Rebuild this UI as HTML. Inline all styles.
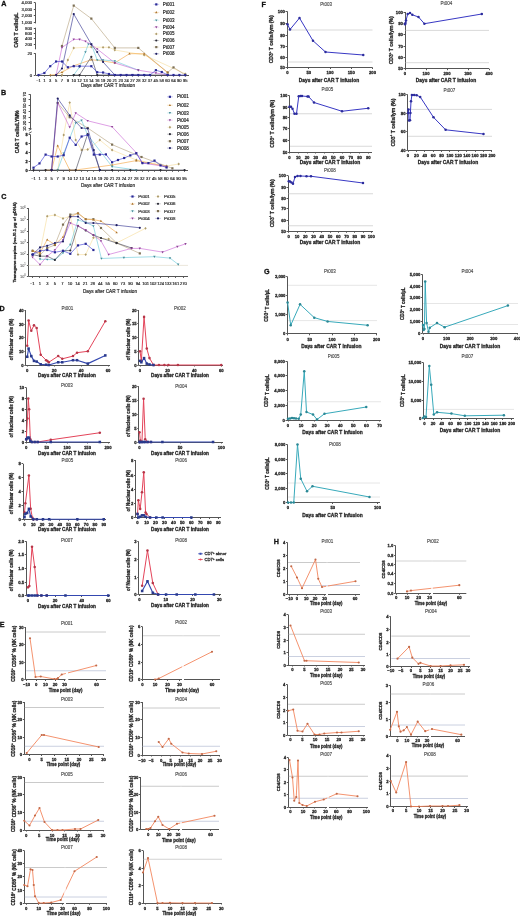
<!DOCTYPE html><html><head><meta charset="utf-8"><title>CAR T figure</title><style>html,body{margin:0;padding:0;background:#fff;width:520px;height:916px;overflow:hidden}svg{display:block;filter:blur(0.4px)}</style></head><body>
<svg width="520" height="916" viewBox="0 0 520 916" font-family="'Liberation Sans', Arial, sans-serif">
<rect width="520" height="916" fill="#fff"/>
<text x="3.80" y="3.40" font-size="7.2" text-anchor="middle" font-weight="bold" fill="#111" stroke="#111" stroke-width="0.28" dominant-baseline="central">A</text>
<line x1="35.50" y1="2.60" x2="35.50" y2="23.40" stroke="#555" stroke-width="1.0"/>
<line x1="35.50" y1="27.70" x2="35.50" y2="49.30" stroke="#555" stroke-width="1.0"/>
<line x1="35.50" y1="53.20" x2="35.50" y2="75.00" stroke="#555" stroke-width="1.0"/>
<line x1="33.80" y1="2.50" x2="35.40" y2="2.50" stroke="#555" stroke-width="1.0"/>
<text x="32.20" y="2.60" font-size="4.3" text-anchor="end" font-weight="normal" fill="#262626" stroke="#262626" stroke-width="0.17" dominant-baseline="central">4,000</text>
<line x1="33.80" y1="9.50" x2="35.40" y2="9.50" stroke="#555" stroke-width="1.0"/>
<text x="32.20" y="9.10" font-size="4.3" text-anchor="end" font-weight="normal" fill="#262626" stroke="#262626" stroke-width="0.17" dominant-baseline="central">3,000</text>
<line x1="33.80" y1="15.50" x2="35.40" y2="15.50" stroke="#555" stroke-width="1.0"/>
<text x="32.20" y="15.80" font-size="4.3" text-anchor="end" font-weight="normal" fill="#262626" stroke="#262626" stroke-width="0.17" dominant-baseline="central">2,000</text>
<line x1="33.80" y1="22.50" x2="35.40" y2="22.50" stroke="#555" stroke-width="1.0"/>
<text x="32.20" y="22.70" font-size="4.3" text-anchor="end" font-weight="normal" fill="#262626" stroke="#262626" stroke-width="0.17" dominant-baseline="central">1,000</text>
<line x1="33.80" y1="28.50" x2="35.40" y2="28.50" stroke="#555" stroke-width="1.0"/>
<text x="32.20" y="28.10" font-size="4.3" text-anchor="end" font-weight="normal" fill="#262626" stroke="#262626" stroke-width="0.17" dominant-baseline="central">800</text>
<line x1="33.80" y1="33.50" x2="35.40" y2="33.50" stroke="#555" stroke-width="1.0"/>
<text x="32.20" y="33.30" font-size="4.3" text-anchor="end" font-weight="normal" fill="#262626" stroke="#262626" stroke-width="0.17" dominant-baseline="central">600</text>
<line x1="33.80" y1="38.50" x2="35.40" y2="38.50" stroke="#555" stroke-width="1.0"/>
<text x="32.20" y="38.90" font-size="4.3" text-anchor="end" font-weight="normal" fill="#262626" stroke="#262626" stroke-width="0.17" dominant-baseline="central">400</text>
<line x1="33.80" y1="44.50" x2="35.40" y2="44.50" stroke="#555" stroke-width="1.0"/>
<text x="32.20" y="44.50" font-size="4.3" text-anchor="end" font-weight="normal" fill="#262626" stroke="#262626" stroke-width="0.17" dominant-baseline="central">200</text>
<line x1="33.80" y1="53.50" x2="35.40" y2="53.50" stroke="#555" stroke-width="1.0"/>
<text x="32.20" y="53.60" font-size="4.3" text-anchor="end" font-weight="normal" fill="#262626" stroke="#262626" stroke-width="0.17" dominant-baseline="central">20</text>
<line x1="33.80" y1="75.50" x2="35.40" y2="75.50" stroke="#555" stroke-width="1.0"/>
<text x="32.20" y="75.00" font-size="4.3" text-anchor="end" font-weight="normal" fill="#262626" stroke="#262626" stroke-width="0.17" dominant-baseline="central">0</text>
<text x="15.80" y="30.20" font-size="5.0" text-anchor="middle" font-weight="bold" fill="#262626" stroke="#262626" stroke-width="0.28" dominant-baseline="central" transform="rotate(-90 15.80 30.20)">CAR T cells/µL</text>
<line x1="35.60" y1="75.50" x2="189.00" y2="75.50" stroke="#555" stroke-width="1.0"/>
<line x1="38.50" y1="75.00" x2="38.50" y2="76.60" stroke="#555" stroke-width="1.0"/>
<text x="38.50" y="80.40" font-size="4.1" text-anchor="middle" font-weight="normal" fill="#262626" stroke="#262626" stroke-width="0.17" dominant-baseline="central">−1</text>
<line x1="44.50" y1="75.00" x2="44.50" y2="76.60" stroke="#555" stroke-width="1.0"/>
<text x="44.37" y="80.40" font-size="4.1" text-anchor="middle" font-weight="normal" fill="#262626" stroke="#262626" stroke-width="0.17" dominant-baseline="central">1</text>
<line x1="50.50" y1="75.00" x2="50.50" y2="76.60" stroke="#555" stroke-width="1.0"/>
<text x="50.24" y="80.40" font-size="4.1" text-anchor="middle" font-weight="normal" fill="#262626" stroke="#262626" stroke-width="0.17" dominant-baseline="central">3</text>
<line x1="56.50" y1="75.00" x2="56.50" y2="76.60" stroke="#555" stroke-width="1.0"/>
<text x="56.11" y="80.40" font-size="4.1" text-anchor="middle" font-weight="normal" fill="#262626" stroke="#262626" stroke-width="0.17" dominant-baseline="central">5</text>
<line x1="61.50" y1="75.00" x2="61.50" y2="76.60" stroke="#555" stroke-width="1.0"/>
<text x="61.98" y="80.40" font-size="4.1" text-anchor="middle" font-weight="normal" fill="#262626" stroke="#262626" stroke-width="0.17" dominant-baseline="central">7</text>
<line x1="67.50" y1="75.00" x2="67.50" y2="76.60" stroke="#555" stroke-width="1.0"/>
<text x="67.85" y="80.40" font-size="4.1" text-anchor="middle" font-weight="normal" fill="#262626" stroke="#262626" stroke-width="0.17" dominant-baseline="central">9</text>
<line x1="73.50" y1="75.00" x2="73.50" y2="76.60" stroke="#555" stroke-width="1.0"/>
<text x="73.72" y="80.40" font-size="4.1" text-anchor="middle" font-weight="normal" fill="#262626" stroke="#262626" stroke-width="0.17" dominant-baseline="central">10</text>
<line x1="79.50" y1="75.00" x2="79.50" y2="76.60" stroke="#555" stroke-width="1.0"/>
<text x="79.59" y="80.40" font-size="4.1" text-anchor="middle" font-weight="normal" fill="#262626" stroke="#262626" stroke-width="0.17" dominant-baseline="central">12</text>
<line x1="85.50" y1="75.00" x2="85.50" y2="76.60" stroke="#555" stroke-width="1.0"/>
<text x="85.46" y="80.40" font-size="4.1" text-anchor="middle" font-weight="normal" fill="#262626" stroke="#262626" stroke-width="0.17" dominant-baseline="central">13</text>
<line x1="91.50" y1="75.00" x2="91.50" y2="76.60" stroke="#555" stroke-width="1.0"/>
<text x="91.33" y="80.40" font-size="4.1" text-anchor="middle" font-weight="normal" fill="#262626" stroke="#262626" stroke-width="0.17" dominant-baseline="central">14</text>
<line x1="97.50" y1="75.00" x2="97.50" y2="76.60" stroke="#555" stroke-width="1.0"/>
<text x="97.20" y="80.40" font-size="4.1" text-anchor="middle" font-weight="normal" fill="#262626" stroke="#262626" stroke-width="0.17" dominant-baseline="central">16</text>
<line x1="103.50" y1="75.00" x2="103.50" y2="76.60" stroke="#555" stroke-width="1.0"/>
<text x="103.07" y="80.40" font-size="4.1" text-anchor="middle" font-weight="normal" fill="#262626" stroke="#262626" stroke-width="0.17" dominant-baseline="central">19</text>
<line x1="108.50" y1="75.00" x2="108.50" y2="76.60" stroke="#555" stroke-width="1.0"/>
<text x="108.94" y="80.40" font-size="4.1" text-anchor="middle" font-weight="normal" fill="#262626" stroke="#262626" stroke-width="0.17" dominant-baseline="central">20</text>
<line x1="114.50" y1="75.00" x2="114.50" y2="76.60" stroke="#555" stroke-width="1.0"/>
<text x="114.81" y="80.40" font-size="4.1" text-anchor="middle" font-weight="normal" fill="#262626" stroke="#262626" stroke-width="0.17" dominant-baseline="central">21</text>
<line x1="120.50" y1="75.00" x2="120.50" y2="76.60" stroke="#555" stroke-width="1.0"/>
<text x="120.68" y="80.40" font-size="4.1" text-anchor="middle" font-weight="normal" fill="#262626" stroke="#262626" stroke-width="0.17" dominant-baseline="central">23</text>
<line x1="126.50" y1="75.00" x2="126.50" y2="76.60" stroke="#555" stroke-width="1.0"/>
<text x="126.55" y="80.40" font-size="4.1" text-anchor="middle" font-weight="normal" fill="#262626" stroke="#262626" stroke-width="0.17" dominant-baseline="central">24</text>
<line x1="132.50" y1="75.00" x2="132.50" y2="76.60" stroke="#555" stroke-width="1.0"/>
<text x="132.42" y="80.40" font-size="4.1" text-anchor="middle" font-weight="normal" fill="#262626" stroke="#262626" stroke-width="0.17" dominant-baseline="central">27</text>
<line x1="138.50" y1="75.00" x2="138.50" y2="76.60" stroke="#555" stroke-width="1.0"/>
<text x="138.29" y="80.40" font-size="4.1" text-anchor="middle" font-weight="normal" fill="#262626" stroke="#262626" stroke-width="0.17" dominant-baseline="central">28</text>
<line x1="144.50" y1="75.00" x2="144.50" y2="76.60" stroke="#555" stroke-width="1.0"/>
<text x="144.16" y="80.40" font-size="4.1" text-anchor="middle" font-weight="normal" fill="#262626" stroke="#262626" stroke-width="0.17" dominant-baseline="central">32</text>
<line x1="150.50" y1="75.00" x2="150.50" y2="76.60" stroke="#555" stroke-width="1.0"/>
<text x="150.03" y="80.40" font-size="4.1" text-anchor="middle" font-weight="normal" fill="#262626" stroke="#262626" stroke-width="0.17" dominant-baseline="central">37</text>
<line x1="155.50" y1="75.00" x2="155.50" y2="76.60" stroke="#555" stroke-width="1.0"/>
<text x="155.90" y="80.40" font-size="4.1" text-anchor="middle" font-weight="normal" fill="#262626" stroke="#262626" stroke-width="0.17" dominant-baseline="central">45</text>
<line x1="161.50" y1="75.00" x2="161.50" y2="76.60" stroke="#555" stroke-width="1.0"/>
<text x="161.77" y="80.40" font-size="4.1" text-anchor="middle" font-weight="normal" fill="#262626" stroke="#262626" stroke-width="0.17" dominant-baseline="central">58</text>
<line x1="167.50" y1="75.00" x2="167.50" y2="76.60" stroke="#555" stroke-width="1.0"/>
<text x="167.64" y="80.40" font-size="4.1" text-anchor="middle" font-weight="normal" fill="#262626" stroke="#262626" stroke-width="0.17" dominant-baseline="central">60</text>
<line x1="173.50" y1="75.00" x2="173.50" y2="76.60" stroke="#555" stroke-width="1.0"/>
<text x="173.51" y="80.40" font-size="4.1" text-anchor="middle" font-weight="normal" fill="#262626" stroke="#262626" stroke-width="0.17" dominant-baseline="central">64</text>
<line x1="179.50" y1="75.00" x2="179.50" y2="76.60" stroke="#555" stroke-width="1.0"/>
<text x="179.38" y="80.40" font-size="4.1" text-anchor="middle" font-weight="normal" fill="#262626" stroke="#262626" stroke-width="0.17" dominant-baseline="central">90</text>
<line x1="185.50" y1="75.00" x2="185.50" y2="76.60" stroke="#555" stroke-width="1.0"/>
<text x="185.25" y="80.40" font-size="4.1" text-anchor="middle" font-weight="normal" fill="#262626" stroke="#262626" stroke-width="0.17" dominant-baseline="central">95</text>
<text x="108.00" y="85.80" font-size="4.7" text-anchor="middle" font-weight="normal" fill="#262626" stroke="#262626" stroke-width="0.17" dominant-baseline="central">Days after CAR T infusion</text>
<polyline points="61.98,75.00 67.85,60.00 73.72,48.00 91.33,47.00 103.07,47.30 108.94,47.30 114.81,50.00 144.16,55.00 185.25,73.80" fill="none" stroke="#f7dc98" stroke-width="0.75" stroke-linejoin="round" stroke-opacity="0.8"/>
<polygon points="61.98,73.58 60.78,75.00 61.98,76.42 63.18,75.00" fill="#ac9a6a"/>
<polygon points="67.85,58.58 66.65,60.00 67.85,61.42 69.05,60.00" fill="#ac9a6a"/>
<polygon points="73.72,46.58 72.52,48.00 73.72,49.42 74.92,48.00" fill="#ac9a6a"/>
<polygon points="91.33,45.58 90.13,47.00 91.33,48.42 92.53,47.00" fill="#ac9a6a"/>
<polygon points="103.07,45.88 101.87,47.30 103.07,48.72 104.27,47.30" fill="#ac9a6a"/>
<polygon points="108.94,45.88 107.74,47.30 108.94,48.72 110.14,47.30" fill="#ac9a6a"/>
<polygon points="114.81,48.58 113.61,50.00 114.81,51.42 116.01,50.00" fill="#ac9a6a"/>
<polygon points="144.16,53.58 142.96,55.00 144.16,56.42 145.36,55.00" fill="#ac9a6a"/>
<polygon points="185.25,72.38 184.05,73.80 185.25,75.22 186.45,73.80" fill="#ac9a6a"/>
<polyline points="61.98,46.00 73.72,5.60 91.33,18.60 114.81,47.90 138.29,47.90 167.64,72.50 173.51,67.40 185.25,75.00" fill="none" stroke="#b4a07c" stroke-width="0.75" stroke-linejoin="round" stroke-opacity="0.8"/>
<rect x="60.89" y="44.91" width="2.18" height="2.18" fill="#7d7056"/>
<rect x="72.63" y="4.51" width="2.18" height="2.18" fill="#7d7056"/>
<rect x="90.24" y="17.51" width="2.18" height="2.18" fill="#7d7056"/>
<rect x="113.72" y="46.81" width="2.18" height="2.18" fill="#7d7056"/>
<rect x="137.20" y="46.81" width="2.18" height="2.18" fill="#7d7056"/>
<rect x="166.55" y="71.41" width="2.18" height="2.18" fill="#7d7056"/>
<rect x="172.42" y="66.31" width="2.18" height="2.18" fill="#7d7056"/>
<rect x="184.16" y="73.91" width="2.18" height="2.18" fill="#7d7056"/>
<polyline points="50.24,75.00 56.11,74.60 61.98,72.20 73.72,65.80 91.33,59.70 103.07,61.00 114.81,62.90 129.49,53.70 144.16,53.70 167.64,72.50" fill="none" stroke="#f4a43c" stroke-width="0.75" stroke-linejoin="round" stroke-opacity="0.8"/>
<polygon points="50.24,73.69 49.04,75.87 51.44,75.87" fill="#aa722a"/>
<polygon points="56.11,73.29 54.91,75.47 57.31,75.47" fill="#aa722a"/>
<polygon points="61.98,70.89 60.78,73.07 63.18,73.07" fill="#aa722a"/>
<polygon points="73.72,64.49 72.52,66.67 74.92,66.67" fill="#aa722a"/>
<polygon points="91.33,58.39 90.13,60.57 92.53,60.57" fill="#aa722a"/>
<polygon points="103.07,59.69 101.87,61.87 104.27,61.87" fill="#aa722a"/>
<polygon points="114.81,61.59 113.61,63.77 116.01,63.77" fill="#aa722a"/>
<polygon points="129.49,52.39 128.28,54.57 130.69,54.57" fill="#aa722a"/>
<polygon points="144.16,52.39 142.96,54.57 145.36,54.57" fill="#aa722a"/>
<polygon points="167.64,71.19 166.44,73.37 168.84,73.37" fill="#aa722a"/>
<polyline points="73.72,75.00 79.59,67.00 85.46,52.00 88.40,44.00 91.33,44.30 97.20,60.00 103.07,60.00 114.81,61.00 138.29,70.20" fill="none" stroke="#66c8d8" stroke-width="0.75" stroke-linejoin="round" stroke-opacity="0.8"/>
<polygon points="73.72,76.31 72.52,74.13 74.92,74.13" fill="#478c97"/>
<polygon points="79.59,68.31 78.39,66.13 80.79,66.13" fill="#478c97"/>
<polygon points="85.46,53.31 84.26,51.13 86.66,51.13" fill="#478c97"/>
<polygon points="88.40,45.31 87.19,43.13 89.60,43.13" fill="#478c97"/>
<polygon points="91.33,45.61 90.13,43.43 92.53,43.43" fill="#478c97"/>
<polygon points="97.20,61.31 96.00,59.13 98.40,59.13" fill="#478c97"/>
<polygon points="103.07,61.31 101.87,59.13 104.27,59.13" fill="#478c97"/>
<polygon points="114.81,62.31 113.61,60.13 116.01,60.13" fill="#478c97"/>
<polygon points="138.29,71.51 137.09,69.33 139.49,69.33" fill="#478c97"/>
<polyline points="56.11,75.00 61.98,47.50 73.72,39.40 79.59,39.40 85.46,41.30 91.33,44.60 97.20,49.00 114.81,62.90 138.29,70.20 155.90,73.00 167.64,75.00" fill="none" stroke="#c860d4" stroke-width="0.75" stroke-linejoin="round" stroke-opacity="0.8"/>
<polygon points="56.11,76.31 54.91,74.13 57.31,74.13" fill="#8c4394"/>
<polygon points="61.98,48.81 60.78,46.63 63.18,46.63" fill="#8c4394"/>
<polygon points="73.72,40.71 72.52,38.53 74.92,38.53" fill="#8c4394"/>
<polygon points="79.59,40.71 78.39,38.53 80.79,38.53" fill="#8c4394"/>
<polygon points="85.46,42.61 84.26,40.43 86.66,40.43" fill="#8c4394"/>
<polygon points="91.33,45.91 90.13,43.73 92.53,43.73" fill="#8c4394"/>
<polygon points="97.20,50.31 96.00,48.13 98.40,48.13" fill="#8c4394"/>
<polygon points="114.81,64.21 113.61,62.03 116.01,62.03" fill="#8c4394"/>
<polygon points="138.29,71.51 137.09,69.33 139.49,69.33" fill="#8c4394"/>
<polygon points="155.90,74.31 154.70,72.13 157.10,72.13" fill="#8c4394"/>
<polygon points="167.64,76.31 166.44,74.13 168.84,74.13" fill="#8c4394"/>
<polyline points="73.72,75.00 79.59,75.00 91.33,56.80 97.20,75.00 114.81,75.00 144.16,75.00 167.64,75.00" fill="none" stroke="#3c3c4c" stroke-width="0.75" stroke-linejoin="round" stroke-opacity="0.8"/>
<circle cx="73.72" cy="75.00" r="1.0924999999999998" fill="#2a2a35"/>
<circle cx="79.59" cy="75.00" r="1.0924999999999998" fill="#2a2a35"/>
<circle cx="91.33" cy="56.80" r="1.0924999999999998" fill="#2a2a35"/>
<circle cx="97.20" cy="75.00" r="1.0924999999999998" fill="#2a2a35"/>
<circle cx="114.81" cy="75.00" r="1.0924999999999998" fill="#2a2a35"/>
<circle cx="144.16" cy="75.00" r="1.0924999999999998" fill="#2a2a35"/>
<circle cx="167.64" cy="75.00" r="1.0924999999999998" fill="#2a2a35"/>
<polyline points="56.11,75.00 61.98,68.50 73.72,14.00 91.33,44.30 97.20,52.00 103.07,62.00 114.81,75.00 132.42,75.00 150.03,75.00" fill="none" stroke="#2c2c8c" stroke-width="0.75" stroke-linejoin="round" stroke-opacity="0.8"/>
<circle cx="56.11" cy="75.00" r="1.0924999999999998" fill="#1e1e62"/>
<circle cx="61.98" cy="68.50" r="1.0924999999999998" fill="#1e1e62"/>
<circle cx="73.72" cy="14.00" r="1.0924999999999998" fill="#1e1e62"/>
<circle cx="91.33" cy="44.30" r="1.0924999999999998" fill="#1e1e62"/>
<circle cx="97.20" cy="52.00" r="1.0924999999999998" fill="#1e1e62"/>
<circle cx="103.07" cy="62.00" r="1.0924999999999998" fill="#1e1e62"/>
<circle cx="114.81" cy="75.00" r="1.0924999999999998" fill="#1e1e62"/>
<circle cx="132.42" cy="75.00" r="1.0924999999999998" fill="#1e1e62"/>
<circle cx="150.03" cy="75.00" r="1.0924999999999998" fill="#1e1e62"/>
<polyline points="38.50,75.00 44.37,73.00 50.24,66.20 56.11,61.50 61.98,61.50 67.85,67.30 73.72,66.20 79.59,66.20 91.33,66.20 97.20,72.20 103.07,72.50 108.94,74.00 114.81,75.00 120.68,75.00 126.55,75.00 132.42,75.00 138.29,75.00 144.16,75.00 150.03,75.00 155.90,70.20 161.77,72.00 167.64,75.00 173.51,75.00 179.38,75.00 185.25,75.00" fill="none" stroke="#3b3bd4" stroke-width="0.75" stroke-linejoin="round" stroke-opacity="0.8"/>
<rect x="37.41" y="73.91" width="2.18" height="2.18" fill="#292994"/>
<rect x="43.28" y="71.91" width="2.18" height="2.18" fill="#292994"/>
<rect x="49.15" y="65.11" width="2.18" height="2.18" fill="#292994"/>
<rect x="55.02" y="60.41" width="2.18" height="2.18" fill="#292994"/>
<rect x="60.89" y="60.41" width="2.18" height="2.18" fill="#292994"/>
<rect x="66.76" y="66.21" width="2.18" height="2.18" fill="#292994"/>
<rect x="72.63" y="65.11" width="2.18" height="2.18" fill="#292994"/>
<rect x="78.50" y="65.11" width="2.18" height="2.18" fill="#292994"/>
<rect x="90.24" y="65.11" width="2.18" height="2.18" fill="#292994"/>
<rect x="96.11" y="71.11" width="2.18" height="2.18" fill="#292994"/>
<rect x="101.98" y="71.41" width="2.18" height="2.18" fill="#292994"/>
<rect x="107.85" y="72.91" width="2.18" height="2.18" fill="#292994"/>
<rect x="113.72" y="73.91" width="2.18" height="2.18" fill="#292994"/>
<rect x="119.59" y="73.91" width="2.18" height="2.18" fill="#292994"/>
<rect x="125.46" y="73.91" width="2.18" height="2.18" fill="#292994"/>
<rect x="131.33" y="73.91" width="2.18" height="2.18" fill="#292994"/>
<rect x="137.20" y="73.91" width="2.18" height="2.18" fill="#292994"/>
<rect x="143.07" y="73.91" width="2.18" height="2.18" fill="#292994"/>
<rect x="148.94" y="73.91" width="2.18" height="2.18" fill="#292994"/>
<rect x="154.81" y="69.11" width="2.18" height="2.18" fill="#292994"/>
<rect x="160.68" y="70.91" width="2.18" height="2.18" fill="#292994"/>
<rect x="166.55" y="73.91" width="2.18" height="2.18" fill="#292994"/>
<rect x="172.42" y="73.91" width="2.18" height="2.18" fill="#292994"/>
<rect x="178.29" y="73.91" width="2.18" height="2.18" fill="#292994"/>
<rect x="184.16" y="73.91" width="2.18" height="2.18" fill="#292994"/>
<line x1="153.50" y1="4.40" x2="159.20" y2="4.40" stroke="#3b3bd4" stroke-width="0.8" stroke-opacity="0.35"/>
<rect x="155.20" y="3.30" width="2.20" height="2.20" fill="#292994"/>
<text x="162.70" y="4.40" font-size="4.5" text-anchor="start" font-weight="normal" fill="#262626" stroke="#262626" stroke-width="0.17" dominant-baseline="central">Pt001</text>
<line x1="153.50" y1="12.40" x2="159.20" y2="12.40" stroke="#f4a43c" stroke-width="0.8" stroke-opacity="0.35"/>
<polygon points="156.30,11.08 155.09,13.28 157.51,13.28" fill="#aa722a"/>
<text x="162.70" y="12.40" font-size="4.5" text-anchor="start" font-weight="normal" fill="#262626" stroke="#262626" stroke-width="0.17" dominant-baseline="central">Pt002</text>
<line x1="153.50" y1="20.30" x2="159.20" y2="20.30" stroke="#66c8d8" stroke-width="0.8" stroke-opacity="0.35"/>
<polygon points="156.30,21.62 155.09,19.42 157.51,19.42" fill="#478c97"/>
<text x="162.70" y="20.30" font-size="4.5" text-anchor="start" font-weight="normal" fill="#262626" stroke="#262626" stroke-width="0.17" dominant-baseline="central">Pt003</text>
<line x1="153.50" y1="27.20" x2="159.20" y2="27.20" stroke="#c860d4" stroke-width="0.8" stroke-opacity="0.35"/>
<polygon points="156.30,28.52 155.09,26.32 157.51,26.32" fill="#8c4394"/>
<text x="162.70" y="27.20" font-size="4.5" text-anchor="start" font-weight="normal" fill="#262626" stroke="#262626" stroke-width="0.17" dominant-baseline="central">Pt004</text>
<line x1="153.50" y1="33.90" x2="159.20" y2="33.90" stroke="#f7dc98" stroke-width="0.8" stroke-opacity="0.35"/>
<polygon points="156.30,32.47 155.09,33.90 156.30,35.33 157.51,33.90" fill="#ac9a6a"/>
<text x="162.70" y="33.90" font-size="4.5" text-anchor="start" font-weight="normal" fill="#262626" stroke="#262626" stroke-width="0.17" dominant-baseline="central">Pt005</text>
<line x1="153.50" y1="40.50" x2="159.20" y2="40.50" stroke="#3c3c4c" stroke-width="0.8" stroke-opacity="0.35"/>
<circle cx="156.30" cy="40.50" r="1.1" fill="#2a2a35"/>
<text x="162.70" y="40.50" font-size="4.5" text-anchor="start" font-weight="normal" fill="#262626" stroke="#262626" stroke-width="0.17" dominant-baseline="central">Pt006</text>
<line x1="153.50" y1="47.10" x2="159.20" y2="47.10" stroke="#b4a07c" stroke-width="0.8" stroke-opacity="0.35"/>
<rect x="155.20" y="46.00" width="2.20" height="2.20" fill="#7d7056"/>
<text x="162.70" y="47.10" font-size="4.5" text-anchor="start" font-weight="normal" fill="#262626" stroke="#262626" stroke-width="0.17" dominant-baseline="central">Pt007</text>
<line x1="153.50" y1="53.80" x2="159.20" y2="53.80" stroke="#2c2c8c" stroke-width="0.8" stroke-opacity="0.35"/>
<circle cx="156.30" cy="53.80" r="1.1" fill="#1e1e62"/>
<text x="162.70" y="53.80" font-size="4.5" text-anchor="start" font-weight="normal" fill="#262626" stroke="#262626" stroke-width="0.17" dominant-baseline="central">Pt008</text>
<text x="3.60" y="92.80" font-size="7.2" text-anchor="middle" font-weight="bold" fill="#111" stroke="#111" stroke-width="0.28" dominant-baseline="central">B</text>
<line x1="30.50" y1="94.20" x2="30.50" y2="129.20" stroke="#555" stroke-width="1.0"/>
<line x1="30.50" y1="134.40" x2="30.50" y2="170.20" stroke="#555" stroke-width="1.0"/>
<line x1="28.60" y1="94.50" x2="30.20" y2="94.50" stroke="#555" stroke-width="1.0"/>
<text x="25.00" y="94.20" font-size="4.0" text-anchor="middle" font-weight="normal" fill="#262626" stroke="#262626" stroke-width="0.17" dominant-baseline="central" transform="rotate(-90 25.00 94.20)">70</text>
<line x1="28.60" y1="99.50" x2="30.20" y2="99.50" stroke="#555" stroke-width="1.0"/>
<text x="25.00" y="99.95" font-size="4.0" text-anchor="middle" font-weight="normal" fill="#262626" stroke="#262626" stroke-width="0.17" dominant-baseline="central" transform="rotate(-90 25.00 99.95)">60</text>
<line x1="28.60" y1="105.50" x2="30.20" y2="105.50" stroke="#555" stroke-width="1.0"/>
<text x="25.00" y="105.70" font-size="4.0" text-anchor="middle" font-weight="normal" fill="#262626" stroke="#262626" stroke-width="0.17" dominant-baseline="central" transform="rotate(-90 25.00 105.70)">50</text>
<line x1="28.60" y1="111.50" x2="30.20" y2="111.50" stroke="#555" stroke-width="1.0"/>
<text x="25.00" y="111.45" font-size="4.0" text-anchor="middle" font-weight="normal" fill="#262626" stroke="#262626" stroke-width="0.17" dominant-baseline="central" transform="rotate(-90 25.00 111.45)">40</text>
<line x1="28.60" y1="117.50" x2="30.20" y2="117.50" stroke="#555" stroke-width="1.0"/>
<text x="25.00" y="117.20" font-size="4.0" text-anchor="middle" font-weight="normal" fill="#262626" stroke="#262626" stroke-width="0.17" dominant-baseline="central" transform="rotate(-90 25.00 117.20)">30</text>
<line x1="28.60" y1="122.50" x2="30.20" y2="122.50" stroke="#555" stroke-width="1.0"/>
<text x="25.00" y="122.95" font-size="4.0" text-anchor="middle" font-weight="normal" fill="#262626" stroke="#262626" stroke-width="0.17" dominant-baseline="central" transform="rotate(-90 25.00 122.95)">20</text>
<line x1="28.60" y1="128.50" x2="30.20" y2="128.50" stroke="#555" stroke-width="1.0"/>
<text x="25.00" y="128.70" font-size="4.0" text-anchor="middle" font-weight="normal" fill="#262626" stroke="#262626" stroke-width="0.17" dominant-baseline="central" transform="rotate(-90 25.00 128.70)">10</text>
<line x1="28.60" y1="134.50" x2="30.20" y2="134.50" stroke="#555" stroke-width="1.0"/>
<text x="27.60" y="134.40" font-size="3.9" text-anchor="end" font-weight="bold" fill="#262626" stroke="#262626" stroke-width="0.28" dominant-baseline="central">8</text>
<line x1="28.60" y1="143.50" x2="30.20" y2="143.50" stroke="#555" stroke-width="1.0"/>
<text x="27.60" y="143.70" font-size="3.9" text-anchor="end" font-weight="bold" fill="#262626" stroke="#262626" stroke-width="0.28" dominant-baseline="central">6</text>
<line x1="28.60" y1="152.50" x2="30.20" y2="152.50" stroke="#555" stroke-width="1.0"/>
<text x="27.60" y="152.30" font-size="3.9" text-anchor="end" font-weight="bold" fill="#262626" stroke="#262626" stroke-width="0.28" dominant-baseline="central">4</text>
<line x1="28.60" y1="161.50" x2="30.20" y2="161.50" stroke="#555" stroke-width="1.0"/>
<text x="27.60" y="161.20" font-size="3.9" text-anchor="end" font-weight="bold" fill="#262626" stroke="#262626" stroke-width="0.28" dominant-baseline="central">2</text>
<line x1="28.60" y1="170.50" x2="30.20" y2="170.50" stroke="#555" stroke-width="1.0"/>
<text x="27.60" y="170.20" font-size="3.9" text-anchor="end" font-weight="bold" fill="#262626" stroke="#262626" stroke-width="0.28" dominant-baseline="central">0</text>
<line x1="28.80" y1="130.40" x2="31.60" y2="128.80" stroke="#555" stroke-width="1.0"/>
<line x1="28.80" y1="133.40" x2="31.60" y2="131.80" stroke="#555" stroke-width="1.0"/>
<text x="17.30" y="131.80" font-size="4.9" text-anchor="middle" font-weight="bold" fill="#262626" stroke="#262626" stroke-width="0.28" dominant-baseline="central" transform="rotate(-90 17.30 131.80)">CAR T cells/LYM%</text>
<line x1="30.20" y1="170.50" x2="188.00" y2="170.50" stroke="#555" stroke-width="1.0"/>
<line x1="33.50" y1="170.20" x2="33.50" y2="171.80" stroke="#555" stroke-width="1.0"/>
<text x="33.50" y="178.60" font-size="4.1" text-anchor="middle" font-weight="normal" fill="#262626" stroke="#262626" stroke-width="0.17" dominant-baseline="central">−1</text>
<line x1="39.50" y1="170.20" x2="39.50" y2="171.80" stroke="#555" stroke-width="1.0"/>
<text x="39.54" y="178.60" font-size="4.1" text-anchor="middle" font-weight="normal" fill="#262626" stroke="#262626" stroke-width="0.17" dominant-baseline="central">1</text>
<line x1="45.50" y1="170.20" x2="45.50" y2="171.80" stroke="#555" stroke-width="1.0"/>
<text x="45.58" y="178.60" font-size="4.1" text-anchor="middle" font-weight="normal" fill="#262626" stroke="#262626" stroke-width="0.17" dominant-baseline="central">3</text>
<line x1="51.50" y1="170.20" x2="51.50" y2="171.80" stroke="#555" stroke-width="1.0"/>
<text x="51.62" y="178.60" font-size="4.1" text-anchor="middle" font-weight="normal" fill="#262626" stroke="#262626" stroke-width="0.17" dominant-baseline="central">5</text>
<line x1="57.50" y1="170.20" x2="57.50" y2="171.80" stroke="#555" stroke-width="1.0"/>
<text x="57.66" y="178.60" font-size="4.1" text-anchor="middle" font-weight="normal" fill="#262626" stroke="#262626" stroke-width="0.17" dominant-baseline="central">7</text>
<line x1="63.50" y1="170.20" x2="63.50" y2="171.80" stroke="#555" stroke-width="1.0"/>
<text x="63.70" y="178.60" font-size="4.1" text-anchor="middle" font-weight="normal" fill="#262626" stroke="#262626" stroke-width="0.17" dominant-baseline="central">9</text>
<line x1="69.50" y1="170.20" x2="69.50" y2="171.80" stroke="#555" stroke-width="1.0"/>
<text x="69.74" y="178.60" font-size="4.1" text-anchor="middle" font-weight="normal" fill="#262626" stroke="#262626" stroke-width="0.17" dominant-baseline="central">10</text>
<line x1="75.50" y1="170.20" x2="75.50" y2="171.80" stroke="#555" stroke-width="1.0"/>
<text x="75.78" y="178.60" font-size="4.1" text-anchor="middle" font-weight="normal" fill="#262626" stroke="#262626" stroke-width="0.17" dominant-baseline="central">12</text>
<line x1="81.50" y1="170.20" x2="81.50" y2="171.80" stroke="#555" stroke-width="1.0"/>
<text x="81.82" y="178.60" font-size="4.1" text-anchor="middle" font-weight="normal" fill="#262626" stroke="#262626" stroke-width="0.17" dominant-baseline="central">13</text>
<line x1="87.50" y1="170.20" x2="87.50" y2="171.80" stroke="#555" stroke-width="1.0"/>
<text x="87.86" y="178.60" font-size="4.1" text-anchor="middle" font-weight="normal" fill="#262626" stroke="#262626" stroke-width="0.17" dominant-baseline="central">14</text>
<line x1="93.50" y1="170.20" x2="93.50" y2="171.80" stroke="#555" stroke-width="1.0"/>
<text x="93.90" y="178.60" font-size="4.1" text-anchor="middle" font-weight="normal" fill="#262626" stroke="#262626" stroke-width="0.17" dominant-baseline="central">16</text>
<line x1="99.50" y1="170.20" x2="99.50" y2="171.80" stroke="#555" stroke-width="1.0"/>
<text x="99.94" y="178.60" font-size="4.1" text-anchor="middle" font-weight="normal" fill="#262626" stroke="#262626" stroke-width="0.17" dominant-baseline="central">19</text>
<line x1="105.50" y1="170.20" x2="105.50" y2="171.80" stroke="#555" stroke-width="1.0"/>
<text x="105.98" y="178.60" font-size="4.1" text-anchor="middle" font-weight="normal" fill="#262626" stroke="#262626" stroke-width="0.17" dominant-baseline="central">20</text>
<line x1="112.50" y1="170.20" x2="112.50" y2="171.80" stroke="#555" stroke-width="1.0"/>
<text x="112.02" y="178.60" font-size="4.1" text-anchor="middle" font-weight="normal" fill="#262626" stroke="#262626" stroke-width="0.17" dominant-baseline="central">21</text>
<line x1="118.50" y1="170.20" x2="118.50" y2="171.80" stroke="#555" stroke-width="1.0"/>
<text x="118.06" y="178.60" font-size="4.1" text-anchor="middle" font-weight="normal" fill="#262626" stroke="#262626" stroke-width="0.17" dominant-baseline="central">23</text>
<line x1="124.50" y1="170.20" x2="124.50" y2="171.80" stroke="#555" stroke-width="1.0"/>
<text x="124.10" y="178.60" font-size="4.1" text-anchor="middle" font-weight="normal" fill="#262626" stroke="#262626" stroke-width="0.17" dominant-baseline="central">24</text>
<line x1="130.50" y1="170.20" x2="130.50" y2="171.80" stroke="#555" stroke-width="1.0"/>
<text x="130.14" y="178.60" font-size="4.1" text-anchor="middle" font-weight="normal" fill="#262626" stroke="#262626" stroke-width="0.17" dominant-baseline="central">27</text>
<line x1="136.50" y1="170.20" x2="136.50" y2="171.80" stroke="#555" stroke-width="1.0"/>
<text x="136.18" y="178.60" font-size="4.1" text-anchor="middle" font-weight="normal" fill="#262626" stroke="#262626" stroke-width="0.17" dominant-baseline="central">28</text>
<line x1="142.50" y1="170.20" x2="142.50" y2="171.80" stroke="#555" stroke-width="1.0"/>
<text x="142.22" y="178.60" font-size="4.1" text-anchor="middle" font-weight="normal" fill="#262626" stroke="#262626" stroke-width="0.17" dominant-baseline="central">32</text>
<line x1="148.50" y1="170.20" x2="148.50" y2="171.80" stroke="#555" stroke-width="1.0"/>
<text x="148.26" y="178.60" font-size="4.1" text-anchor="middle" font-weight="normal" fill="#262626" stroke="#262626" stroke-width="0.17" dominant-baseline="central">37</text>
<line x1="154.50" y1="170.20" x2="154.50" y2="171.80" stroke="#555" stroke-width="1.0"/>
<text x="154.30" y="178.60" font-size="4.1" text-anchor="middle" font-weight="normal" fill="#262626" stroke="#262626" stroke-width="0.17" dominant-baseline="central">45</text>
<line x1="160.50" y1="170.20" x2="160.50" y2="171.80" stroke="#555" stroke-width="1.0"/>
<text x="160.34" y="178.60" font-size="4.1" text-anchor="middle" font-weight="normal" fill="#262626" stroke="#262626" stroke-width="0.17" dominant-baseline="central">58</text>
<line x1="166.50" y1="170.20" x2="166.50" y2="171.80" stroke="#555" stroke-width="1.0"/>
<text x="166.38" y="178.60" font-size="4.1" text-anchor="middle" font-weight="normal" fill="#262626" stroke="#262626" stroke-width="0.17" dominant-baseline="central">60</text>
<line x1="172.50" y1="170.20" x2="172.50" y2="171.80" stroke="#555" stroke-width="1.0"/>
<text x="172.42" y="178.60" font-size="4.1" text-anchor="middle" font-weight="normal" fill="#262626" stroke="#262626" stroke-width="0.17" dominant-baseline="central">64</text>
<line x1="178.50" y1="170.20" x2="178.50" y2="171.80" stroke="#555" stroke-width="1.0"/>
<text x="178.46" y="178.60" font-size="4.1" text-anchor="middle" font-weight="normal" fill="#262626" stroke="#262626" stroke-width="0.17" dominant-baseline="central">90</text>
<line x1="184.50" y1="170.20" x2="184.50" y2="171.80" stroke="#555" stroke-width="1.0"/>
<text x="184.50" y="178.60" font-size="4.1" text-anchor="middle" font-weight="normal" fill="#262626" stroke="#262626" stroke-width="0.17" dominant-baseline="central">95</text>
<text x="108.00" y="185.20" font-size="4.7" text-anchor="middle" font-weight="normal" fill="#262626" stroke="#262626" stroke-width="0.17" dominant-baseline="central">Days after CAR T infusion</text>
<polyline points="57.70,170.00 63.70,135.00 69.70,102.60 75.70,140.00 81.60,150.00 87.70,149.50 99.80,140.00 112.10,150.00 136.30,160.00 166.60,166.00 178.70,164.00" fill="none" stroke="#f7dc98" stroke-width="0.75" stroke-linejoin="round" stroke-opacity="0.8"/>
<polygon points="57.70,168.58 56.50,170.00 57.70,171.42 58.90,170.00" fill="#ac9a6a"/>
<polygon points="63.70,133.58 62.50,135.00 63.70,136.42 64.90,135.00" fill="#ac9a6a"/>
<polygon points="69.70,101.18 68.50,102.60 69.70,104.02 70.90,102.60" fill="#ac9a6a"/>
<polygon points="75.70,138.58 74.50,140.00 75.70,141.42 76.90,140.00" fill="#ac9a6a"/>
<polygon points="81.60,148.58 80.40,150.00 81.60,151.42 82.80,150.00" fill="#ac9a6a"/>
<polygon points="87.70,148.08 86.50,149.50 87.70,150.92 88.90,149.50" fill="#ac9a6a"/>
<polygon points="99.80,138.58 98.60,140.00 99.80,141.42 101.00,140.00" fill="#ac9a6a"/>
<polygon points="112.10,148.58 110.90,150.00 112.10,151.42 113.30,150.00" fill="#ac9a6a"/>
<polygon points="136.30,158.58 135.10,160.00 136.30,161.42 137.50,160.00" fill="#ac9a6a"/>
<polygon points="166.60,164.58 165.40,166.00 166.60,167.42 167.80,166.00" fill="#ac9a6a"/>
<polygon points="178.70,162.58 177.50,164.00 178.70,165.42 179.90,164.00" fill="#ac9a6a"/>
<polyline points="51.60,170.00 57.70,103.00 69.70,117.20 87.70,128.00 112.10,144.60 141.50,157.00 172.40,168.30" fill="none" stroke="#b4a07c" stroke-width="0.75" stroke-linejoin="round" stroke-opacity="0.8"/>
<rect x="50.51" y="168.91" width="2.18" height="2.18" fill="#7d7056"/>
<rect x="56.61" y="101.91" width="2.18" height="2.18" fill="#7d7056"/>
<rect x="68.61" y="116.11" width="2.18" height="2.18" fill="#7d7056"/>
<rect x="86.61" y="126.91" width="2.18" height="2.18" fill="#7d7056"/>
<rect x="111.01" y="143.51" width="2.18" height="2.18" fill="#7d7056"/>
<rect x="140.41" y="155.91" width="2.18" height="2.18" fill="#7d7056"/>
<rect x="171.31" y="167.21" width="2.18" height="2.18" fill="#7d7056"/>
<polyline points="45.60,170.00 51.60,170.00 57.70,145.70 69.70,170.00 75.70,170.00 112.10,165.00 136.30,160.60 166.60,166.60" fill="none" stroke="#f4a43c" stroke-width="0.75" stroke-linejoin="round" stroke-opacity="0.8"/>
<polygon points="45.60,168.69 44.40,170.87 46.80,170.87" fill="#aa722a"/>
<polygon points="51.60,168.69 50.40,170.87 52.80,170.87" fill="#aa722a"/>
<polygon points="57.70,144.39 56.50,146.57 58.90,146.57" fill="#aa722a"/>
<polygon points="69.70,168.69 68.50,170.87 70.90,170.87" fill="#aa722a"/>
<polygon points="75.70,168.69 74.50,170.87 76.90,170.87" fill="#aa722a"/>
<polygon points="112.10,163.69 110.90,165.87 113.30,165.87" fill="#aa722a"/>
<polygon points="136.30,159.29 135.10,161.47 137.50,161.47" fill="#aa722a"/>
<polygon points="166.60,165.29 165.40,167.47 167.80,167.47" fill="#aa722a"/>
<polyline points="57.70,170.00 63.70,153.40 75.70,123.00 81.60,120.30 87.70,135.00 112.10,166.60 136.30,170.00" fill="none" stroke="#66c8d8" stroke-width="0.75" stroke-linejoin="round" stroke-opacity="0.8"/>
<polygon points="57.70,171.31 56.50,169.13 58.90,169.13" fill="#478c97"/>
<polygon points="63.70,154.71 62.50,152.53 64.90,152.53" fill="#478c97"/>
<polygon points="75.70,124.31 74.50,122.13 76.90,122.13" fill="#478c97"/>
<polygon points="81.60,121.61 80.40,119.43 82.80,119.43" fill="#478c97"/>
<polygon points="87.70,136.31 86.50,134.13 88.90,134.13" fill="#478c97"/>
<polygon points="112.10,167.91 110.90,165.73 113.30,165.73" fill="#478c97"/>
<polygon points="136.30,171.31 135.10,169.13 137.50,169.13" fill="#478c97"/>
<polyline points="33.50,170.00 45.60,170.00 51.60,170.00 75.80,170.00 87.70,134.00 99.80,170.00 112.10,170.00 130.30,170.00 160.50,170.00 184.60,170.00" fill="none" stroke="#3c3c4c" stroke-width="0.75" stroke-linejoin="round" stroke-opacity="0.8"/>
<circle cx="33.50" cy="170.00" r="1.0924999999999998" fill="#2a2a35"/>
<circle cx="45.60" cy="170.00" r="1.0924999999999998" fill="#2a2a35"/>
<circle cx="51.60" cy="170.00" r="1.0924999999999998" fill="#2a2a35"/>
<circle cx="75.80" cy="170.00" r="1.0924999999999998" fill="#2a2a35"/>
<circle cx="87.70" cy="134.00" r="1.0924999999999998" fill="#2a2a35"/>
<circle cx="99.80" cy="170.00" r="1.0924999999999998" fill="#2a2a35"/>
<circle cx="112.10" cy="170.00" r="1.0924999999999998" fill="#2a2a35"/>
<circle cx="130.30" cy="170.00" r="1.0924999999999998" fill="#2a2a35"/>
<circle cx="160.50" cy="170.00" r="1.0924999999999998" fill="#2a2a35"/>
<circle cx="184.60" cy="170.00" r="1.0924999999999998" fill="#2a2a35"/>
<polyline points="51.60,170.00 57.70,103.00 69.70,127.20 75.70,113.00 87.70,120.80 112.10,126.80 136.30,152.80 142.40,163.10 166.60,166.60" fill="none" stroke="#c860d4" stroke-width="0.75" stroke-linejoin="round" stroke-opacity="0.8"/>
<polygon points="51.60,171.31 50.40,169.13 52.80,169.13" fill="#8c4394"/>
<polygon points="57.70,104.31 56.50,102.13 58.90,102.13" fill="#8c4394"/>
<polygon points="69.70,128.51 68.50,126.33 70.90,126.33" fill="#8c4394"/>
<polygon points="75.70,114.31 74.50,112.13 76.90,112.13" fill="#8c4394"/>
<polygon points="87.70,122.11 86.50,119.93 88.90,119.93" fill="#8c4394"/>
<polygon points="112.10,128.11 110.90,125.93 113.30,125.93" fill="#8c4394"/>
<polygon points="136.30,154.11 135.10,151.93 137.50,151.93" fill="#8c4394"/>
<polygon points="142.40,164.41 141.20,162.23 143.60,162.23" fill="#8c4394"/>
<polygon points="166.60,167.91 165.40,165.73 167.80,165.73" fill="#8c4394"/>
<polyline points="51.60,170.00 57.70,98.50 69.70,115.40 81.60,128.00 87.70,128.50 93.80,150.00 99.80,170.00" fill="none" stroke="#2c2c8c" stroke-width="0.75" stroke-linejoin="round" stroke-opacity="0.8"/>
<circle cx="51.60" cy="170.00" r="1.0924999999999998" fill="#1e1e62"/>
<circle cx="57.70" cy="98.50" r="1.0924999999999998" fill="#1e1e62"/>
<circle cx="69.70" cy="115.40" r="1.0924999999999998" fill="#1e1e62"/>
<circle cx="81.60" cy="128.00" r="1.0924999999999998" fill="#1e1e62"/>
<circle cx="87.70" cy="128.50" r="1.0924999999999998" fill="#1e1e62"/>
<circle cx="93.80" cy="150.00" r="1.0924999999999998" fill="#1e1e62"/>
<circle cx="99.80" cy="170.00" r="1.0924999999999998" fill="#1e1e62"/>
<polyline points="33.50,167.70 39.50,163.40 45.60,154.60 51.60,156.50 57.70,156.50 63.70,155.20 69.70,137.70 75.70,144.90 81.60,136.50 87.70,134.90 93.80,154.60 99.80,154.60 105.90,154.40 112.10,162.30 118.00,160.00 124.20,158.00 130.30,155.40 136.30,153.30 142.40,163.10 148.40,163.10 154.50,160.60 160.50,165.40 166.60,167.50" fill="none" stroke="#3b3bd4" stroke-width="0.75" stroke-linejoin="round" stroke-opacity="0.8"/>
<rect x="32.41" y="166.61" width="2.18" height="2.18" fill="#292994"/>
<rect x="38.41" y="162.31" width="2.18" height="2.18" fill="#292994"/>
<rect x="44.51" y="153.51" width="2.18" height="2.18" fill="#292994"/>
<rect x="50.51" y="155.41" width="2.18" height="2.18" fill="#292994"/>
<rect x="56.61" y="155.41" width="2.18" height="2.18" fill="#292994"/>
<rect x="62.61" y="154.11" width="2.18" height="2.18" fill="#292994"/>
<rect x="68.61" y="136.61" width="2.18" height="2.18" fill="#292994"/>
<rect x="74.61" y="143.81" width="2.18" height="2.18" fill="#292994"/>
<rect x="80.51" y="135.41" width="2.18" height="2.18" fill="#292994"/>
<rect x="86.61" y="133.81" width="2.18" height="2.18" fill="#292994"/>
<rect x="92.71" y="153.51" width="2.18" height="2.18" fill="#292994"/>
<rect x="98.71" y="153.51" width="2.18" height="2.18" fill="#292994"/>
<rect x="104.81" y="153.31" width="2.18" height="2.18" fill="#292994"/>
<rect x="111.01" y="161.21" width="2.18" height="2.18" fill="#292994"/>
<rect x="116.91" y="158.91" width="2.18" height="2.18" fill="#292994"/>
<rect x="123.11" y="156.91" width="2.18" height="2.18" fill="#292994"/>
<rect x="129.21" y="154.31" width="2.18" height="2.18" fill="#292994"/>
<rect x="135.21" y="152.21" width="2.18" height="2.18" fill="#292994"/>
<rect x="141.31" y="162.01" width="2.18" height="2.18" fill="#292994"/>
<rect x="147.31" y="162.01" width="2.18" height="2.18" fill="#292994"/>
<rect x="153.41" y="159.51" width="2.18" height="2.18" fill="#292994"/>
<rect x="159.41" y="164.31" width="2.18" height="2.18" fill="#292994"/>
<rect x="165.51" y="166.41" width="2.18" height="2.18" fill="#292994"/>
<line x1="167.00" y1="96.80" x2="172.80" y2="96.80" stroke="#3b3bd4" stroke-width="0.8" stroke-opacity="0.35"/>
<rect x="168.80" y="95.70" width="2.20" height="2.20" fill="#292994"/>
<text x="177.00" y="96.80" font-size="4.5" text-anchor="start" font-weight="normal" fill="#262626" stroke="#262626" stroke-width="0.17" dominant-baseline="central">Pt001</text>
<line x1="167.00" y1="105.20" x2="172.80" y2="105.20" stroke="#f4a43c" stroke-width="0.8" stroke-opacity="0.35"/>
<polygon points="169.90,103.88 168.69,106.08 171.11,106.08" fill="#aa722a"/>
<text x="177.00" y="105.20" font-size="4.5" text-anchor="start" font-weight="normal" fill="#262626" stroke="#262626" stroke-width="0.17" dominant-baseline="central">Pt002</text>
<line x1="167.00" y1="113.00" x2="172.80" y2="113.00" stroke="#66c8d8" stroke-width="0.8" stroke-opacity="0.35"/>
<polygon points="169.90,114.32 168.69,112.12 171.11,112.12" fill="#478c97"/>
<text x="177.00" y="113.00" font-size="4.5" text-anchor="start" font-weight="normal" fill="#262626" stroke="#262626" stroke-width="0.17" dominant-baseline="central">Pt003</text>
<line x1="167.00" y1="120.20" x2="172.80" y2="120.20" stroke="#c860d4" stroke-width="0.8" stroke-opacity="0.35"/>
<polygon points="169.90,121.52 168.69,119.32 171.11,119.32" fill="#8c4394"/>
<text x="177.00" y="120.20" font-size="4.5" text-anchor="start" font-weight="normal" fill="#262626" stroke="#262626" stroke-width="0.17" dominant-baseline="central">Pt004</text>
<line x1="167.00" y1="127.30" x2="172.80" y2="127.30" stroke="#f7dc98" stroke-width="0.8" stroke-opacity="0.35"/>
<polygon points="169.90,125.87 168.69,127.30 169.90,128.73 171.11,127.30" fill="#ac9a6a"/>
<text x="177.00" y="127.30" font-size="4.5" text-anchor="start" font-weight="normal" fill="#262626" stroke="#262626" stroke-width="0.17" dominant-baseline="central">Pt005</text>
<line x1="167.00" y1="134.20" x2="172.80" y2="134.20" stroke="#3c3c4c" stroke-width="0.8" stroke-opacity="0.35"/>
<circle cx="169.90" cy="134.20" r="1.1" fill="#2a2a35"/>
<text x="177.00" y="134.20" font-size="4.5" text-anchor="start" font-weight="normal" fill="#262626" stroke="#262626" stroke-width="0.17" dominant-baseline="central">Pt006</text>
<line x1="167.00" y1="141.20" x2="172.80" y2="141.20" stroke="#b4a07c" stroke-width="0.8" stroke-opacity="0.35"/>
<rect x="168.80" y="140.10" width="2.20" height="2.20" fill="#7d7056"/>
<text x="177.00" y="141.20" font-size="4.5" text-anchor="start" font-weight="normal" fill="#262626" stroke="#262626" stroke-width="0.17" dominant-baseline="central">Pt007</text>
<line x1="167.00" y1="148.10" x2="172.80" y2="148.10" stroke="#2c2c8c" stroke-width="0.8" stroke-opacity="0.35"/>
<circle cx="169.90" cy="148.10" r="1.1" fill="#1e1e62"/>
<text x="177.00" y="148.10" font-size="4.5" text-anchor="start" font-weight="normal" fill="#262626" stroke="#262626" stroke-width="0.17" dominant-baseline="central">Pt008</text>
<text x="3.80" y="196.30" font-size="7.2" text-anchor="middle" font-weight="bold" fill="#111" stroke="#111" stroke-width="0.28" dominant-baseline="central">C</text>
<line x1="28.50" y1="208.10" x2="28.50" y2="276.30" stroke="#555" stroke-width="1.0"/>
<line x1="26.90" y1="276.50" x2="28.50" y2="276.50" stroke="#555" stroke-width="1.0"/>
<text x="25.8" y="277.60" font-size="3.8" text-anchor="end" fill="#262626">10<tspan font-size="2.6" dy="-1.5">0</tspan></text>
<line x1="26.90" y1="265.50" x2="28.50" y2="265.50" stroke="#555" stroke-width="1.0"/>
<text x="25.8" y="266.70" font-size="3.8" text-anchor="end" fill="#262626">10<tspan font-size="2.6" dy="-1.5">1</tspan></text>
<line x1="26.90" y1="254.50" x2="28.50" y2="254.50" stroke="#555" stroke-width="1.0"/>
<text x="25.8" y="255.30" font-size="3.8" text-anchor="end" fill="#262626">10<tspan font-size="2.6" dy="-1.5">2</tspan></text>
<line x1="26.90" y1="242.50" x2="28.50" y2="242.50" stroke="#555" stroke-width="1.0"/>
<text x="25.8" y="243.80" font-size="3.8" text-anchor="end" fill="#262626">10<tspan font-size="2.6" dy="-1.5">3</tspan></text>
<line x1="26.90" y1="231.50" x2="28.50" y2="231.50" stroke="#555" stroke-width="1.0"/>
<text x="25.8" y="232.60" font-size="3.8" text-anchor="end" fill="#262626">10<tspan font-size="2.6" dy="-1.5">4</tspan></text>
<line x1="26.90" y1="219.50" x2="28.50" y2="219.50" stroke="#555" stroke-width="1.0"/>
<text x="25.8" y="220.90" font-size="3.8" text-anchor="end" fill="#262626">10<tspan font-size="2.6" dy="-1.5">5</tspan></text>
<line x1="26.90" y1="208.50" x2="28.50" y2="208.50" stroke="#555" stroke-width="1.0"/>
<text x="25.8" y="209.40" font-size="3.8" text-anchor="end" fill="#262626">10<tspan font-size="2.6" dy="-1.5">6</tspan></text>
<line x1="28.50" y1="265.40" x2="188.00" y2="265.40" stroke="#e2dccc" stroke-width="0.7"/>
<text x="14.40" y="242.40" font-size="4.4" text-anchor="middle" font-weight="bold" fill="#262626" stroke="#262626" stroke-width="0.28" dominant-baseline="central" transform="rotate(-90 14.40 242.40)">Transgene copies (no./0.1 µg of gDNA)</text>
<line x1="28.50" y1="276.50" x2="188.00" y2="276.50" stroke="#555" stroke-width="1.0"/>
<line x1="32.50" y1="276.30" x2="32.50" y2="277.90" stroke="#555" stroke-width="1.0"/>
<text x="32.30" y="283.60" font-size="4.1" text-anchor="middle" font-weight="normal" fill="#262626" stroke="#262626" stroke-width="0.17" dominant-baseline="central">−1</text>
<line x1="39.50" y1="276.30" x2="39.50" y2="277.90" stroke="#555" stroke-width="1.0"/>
<text x="39.85" y="283.60" font-size="4.1" text-anchor="middle" font-weight="normal" fill="#262626" stroke="#262626" stroke-width="0.17" dominant-baseline="central">1</text>
<line x1="47.50" y1="276.30" x2="47.50" y2="277.90" stroke="#555" stroke-width="1.0"/>
<text x="47.40" y="283.60" font-size="4.1" text-anchor="middle" font-weight="normal" fill="#262626" stroke="#262626" stroke-width="0.17" dominant-baseline="central">3</text>
<line x1="54.50" y1="276.30" x2="54.50" y2="277.90" stroke="#555" stroke-width="1.0"/>
<text x="54.95" y="283.60" font-size="4.1" text-anchor="middle" font-weight="normal" fill="#262626" stroke="#262626" stroke-width="0.17" dominant-baseline="central">5</text>
<line x1="62.50" y1="276.30" x2="62.50" y2="277.90" stroke="#555" stroke-width="1.0"/>
<text x="62.50" y="283.60" font-size="4.1" text-anchor="middle" font-weight="normal" fill="#262626" stroke="#262626" stroke-width="0.17" dominant-baseline="central">7</text>
<line x1="70.50" y1="276.30" x2="70.50" y2="277.90" stroke="#555" stroke-width="1.0"/>
<text x="70.05" y="283.60" font-size="4.1" text-anchor="middle" font-weight="normal" fill="#262626" stroke="#262626" stroke-width="0.17" dominant-baseline="central">10</text>
<line x1="77.50" y1="276.30" x2="77.50" y2="277.90" stroke="#555" stroke-width="1.0"/>
<text x="77.60" y="283.60" font-size="4.1" text-anchor="middle" font-weight="normal" fill="#262626" stroke="#262626" stroke-width="0.17" dominant-baseline="central">14</text>
<line x1="85.50" y1="276.30" x2="85.50" y2="277.90" stroke="#555" stroke-width="1.0"/>
<text x="85.15" y="283.60" font-size="4.1" text-anchor="middle" font-weight="normal" fill="#262626" stroke="#262626" stroke-width="0.17" dominant-baseline="central">21</text>
<line x1="92.50" y1="276.30" x2="92.50" y2="277.90" stroke="#555" stroke-width="1.0"/>
<text x="92.70" y="283.60" font-size="4.1" text-anchor="middle" font-weight="normal" fill="#262626" stroke="#262626" stroke-width="0.17" dominant-baseline="central">28</text>
<line x1="100.50" y1="276.30" x2="100.50" y2="277.90" stroke="#555" stroke-width="1.0"/>
<text x="100.25" y="283.60" font-size="4.1" text-anchor="middle" font-weight="normal" fill="#262626" stroke="#262626" stroke-width="0.17" dominant-baseline="central">44</text>
<line x1="107.50" y1="276.30" x2="107.50" y2="277.90" stroke="#555" stroke-width="1.0"/>
<text x="107.80" y="283.60" font-size="4.1" text-anchor="middle" font-weight="normal" fill="#262626" stroke="#262626" stroke-width="0.17" dominant-baseline="central">55</text>
<line x1="115.50" y1="276.30" x2="115.50" y2="277.90" stroke="#555" stroke-width="1.0"/>
<text x="115.35" y="283.60" font-size="4.1" text-anchor="middle" font-weight="normal" fill="#262626" stroke="#262626" stroke-width="0.17" dominant-baseline="central">60</text>
<line x1="122.50" y1="276.30" x2="122.50" y2="277.90" stroke="#555" stroke-width="1.0"/>
<text x="122.90" y="283.60" font-size="4.1" text-anchor="middle" font-weight="normal" fill="#262626" stroke="#262626" stroke-width="0.17" dominant-baseline="central">73</text>
<line x1="130.50" y1="276.30" x2="130.50" y2="277.90" stroke="#555" stroke-width="1.0"/>
<text x="130.45" y="283.60" font-size="4.1" text-anchor="middle" font-weight="normal" fill="#262626" stroke="#262626" stroke-width="0.17" dominant-baseline="central">90</text>
<line x1="138.50" y1="276.30" x2="138.50" y2="277.90" stroke="#555" stroke-width="1.0"/>
<text x="138.00" y="283.60" font-size="4.1" text-anchor="middle" font-weight="normal" fill="#262626" stroke="#262626" stroke-width="0.17" dominant-baseline="central">94</text>
<line x1="145.50" y1="276.30" x2="145.50" y2="277.90" stroke="#555" stroke-width="1.0"/>
<text x="145.55" y="283.60" font-size="4.1" text-anchor="middle" font-weight="normal" fill="#262626" stroke="#262626" stroke-width="0.17" dominant-baseline="central">101</text>
<line x1="153.50" y1="276.30" x2="153.50" y2="277.90" stroke="#555" stroke-width="1.0"/>
<text x="153.10" y="283.60" font-size="4.1" text-anchor="middle" font-weight="normal" fill="#262626" stroke="#262626" stroke-width="0.17" dominant-baseline="central">102</text>
<line x1="160.50" y1="276.30" x2="160.50" y2="277.90" stroke="#555" stroke-width="1.0"/>
<text x="160.65" y="283.60" font-size="4.1" text-anchor="middle" font-weight="normal" fill="#262626" stroke="#262626" stroke-width="0.17" dominant-baseline="central">124</text>
<line x1="168.50" y1="276.30" x2="168.50" y2="277.90" stroke="#555" stroke-width="1.0"/>
<text x="168.20" y="283.60" font-size="4.1" text-anchor="middle" font-weight="normal" fill="#262626" stroke="#262626" stroke-width="0.17" dominant-baseline="central">133</text>
<line x1="175.50" y1="276.30" x2="175.50" y2="277.90" stroke="#555" stroke-width="1.0"/>
<text x="175.75" y="283.60" font-size="4.1" text-anchor="middle" font-weight="normal" fill="#262626" stroke="#262626" stroke-width="0.17" dominant-baseline="central">161</text>
<line x1="183.50" y1="276.30" x2="183.50" y2="277.90" stroke="#555" stroke-width="1.0"/>
<text x="183.30" y="283.60" font-size="4.1" text-anchor="middle" font-weight="normal" fill="#262626" stroke="#262626" stroke-width="0.17" dominant-baseline="central">270</text>
<text x="110.00" y="291.30" font-size="4.7" text-anchor="middle" font-weight="normal" fill="#262626" stroke="#262626" stroke-width="0.17" dominant-baseline="central">Days after CAR T infusion</text>
<polyline points="32.60,250.80 40.00,252.30 47.20,216.20 54.90,215.00 63.00,218.50 70.30,216.20 78.00,254.60 85.70,254.60 93.40,237.70 108.70,239.00 116.60,243.00 145.50,228.30" fill="none" stroke="#f7dc98" stroke-width="0.75" stroke-linejoin="round" stroke-opacity="0.8"/>
<polygon points="32.60,249.38 31.40,250.80 32.60,252.22 33.80,250.80" fill="#ac9a6a"/>
<polygon points="40.00,250.88 38.80,252.30 40.00,253.72 41.20,252.30" fill="#ac9a6a"/>
<polygon points="47.20,214.78 46.00,216.20 47.20,217.62 48.40,216.20" fill="#ac9a6a"/>
<polygon points="54.90,213.58 53.70,215.00 54.90,216.42 56.10,215.00" fill="#ac9a6a"/>
<polygon points="63.00,217.08 61.80,218.50 63.00,219.92 64.20,218.50" fill="#ac9a6a"/>
<polygon points="70.30,214.78 69.10,216.20 70.30,217.62 71.50,216.20" fill="#ac9a6a"/>
<polygon points="78.00,253.18 76.80,254.60 78.00,256.02 79.20,254.60" fill="#ac9a6a"/>
<polygon points="85.70,253.18 84.50,254.60 85.70,256.02 86.90,254.60" fill="#ac9a6a"/>
<polygon points="93.40,236.28 92.20,237.70 93.40,239.12 94.60,237.70" fill="#ac9a6a"/>
<polygon points="108.70,237.58 107.50,239.00 108.70,240.42 109.90,239.00" fill="#ac9a6a"/>
<polygon points="116.60,241.58 115.40,243.00 116.60,244.42 117.80,243.00" fill="#ac9a6a"/>
<polygon points="145.50,226.88 144.30,228.30 145.50,229.72 146.70,228.30" fill="#ac9a6a"/>
<polyline points="32.60,250.80 40.00,255.00 47.20,248.00 54.90,245.00 63.00,224.60 70.30,214.60 78.00,213.50 85.70,219.20 93.40,219.20 101.00,228.00 116.60,243.00 139.80,253.40" fill="none" stroke="#b4a07c" stroke-width="0.75" stroke-linejoin="round" stroke-opacity="0.8"/>
<rect x="31.51" y="249.71" width="2.18" height="2.18" fill="#7d7056"/>
<rect x="38.91" y="253.91" width="2.18" height="2.18" fill="#7d7056"/>
<rect x="46.11" y="246.91" width="2.18" height="2.18" fill="#7d7056"/>
<rect x="53.81" y="243.91" width="2.18" height="2.18" fill="#7d7056"/>
<rect x="61.91" y="223.51" width="2.18" height="2.18" fill="#7d7056"/>
<rect x="69.21" y="213.51" width="2.18" height="2.18" fill="#7d7056"/>
<rect x="76.91" y="212.41" width="2.18" height="2.18" fill="#7d7056"/>
<rect x="84.61" y="218.11" width="2.18" height="2.18" fill="#7d7056"/>
<rect x="92.31" y="218.11" width="2.18" height="2.18" fill="#7d7056"/>
<rect x="99.91" y="226.91" width="2.18" height="2.18" fill="#7d7056"/>
<rect x="115.51" y="241.91" width="2.18" height="2.18" fill="#7d7056"/>
<rect x="138.71" y="252.31" width="2.18" height="2.18" fill="#7d7056"/>
<polyline points="32.60,250.80 40.00,253.00 47.20,239.70 54.90,244.60 63.00,237.00 70.30,217.00 78.00,213.00 85.70,219.20 93.40,219.70 100.90,221.00 116.60,232.50" fill="none" stroke="#f4a43c" stroke-width="0.75" stroke-linejoin="round" stroke-opacity="0.8"/>
<polygon points="32.60,249.49 31.40,251.67 33.80,251.67" fill="#aa722a"/>
<polygon points="40.00,251.69 38.80,253.87 41.20,253.87" fill="#aa722a"/>
<polygon points="47.20,238.39 46.00,240.57 48.40,240.57" fill="#aa722a"/>
<polygon points="54.90,243.29 53.70,245.47 56.10,245.47" fill="#aa722a"/>
<polygon points="63.00,235.69 61.80,237.87 64.20,237.87" fill="#aa722a"/>
<polygon points="70.30,215.69 69.10,217.87 71.50,217.87" fill="#aa722a"/>
<polygon points="78.00,211.69 76.80,213.87 79.20,213.87" fill="#aa722a"/>
<polygon points="85.70,217.89 84.50,220.07 86.90,220.07" fill="#aa722a"/>
<polygon points="93.40,218.39 92.20,220.57 94.60,220.57" fill="#aa722a"/>
<polygon points="100.90,219.69 99.70,221.87 102.10,221.87" fill="#aa722a"/>
<polygon points="116.60,231.19 115.40,233.37 117.80,233.37" fill="#aa722a"/>
<polyline points="40.00,259.20 47.20,259.50 54.90,259.70 63.00,253.00 70.30,244.60 78.00,220.00 85.70,222.30 93.40,226.00 101.40,258.50 123.90,257.60 154.40,256.70 170.00,258.10 178.20,264.40" fill="none" stroke="#66c8d8" stroke-width="0.75" stroke-linejoin="round" stroke-opacity="0.8"/>
<polygon points="40.00,260.51 38.80,258.33 41.20,258.33" fill="#478c97"/>
<polygon points="47.20,260.81 46.00,258.63 48.40,258.63" fill="#478c97"/>
<polygon points="54.90,261.01 53.70,258.83 56.10,258.83" fill="#478c97"/>
<polygon points="63.00,254.31 61.80,252.13 64.20,252.13" fill="#478c97"/>
<polygon points="70.30,245.91 69.10,243.73 71.50,243.73" fill="#478c97"/>
<polygon points="78.00,221.31 76.80,219.13 79.20,219.13" fill="#478c97"/>
<polygon points="85.70,223.61 84.50,221.43 86.90,221.43" fill="#478c97"/>
<polygon points="93.40,227.31 92.20,225.13 94.60,225.13" fill="#478c97"/>
<polygon points="101.40,259.81 100.20,257.63 102.60,257.63" fill="#478c97"/>
<polygon points="123.90,258.91 122.70,256.73 125.10,256.73" fill="#478c97"/>
<polygon points="154.40,258.01 153.20,255.83 155.60,255.83" fill="#478c97"/>
<polygon points="170.00,259.41 168.80,257.23 171.20,257.23" fill="#478c97"/>
<polygon points="178.20,265.71 177.00,263.53 179.40,263.53" fill="#478c97"/>
<polyline points="32.60,254.60 40.00,256.20 47.20,256.20 54.90,260.00 63.00,250.80 70.30,250.50 78.00,225.80 85.70,230.50 93.40,235.10 101.00,238.00 116.60,243.00 131.60,248.00" fill="none" stroke="#3c3c4c" stroke-width="0.75" stroke-linejoin="round" stroke-opacity="0.8"/>
<circle cx="32.60" cy="254.60" r="1.0924999999999998" fill="#2a2a35"/>
<circle cx="40.00" cy="256.20" r="1.0924999999999998" fill="#2a2a35"/>
<circle cx="47.20" cy="256.20" r="1.0924999999999998" fill="#2a2a35"/>
<circle cx="54.90" cy="260.00" r="1.0924999999999998" fill="#2a2a35"/>
<circle cx="63.00" cy="250.80" r="1.0924999999999998" fill="#2a2a35"/>
<circle cx="70.30" cy="250.50" r="1.0924999999999998" fill="#2a2a35"/>
<circle cx="78.00" cy="225.80" r="1.0924999999999998" fill="#2a2a35"/>
<circle cx="85.70" cy="230.50" r="1.0924999999999998" fill="#2a2a35"/>
<circle cx="93.40" cy="235.10" r="1.0924999999999998" fill="#2a2a35"/>
<circle cx="101.00" cy="238.00" r="1.0924999999999998" fill="#2a2a35"/>
<circle cx="116.60" cy="243.00" r="1.0924999999999998" fill="#2a2a35"/>
<circle cx="131.60" cy="248.00" r="1.0924999999999998" fill="#2a2a35"/>
<polyline points="32.60,257.20 40.00,264.60 47.20,256.20 54.90,250.00 63.00,240.00 70.30,223.00 78.00,226.20 85.70,230.00 93.40,235.00 101.00,241.00 108.70,254.50 131.60,248.40 139.80,248.40 162.60,252.10 177.30,246.60 185.50,243.90" fill="none" stroke="#c860d4" stroke-width="0.75" stroke-linejoin="round" stroke-opacity="0.8"/>
<polygon points="32.60,258.51 31.40,256.33 33.80,256.33" fill="#8c4394"/>
<polygon points="40.00,265.91 38.80,263.73 41.20,263.73" fill="#8c4394"/>
<polygon points="47.20,257.51 46.00,255.33 48.40,255.33" fill="#8c4394"/>
<polygon points="54.90,251.31 53.70,249.13 56.10,249.13" fill="#8c4394"/>
<polygon points="63.00,241.31 61.80,239.13 64.20,239.13" fill="#8c4394"/>
<polygon points="70.30,224.31 69.10,222.13 71.50,222.13" fill="#8c4394"/>
<polygon points="78.00,227.51 76.80,225.33 79.20,225.33" fill="#8c4394"/>
<polygon points="85.70,231.31 84.50,229.13 86.90,229.13" fill="#8c4394"/>
<polygon points="93.40,236.31 92.20,234.13 94.60,234.13" fill="#8c4394"/>
<polygon points="101.00,242.31 99.80,240.13 102.20,240.13" fill="#8c4394"/>
<polygon points="108.70,255.81 107.50,253.63 109.90,253.63" fill="#8c4394"/>
<polygon points="131.60,249.71 130.40,247.53 132.80,247.53" fill="#8c4394"/>
<polygon points="139.80,249.71 138.60,247.53 141.00,247.53" fill="#8c4394"/>
<polygon points="162.60,253.41 161.40,251.23 163.80,251.23" fill="#8c4394"/>
<polygon points="177.30,247.91 176.10,245.73 178.50,245.73" fill="#8c4394"/>
<polygon points="185.50,245.21 184.30,243.03 186.70,243.03" fill="#8c4394"/>
<polyline points="32.60,254.60 40.00,247.40 47.20,245.80 54.90,243.00 63.00,241.50 70.30,216.60 78.00,216.60 85.70,223.00 93.40,223.00 116.60,225.20 139.80,227.80" fill="none" stroke="#2c2c8c" stroke-width="0.75" stroke-linejoin="round" stroke-opacity="0.8"/>
<circle cx="32.60" cy="254.60" r="1.0924999999999998" fill="#1e1e62"/>
<circle cx="40.00" cy="247.40" r="1.0924999999999998" fill="#1e1e62"/>
<circle cx="47.20" cy="245.80" r="1.0924999999999998" fill="#1e1e62"/>
<circle cx="54.90" cy="243.00" r="1.0924999999999998" fill="#1e1e62"/>
<circle cx="63.00" cy="241.50" r="1.0924999999999998" fill="#1e1e62"/>
<circle cx="70.30" cy="216.60" r="1.0924999999999998" fill="#1e1e62"/>
<circle cx="78.00" cy="216.60" r="1.0924999999999998" fill="#1e1e62"/>
<circle cx="85.70" cy="223.00" r="1.0924999999999998" fill="#1e1e62"/>
<circle cx="93.40" cy="223.00" r="1.0924999999999998" fill="#1e1e62"/>
<circle cx="116.60" cy="225.20" r="1.0924999999999998" fill="#1e1e62"/>
<circle cx="139.80" cy="227.80" r="1.0924999999999998" fill="#1e1e62"/>
<polyline points="32.60,254.60 40.00,250.80 47.20,250.00 54.90,252.30 63.00,250.80 70.30,253.80 78.00,245.40 85.70,243.80 93.40,250.00" fill="none" stroke="#3b3bd4" stroke-width="0.75" stroke-linejoin="round" stroke-opacity="0.8"/>
<rect x="31.51" y="253.51" width="2.18" height="2.18" fill="#292994"/>
<rect x="38.91" y="249.71" width="2.18" height="2.18" fill="#292994"/>
<rect x="46.11" y="248.91" width="2.18" height="2.18" fill="#292994"/>
<rect x="53.81" y="251.21" width="2.18" height="2.18" fill="#292994"/>
<rect x="61.91" y="249.71" width="2.18" height="2.18" fill="#292994"/>
<rect x="69.21" y="252.71" width="2.18" height="2.18" fill="#292994"/>
<rect x="76.91" y="244.31" width="2.18" height="2.18" fill="#292994"/>
<rect x="84.61" y="242.71" width="2.18" height="2.18" fill="#292994"/>
<rect x="92.31" y="248.91" width="2.18" height="2.18" fill="#292994"/>
<line x1="129.70" y1="196.50" x2="135.30" y2="196.50" stroke="#3b3bd4" stroke-width="0.8" stroke-opacity="0.35"/>
<rect x="131.40" y="195.40" width="2.20" height="2.20" fill="#292994"/>
<text x="138.30" y="196.50" font-size="4.4" text-anchor="start" font-weight="normal" fill="#262626" stroke="#262626" stroke-width="0.17" dominant-baseline="central">Pt001</text>
<line x1="129.70" y1="203.80" x2="135.30" y2="203.80" stroke="#f4a43c" stroke-width="0.8" stroke-opacity="0.35"/>
<polygon points="132.50,202.48 131.29,204.68 133.71,204.68" fill="#aa722a"/>
<text x="138.30" y="203.80" font-size="4.4" text-anchor="start" font-weight="normal" fill="#262626" stroke="#262626" stroke-width="0.17" dominant-baseline="central">Pt002</text>
<line x1="129.70" y1="211.10" x2="135.30" y2="211.10" stroke="#66c8d8" stroke-width="0.8" stroke-opacity="0.35"/>
<polygon points="132.50,212.42 131.29,210.22 133.71,210.22" fill="#478c97"/>
<text x="138.30" y="211.10" font-size="4.4" text-anchor="start" font-weight="normal" fill="#262626" stroke="#262626" stroke-width="0.17" dominant-baseline="central">Pt003</text>
<line x1="129.70" y1="218.40" x2="135.30" y2="218.40" stroke="#c860d4" stroke-width="0.8" stroke-opacity="0.35"/>
<polygon points="132.50,219.72 131.29,217.52 133.71,217.52" fill="#8c4394"/>
<text x="138.30" y="218.40" font-size="4.4" text-anchor="start" font-weight="normal" fill="#262626" stroke="#262626" stroke-width="0.17" dominant-baseline="central">Pt004</text>
<line x1="155.20" y1="196.50" x2="160.80" y2="196.50" stroke="#f7dc98" stroke-width="0.8" stroke-opacity="0.35"/>
<polygon points="158.00,195.07 156.79,196.50 158.00,197.93 159.21,196.50" fill="#ac9a6a"/>
<text x="164.00" y="196.50" font-size="4.4" text-anchor="start" font-weight="normal" fill="#262626" stroke="#262626" stroke-width="0.17" dominant-baseline="central">Pt005</text>
<line x1="155.20" y1="203.80" x2="160.80" y2="203.80" stroke="#3c3c4c" stroke-width="0.8" stroke-opacity="0.35"/>
<circle cx="158.00" cy="203.80" r="1.1" fill="#2a2a35"/>
<text x="164.00" y="203.80" font-size="4.4" text-anchor="start" font-weight="normal" fill="#262626" stroke="#262626" stroke-width="0.17" dominant-baseline="central">Pt006</text>
<line x1="155.20" y1="211.10" x2="160.80" y2="211.10" stroke="#b4a07c" stroke-width="0.8" stroke-opacity="0.35"/>
<rect x="156.90" y="210.00" width="2.20" height="2.20" fill="#7d7056"/>
<text x="164.00" y="211.10" font-size="4.4" text-anchor="start" font-weight="normal" fill="#262626" stroke="#262626" stroke-width="0.17" dominant-baseline="central">Pt007</text>
<line x1="155.20" y1="218.40" x2="160.80" y2="218.40" stroke="#2c2c8c" stroke-width="0.8" stroke-opacity="0.35"/>
<circle cx="158.00" cy="218.40" r="1.1" fill="#1e1e62"/>
<text x="164.00" y="218.40" font-size="4.4" text-anchor="start" font-weight="normal" fill="#262626" stroke="#262626" stroke-width="0.17" dominant-baseline="central">Pt008</text>
<text x="2.20" y="308.20" font-size="7.2" text-anchor="middle" font-weight="bold" fill="#111" stroke="#111" stroke-width="0.28" dominant-baseline="central">D</text>
<line x1="25.50" y1="310.25" x2="25.50" y2="365.00" stroke="#555" stroke-width="1.0"/>
<line x1="24.40" y1="310.50" x2="25.90" y2="310.50" stroke="#555" stroke-width="1.0"/>
<text x="23.70" y="310.25" font-size="4.2" text-anchor="end" font-weight="bold" fill="#262626" stroke="#262626" stroke-width="0.28" dominant-baseline="central">40</text>
<line x1="24.40" y1="324.50" x2="25.90" y2="324.50" stroke="#555" stroke-width="1.0"/>
<text x="23.70" y="324.00" font-size="4.2" text-anchor="end" font-weight="bold" fill="#262626" stroke="#262626" stroke-width="0.28" dominant-baseline="central">30</text>
<line x1="24.40" y1="337.50" x2="25.90" y2="337.50" stroke="#555" stroke-width="1.0"/>
<text x="23.70" y="337.60" font-size="4.2" text-anchor="end" font-weight="bold" fill="#262626" stroke="#262626" stroke-width="0.28" dominant-baseline="central">20</text>
<line x1="24.40" y1="351.50" x2="25.90" y2="351.50" stroke="#555" stroke-width="1.0"/>
<text x="23.70" y="351.30" font-size="4.2" text-anchor="end" font-weight="bold" fill="#262626" stroke="#262626" stroke-width="0.28" dominant-baseline="central">10</text>
<line x1="24.40" y1="365.50" x2="25.90" y2="365.50" stroke="#555" stroke-width="1.0"/>
<text x="23.70" y="365.00" font-size="4.2" text-anchor="end" font-weight="bold" fill="#262626" stroke="#262626" stroke-width="0.28" dominant-baseline="central">0</text>
<line x1="25.90" y1="365.50" x2="110.00" y2="365.50" stroke="#555" stroke-width="1.0"/>
<line x1="27.50" y1="365.00" x2="27.50" y2="366.50" stroke="#555" stroke-width="1.0"/>
<text x="27.25" y="370.00" font-size="4.2" text-anchor="middle" font-weight="bold" fill="#262626" stroke="#262626" stroke-width="0.28" dominant-baseline="central">0</text>
<line x1="54.50" y1="365.00" x2="54.50" y2="366.50" stroke="#555" stroke-width="1.0"/>
<text x="54.20" y="370.00" font-size="4.2" text-anchor="middle" font-weight="bold" fill="#262626" stroke="#262626" stroke-width="0.28" dominant-baseline="central">20</text>
<line x1="81.50" y1="365.00" x2="81.50" y2="366.50" stroke="#555" stroke-width="1.0"/>
<text x="81.20" y="370.00" font-size="4.2" text-anchor="middle" font-weight="bold" fill="#262626" stroke="#262626" stroke-width="0.28" dominant-baseline="central">40</text>
<line x1="108.50" y1="365.00" x2="108.50" y2="366.50" stroke="#555" stroke-width="1.0"/>
<text x="108.00" y="370.00" font-size="4.2" text-anchor="middle" font-weight="bold" fill="#262626" stroke="#262626" stroke-width="0.28" dominant-baseline="central">60</text>
<text x="67.50" y="308.80" font-size="4.5" text-anchor="middle" font-weight="normal" fill="#333" stroke="#333" stroke-width="0.17" dominant-baseline="central" stroke-opacity="0.45">Pt001</text>
<text x="67.00" y="375.90" font-size="4.7" text-anchor="middle" font-weight="bold" fill="#262626" stroke="#262626" stroke-width="0.28" dominant-baseline="central">Days after CAR T infusion</text>
<text x="11.50" y="339.62" font-size="4.5" text-anchor="middle" font-weight="bold" fill="#262626" stroke="#262626" stroke-width="0.28" dominant-baseline="central" transform="rotate(-90 11.50 339.62)">of Nuclear cells (%)</text>
<polyline points="27.25,345.84 28.60,320.52 31.29,330.78 33.98,325.31 36.67,328.04 40.71,354.73 46.09,360.21 47.44,360.89 48.78,362.26 58.20,356.10 62.24,358.84 73.01,356.10 77.05,352.68 87.81,351.31 105.31,321.20" fill="none" stroke="#e4445a" stroke-width="1.0" stroke-linejoin="round"/>
<circle cx="27.25" cy="345.84" r="1.265" fill="#b63648"/>
<circle cx="28.60" cy="320.52" r="1.265" fill="#b63648"/>
<circle cx="31.29" cy="330.78" r="1.265" fill="#b63648"/>
<circle cx="33.98" cy="325.31" r="1.265" fill="#b63648"/>
<circle cx="36.67" cy="328.04" r="1.265" fill="#b63648"/>
<circle cx="40.71" cy="354.73" r="1.265" fill="#b63648"/>
<circle cx="46.09" cy="360.21" r="1.265" fill="#b63648"/>
<circle cx="47.44" cy="360.89" r="1.265" fill="#b63648"/>
<circle cx="48.78" cy="362.26" r="1.265" fill="#b63648"/>
<circle cx="58.20" cy="356.10" r="1.265" fill="#b63648"/>
<circle cx="62.24" cy="358.84" r="1.265" fill="#b63648"/>
<circle cx="73.01" cy="356.10" r="1.265" fill="#b63648"/>
<circle cx="77.05" cy="352.68" r="1.265" fill="#b63648"/>
<circle cx="87.81" cy="351.31" r="1.265" fill="#b63648"/>
<circle cx="105.31" cy="321.20" r="1.265" fill="#b63648"/>
<polyline points="27.25,356.79 28.60,348.57 31.29,356.10 33.98,360.89 36.67,361.58 40.71,364.32 46.09,364.73 48.78,365.00 58.20,362.26 62.24,362.26 73.01,360.21 77.05,360.21 87.81,363.63 105.31,355.42" fill="none" stroke="#3448b0" stroke-width="1.125" stroke-linejoin="round"/>
<rect x="25.98" y="355.52" width="2.53" height="2.53" fill="#29398c"/>
<rect x="27.33" y="347.31" width="2.53" height="2.53" fill="#29398c"/>
<rect x="30.02" y="354.84" width="2.53" height="2.53" fill="#29398c"/>
<rect x="32.71" y="359.63" width="2.53" height="2.53" fill="#29398c"/>
<rect x="35.41" y="360.31" width="2.53" height="2.53" fill="#29398c"/>
<rect x="39.44" y="363.05" width="2.53" height="2.53" fill="#29398c"/>
<rect x="44.83" y="363.46" width="2.53" height="2.53" fill="#29398c"/>
<rect x="47.52" y="363.74" width="2.53" height="2.53" fill="#29398c"/>
<rect x="56.94" y="361.00" width="2.53" height="2.53" fill="#29398c"/>
<rect x="60.98" y="361.00" width="2.53" height="2.53" fill="#29398c"/>
<rect x="71.74" y="358.94" width="2.53" height="2.53" fill="#29398c"/>
<rect x="75.78" y="358.94" width="2.53" height="2.53" fill="#29398c"/>
<rect x="86.55" y="362.37" width="2.53" height="2.53" fill="#29398c"/>
<rect x="104.04" y="354.15" width="2.53" height="2.53" fill="#29398c"/>
<line x1="138.50" y1="310.00" x2="138.50" y2="365.00" stroke="#555" stroke-width="1.0"/>
<line x1="137.25" y1="310.50" x2="138.75" y2="310.50" stroke="#555" stroke-width="1.0"/>
<text x="136.55" y="310.00" font-size="4.2" text-anchor="end" font-weight="bold" fill="#262626" stroke="#262626" stroke-width="0.28" dominant-baseline="central">20</text>
<line x1="137.25" y1="323.50" x2="138.75" y2="323.50" stroke="#555" stroke-width="1.0"/>
<text x="136.55" y="323.75" font-size="4.2" text-anchor="end" font-weight="bold" fill="#262626" stroke="#262626" stroke-width="0.28" dominant-baseline="central">15</text>
<line x1="137.25" y1="337.50" x2="138.75" y2="337.50" stroke="#555" stroke-width="1.0"/>
<text x="136.55" y="337.50" font-size="4.2" text-anchor="end" font-weight="bold" fill="#262626" stroke="#262626" stroke-width="0.28" dominant-baseline="central">10</text>
<line x1="137.25" y1="351.50" x2="138.75" y2="351.50" stroke="#555" stroke-width="1.0"/>
<text x="136.55" y="351.25" font-size="4.2" text-anchor="end" font-weight="bold" fill="#262626" stroke="#262626" stroke-width="0.28" dominant-baseline="central">5</text>
<line x1="137.25" y1="365.50" x2="138.75" y2="365.50" stroke="#555" stroke-width="1.0"/>
<text x="136.55" y="365.00" font-size="4.2" text-anchor="end" font-weight="bold" fill="#262626" stroke="#262626" stroke-width="0.28" dominant-baseline="central">0</text>
<line x1="138.75" y1="365.50" x2="223.00" y2="365.50" stroke="#555" stroke-width="1.0"/>
<line x1="140.50" y1="365.00" x2="140.50" y2="366.50" stroke="#555" stroke-width="1.0"/>
<text x="140.00" y="370.00" font-size="4.2" text-anchor="middle" font-weight="bold" fill="#262626" stroke="#262626" stroke-width="0.28" dominant-baseline="central">0</text>
<line x1="167.50" y1="365.00" x2="167.50" y2="366.50" stroke="#555" stroke-width="1.0"/>
<text x="167.50" y="370.00" font-size="4.2" text-anchor="middle" font-weight="bold" fill="#262626" stroke="#262626" stroke-width="0.28" dominant-baseline="central">20</text>
<line x1="194.50" y1="365.00" x2="194.50" y2="366.50" stroke="#555" stroke-width="1.0"/>
<text x="194.25" y="370.00" font-size="4.2" text-anchor="middle" font-weight="bold" fill="#262626" stroke="#262626" stroke-width="0.28" dominant-baseline="central">40</text>
<line x1="221.50" y1="365.00" x2="221.50" y2="366.50" stroke="#555" stroke-width="1.0"/>
<text x="221.25" y="370.00" font-size="4.2" text-anchor="middle" font-weight="bold" fill="#262626" stroke="#262626" stroke-width="0.28" dominant-baseline="central">60</text>
<text x="180.00" y="308.00" font-size="4.5" text-anchor="middle" font-weight="normal" fill="#333" stroke="#333" stroke-width="0.17" dominant-baseline="central" stroke-opacity="0.45">Pt002</text>
<text x="180.00" y="375.80" font-size="4.7" text-anchor="middle" font-weight="bold" fill="#262626" stroke="#262626" stroke-width="0.28" dominant-baseline="central">Days after CAR T infusion</text>
<text x="128.70" y="339.50" font-size="4.5" text-anchor="middle" font-weight="bold" fill="#262626" stroke="#262626" stroke-width="0.28" dominant-baseline="central" transform="rotate(-90 128.70 339.50)">of Nuclear cells (%)</text>
<polyline points="140.00,351.25 141.35,360.88 144.06,316.88 146.77,348.50 149.48,358.12 153.54,365.00 158.96,365.00 164.38,365.00 168.44,365.00 177.92,365.00 221.25,365.00" fill="none" stroke="#e4445a" stroke-width="1.0" stroke-linejoin="round"/>
<circle cx="140.00" cy="351.25" r="1.265" fill="#b63648"/>
<circle cx="141.35" cy="360.88" r="1.265" fill="#b63648"/>
<circle cx="144.06" cy="316.88" r="1.265" fill="#b63648"/>
<circle cx="146.77" cy="348.50" r="1.265" fill="#b63648"/>
<circle cx="149.48" cy="358.12" r="1.265" fill="#b63648"/>
<circle cx="153.54" cy="365.00" r="1.265" fill="#b63648"/>
<circle cx="158.96" cy="365.00" r="1.265" fill="#b63648"/>
<circle cx="164.38" cy="365.00" r="1.265" fill="#b63648"/>
<circle cx="168.44" cy="365.00" r="1.265" fill="#b63648"/>
<circle cx="177.92" cy="365.00" r="1.265" fill="#b63648"/>
<circle cx="221.25" cy="365.00" r="1.265" fill="#b63648"/>
<polyline points="140.00,360.88 141.35,362.25 144.06,358.12 146.77,363.62 149.48,364.45 153.54,365.00" fill="none" stroke="#3448b0" stroke-width="1.125" stroke-linejoin="round"/>
<rect x="138.74" y="359.61" width="2.53" height="2.53" fill="#29398c"/>
<rect x="140.09" y="360.99" width="2.53" height="2.53" fill="#29398c"/>
<rect x="142.80" y="356.86" width="2.53" height="2.53" fill="#29398c"/>
<rect x="145.51" y="362.36" width="2.53" height="2.53" fill="#29398c"/>
<rect x="148.21" y="363.19" width="2.53" height="2.53" fill="#29398c"/>
<rect x="152.28" y="363.74" width="2.53" height="2.53" fill="#29398c"/>
<line x1="26.50" y1="387.50" x2="26.50" y2="442.00" stroke="#555" stroke-width="1.0"/>
<line x1="24.75" y1="387.50" x2="26.25" y2="387.50" stroke="#555" stroke-width="1.0"/>
<text x="24.05" y="387.50" font-size="4.2" text-anchor="end" font-weight="bold" fill="#262626" stroke="#262626" stroke-width="0.28" dominant-baseline="central">10</text>
<line x1="24.75" y1="398.50" x2="26.25" y2="398.50" stroke="#555" stroke-width="1.0"/>
<text x="24.05" y="398.30" font-size="4.2" text-anchor="end" font-weight="bold" fill="#262626" stroke="#262626" stroke-width="0.28" dominant-baseline="central">8</text>
<line x1="24.75" y1="409.50" x2="26.25" y2="409.50" stroke="#555" stroke-width="1.0"/>
<text x="24.05" y="409.30" font-size="4.2" text-anchor="end" font-weight="bold" fill="#262626" stroke="#262626" stroke-width="0.28" dominant-baseline="central">6</text>
<line x1="24.75" y1="420.50" x2="26.25" y2="420.50" stroke="#555" stroke-width="1.0"/>
<text x="24.05" y="420.00" font-size="4.2" text-anchor="end" font-weight="bold" fill="#262626" stroke="#262626" stroke-width="0.28" dominant-baseline="central">4</text>
<line x1="24.75" y1="431.50" x2="26.25" y2="431.50" stroke="#555" stroke-width="1.0"/>
<text x="24.05" y="431.20" font-size="4.2" text-anchor="end" font-weight="bold" fill="#262626" stroke="#262626" stroke-width="0.28" dominant-baseline="central">2</text>
<line x1="24.75" y1="442.50" x2="26.25" y2="442.50" stroke="#555" stroke-width="1.0"/>
<text x="24.05" y="442.00" font-size="4.2" text-anchor="end" font-weight="bold" fill="#262626" stroke="#262626" stroke-width="0.28" dominant-baseline="central">0</text>
<line x1="26.25" y1="442.50" x2="110.00" y2="442.50" stroke="#555" stroke-width="1.0"/>
<line x1="26.50" y1="442.00" x2="26.50" y2="443.50" stroke="#555" stroke-width="1.0"/>
<text x="26.25" y="447.00" font-size="4.2" text-anchor="middle" font-weight="bold" fill="#262626" stroke="#262626" stroke-width="0.28" dominant-baseline="central">0</text>
<line x1="46.50" y1="442.00" x2="46.50" y2="443.50" stroke="#555" stroke-width="1.0"/>
<text x="46.75" y="447.00" font-size="4.2" text-anchor="middle" font-weight="bold" fill="#262626" stroke="#262626" stroke-width="0.28" dominant-baseline="central">50</text>
<line x1="67.50" y1="442.00" x2="67.50" y2="443.50" stroke="#555" stroke-width="1.0"/>
<text x="67.00" y="447.00" font-size="4.2" text-anchor="middle" font-weight="bold" fill="#262626" stroke="#262626" stroke-width="0.28" dominant-baseline="central">100</text>
<line x1="87.50" y1="442.00" x2="87.50" y2="443.50" stroke="#555" stroke-width="1.0"/>
<text x="87.50" y="447.00" font-size="4.2" text-anchor="middle" font-weight="bold" fill="#262626" stroke="#262626" stroke-width="0.28" dominant-baseline="central">150</text>
<line x1="108.50" y1="442.00" x2="108.50" y2="443.50" stroke="#555" stroke-width="1.0"/>
<text x="108.00" y="447.00" font-size="4.2" text-anchor="middle" font-weight="bold" fill="#262626" stroke="#262626" stroke-width="0.28" dominant-baseline="central">200</text>
<text x="67.00" y="385.50" font-size="4.5" text-anchor="middle" font-weight="normal" fill="#333" stroke="#333" stroke-width="0.17" dominant-baseline="central" stroke-opacity="0.45">Pt003</text>
<text x="67.00" y="453.30" font-size="4.7" text-anchor="middle" font-weight="bold" fill="#262626" stroke="#262626" stroke-width="0.28" dominant-baseline="central">Days after CAR T infusion</text>
<text x="11.50" y="416.75" font-size="4.5" text-anchor="middle" font-weight="bold" fill="#262626" stroke="#262626" stroke-width="0.28" dominant-baseline="central" transform="rotate(-90 11.50 416.75)">of Nuclear cells (%)</text>
<polyline points="26.25,439.27 27.48,418.56 28.29,398.40 29.11,409.30 30.34,439.27 31.97,442.00 34.83,442.00 37.70,442.00 50.77,439.82 99.83,432.74" fill="none" stroke="#e4445a" stroke-width="1.0" stroke-linejoin="round"/>
<circle cx="26.25" cy="439.27" r="1.265" fill="#b63648"/>
<circle cx="27.48" cy="418.56" r="1.265" fill="#b63648"/>
<circle cx="28.29" cy="398.40" r="1.265" fill="#b63648"/>
<circle cx="29.11" cy="409.30" r="1.265" fill="#b63648"/>
<circle cx="30.34" cy="439.27" r="1.265" fill="#b63648"/>
<circle cx="31.97" cy="442.00" r="1.265" fill="#b63648"/>
<circle cx="34.83" cy="442.00" r="1.265" fill="#b63648"/>
<circle cx="37.70" cy="442.00" r="1.265" fill="#b63648"/>
<circle cx="50.77" cy="439.82" r="1.265" fill="#b63648"/>
<circle cx="99.83" cy="432.74" r="1.265" fill="#b63648"/>
<polyline points="26.25,439.27 27.48,437.64 28.29,438.19 29.11,437.64 30.34,440.91 31.97,442.00 34.83,442.00 37.70,442.00 50.77,442.00 99.83,442.00" fill="none" stroke="#3448b0" stroke-width="1.125" stroke-linejoin="round"/>
<rect x="24.98" y="438.01" width="2.53" height="2.53" fill="#29398c"/>
<rect x="26.21" y="436.38" width="2.53" height="2.53" fill="#29398c"/>
<rect x="27.03" y="436.92" width="2.53" height="2.53" fill="#29398c"/>
<rect x="27.85" y="436.38" width="2.53" height="2.53" fill="#29398c"/>
<rect x="29.07" y="439.65" width="2.53" height="2.53" fill="#29398c"/>
<rect x="30.71" y="440.74" width="2.53" height="2.53" fill="#29398c"/>
<rect x="33.57" y="440.74" width="2.53" height="2.53" fill="#29398c"/>
<rect x="36.43" y="440.74" width="2.53" height="2.53" fill="#29398c"/>
<rect x="49.51" y="440.74" width="2.53" height="2.53" fill="#29398c"/>
<rect x="98.56" y="440.74" width="2.53" height="2.53" fill="#29398c"/>
<line x1="138.50" y1="386.25" x2="138.50" y2="442.00" stroke="#555" stroke-width="1.0"/>
<line x1="137.25" y1="386.50" x2="138.75" y2="386.50" stroke="#555" stroke-width="1.0"/>
<text x="136.55" y="386.25" font-size="4.2" text-anchor="end" font-weight="bold" fill="#262626" stroke="#262626" stroke-width="0.28" dominant-baseline="central">20</text>
<line x1="137.25" y1="400.50" x2="138.75" y2="400.50" stroke="#555" stroke-width="1.0"/>
<text x="136.55" y="400.50" font-size="4.2" text-anchor="end" font-weight="bold" fill="#262626" stroke="#262626" stroke-width="0.28" dominant-baseline="central">15</text>
<line x1="137.25" y1="414.50" x2="138.75" y2="414.50" stroke="#555" stroke-width="1.0"/>
<text x="136.55" y="414.50" font-size="4.2" text-anchor="end" font-weight="bold" fill="#262626" stroke="#262626" stroke-width="0.28" dominant-baseline="central">10</text>
<line x1="137.25" y1="428.50" x2="138.75" y2="428.50" stroke="#555" stroke-width="1.0"/>
<text x="136.55" y="428.25" font-size="4.2" text-anchor="end" font-weight="bold" fill="#262626" stroke="#262626" stroke-width="0.28" dominant-baseline="central">5</text>
<line x1="137.25" y1="442.50" x2="138.75" y2="442.50" stroke="#555" stroke-width="1.0"/>
<text x="136.55" y="442.00" font-size="4.2" text-anchor="end" font-weight="bold" fill="#262626" stroke="#262626" stroke-width="0.28" dominant-baseline="central">0</text>
<line x1="138.75" y1="442.50" x2="223.00" y2="442.50" stroke="#555" stroke-width="1.0"/>
<line x1="139.50" y1="442.00" x2="139.50" y2="443.50" stroke="#555" stroke-width="1.0"/>
<text x="139.50" y="447.00" font-size="4.2" text-anchor="middle" font-weight="bold" fill="#262626" stroke="#262626" stroke-width="0.28" dominant-baseline="central">0</text>
<line x1="180.50" y1="442.00" x2="180.50" y2="443.50" stroke="#555" stroke-width="1.0"/>
<text x="180.00" y="447.00" font-size="4.2" text-anchor="middle" font-weight="bold" fill="#262626" stroke="#262626" stroke-width="0.28" dominant-baseline="central">50</text>
<line x1="221.50" y1="442.00" x2="221.50" y2="443.50" stroke="#555" stroke-width="1.0"/>
<text x="221.25" y="447.00" font-size="4.2" text-anchor="middle" font-weight="bold" fill="#262626" stroke="#262626" stroke-width="0.28" dominant-baseline="central">100</text>
<text x="181.25" y="386.25" font-size="4.5" text-anchor="middle" font-weight="normal" fill="#333" stroke="#333" stroke-width="0.17" dominant-baseline="central" stroke-opacity="0.45">Pt004</text>
<text x="180.00" y="453.80" font-size="4.7" text-anchor="middle" font-weight="bold" fill="#262626" stroke="#262626" stroke-width="0.28" dominant-baseline="central">Days after CAR T infusion</text>
<text x="128.70" y="416.12" font-size="4.5" text-anchor="middle" font-weight="bold" fill="#262626" stroke="#262626" stroke-width="0.28" dominant-baseline="central" transform="rotate(-90 128.70 416.12)">of Nuclear cells (%)</text>
<polyline points="139.50,432.24 140.32,440.61 141.95,442.00 143.59,398.79 145.22,439.21 147.68,442.00 150.94,442.00" fill="none" stroke="#e4445a" stroke-width="1.0" stroke-linejoin="round"/>
<circle cx="139.50" cy="432.24" r="1.265" fill="#b63648"/>
<circle cx="140.32" cy="440.61" r="1.265" fill="#b63648"/>
<circle cx="141.95" cy="442.00" r="1.265" fill="#b63648"/>
<circle cx="143.59" cy="398.79" r="1.265" fill="#b63648"/>
<circle cx="145.22" cy="439.21" r="1.265" fill="#b63648"/>
<circle cx="147.68" cy="442.00" r="1.265" fill="#b63648"/>
<circle cx="150.94" cy="442.00" r="1.265" fill="#b63648"/>
<polyline points="139.50,442.00 140.32,442.00 141.95,442.00 143.59,442.00 145.22,442.00 147.68,442.00 150.94,442.00 162.39,442.00 213.07,442.00" fill="none" stroke="#3448b0" stroke-width="1.125" stroke-linejoin="round"/>
<rect x="138.24" y="440.74" width="2.53" height="2.53" fill="#29398c"/>
<rect x="139.05" y="440.74" width="2.53" height="2.53" fill="#29398c"/>
<rect x="140.69" y="440.74" width="2.53" height="2.53" fill="#29398c"/>
<rect x="142.32" y="440.74" width="2.53" height="2.53" fill="#29398c"/>
<rect x="143.96" y="440.74" width="2.53" height="2.53" fill="#29398c"/>
<rect x="146.41" y="440.74" width="2.53" height="2.53" fill="#29398c"/>
<rect x="149.68" y="440.74" width="2.53" height="2.53" fill="#29398c"/>
<rect x="161.12" y="440.74" width="2.53" height="2.53" fill="#29398c"/>
<rect x="211.81" y="440.74" width="2.53" height="2.53" fill="#29398c"/>
<line x1="23.50" y1="463.75" x2="23.50" y2="519.25" stroke="#555" stroke-width="1.0"/>
<line x1="21.50" y1="463.50" x2="23.00" y2="463.50" stroke="#555" stroke-width="1.0"/>
<text x="20.80" y="463.75" font-size="4.2" text-anchor="end" font-weight="bold" fill="#262626" stroke="#262626" stroke-width="0.28" dominant-baseline="central">8</text>
<line x1="21.50" y1="477.50" x2="23.00" y2="477.50" stroke="#555" stroke-width="1.0"/>
<text x="20.80" y="477.50" font-size="4.2" text-anchor="end" font-weight="bold" fill="#262626" stroke="#262626" stroke-width="0.28" dominant-baseline="central">6</text>
<line x1="21.50" y1="491.50" x2="23.00" y2="491.50" stroke="#555" stroke-width="1.0"/>
<text x="20.80" y="491.25" font-size="4.2" text-anchor="end" font-weight="bold" fill="#262626" stroke="#262626" stroke-width="0.28" dominant-baseline="central">4</text>
<line x1="21.50" y1="505.50" x2="23.00" y2="505.50" stroke="#555" stroke-width="1.0"/>
<text x="20.80" y="505.00" font-size="4.2" text-anchor="end" font-weight="bold" fill="#262626" stroke="#262626" stroke-width="0.28" dominant-baseline="central">2</text>
<line x1="21.50" y1="519.50" x2="23.00" y2="519.50" stroke="#555" stroke-width="1.0"/>
<text x="20.80" y="519.25" font-size="4.2" text-anchor="end" font-weight="bold" fill="#262626" stroke="#262626" stroke-width="0.28" dominant-baseline="central">0</text>
<line x1="23.00" y1="519.50" x2="106.00" y2="519.50" stroke="#555" stroke-width="1.0"/>
<line x1="24.50" y1="519.25" x2="24.50" y2="520.75" stroke="#555" stroke-width="1.0"/>
<text x="24.50" y="524.25" font-size="4.2" text-anchor="middle" font-weight="bold" fill="#262626" stroke="#262626" stroke-width="0.28" dominant-baseline="central">0</text>
<line x1="33.50" y1="519.25" x2="33.50" y2="520.75" stroke="#555" stroke-width="1.0"/>
<text x="33.31" y="524.25" font-size="4.2" text-anchor="middle" font-weight="bold" fill="#262626" stroke="#262626" stroke-width="0.28" dominant-baseline="central">10</text>
<line x1="42.50" y1="519.25" x2="42.50" y2="520.75" stroke="#555" stroke-width="1.0"/>
<text x="42.11" y="524.25" font-size="4.2" text-anchor="middle" font-weight="bold" fill="#262626" stroke="#262626" stroke-width="0.28" dominant-baseline="central">20</text>
<line x1="50.50" y1="519.25" x2="50.50" y2="520.75" stroke="#555" stroke-width="1.0"/>
<text x="50.92" y="524.25" font-size="4.2" text-anchor="middle" font-weight="bold" fill="#262626" stroke="#262626" stroke-width="0.28" dominant-baseline="central">30</text>
<line x1="59.50" y1="519.25" x2="59.50" y2="520.75" stroke="#555" stroke-width="1.0"/>
<text x="59.72" y="524.25" font-size="4.2" text-anchor="middle" font-weight="bold" fill="#262626" stroke="#262626" stroke-width="0.28" dominant-baseline="central">40</text>
<line x1="68.50" y1="519.25" x2="68.50" y2="520.75" stroke="#555" stroke-width="1.0"/>
<text x="68.53" y="524.25" font-size="4.2" text-anchor="middle" font-weight="bold" fill="#262626" stroke="#262626" stroke-width="0.28" dominant-baseline="central">50</text>
<line x1="77.50" y1="519.25" x2="77.50" y2="520.75" stroke="#555" stroke-width="1.0"/>
<text x="77.33" y="524.25" font-size="4.2" text-anchor="middle" font-weight="bold" fill="#262626" stroke="#262626" stroke-width="0.28" dominant-baseline="central">60</text>
<line x1="86.50" y1="519.25" x2="86.50" y2="520.75" stroke="#555" stroke-width="1.0"/>
<text x="86.14" y="524.25" font-size="4.2" text-anchor="middle" font-weight="bold" fill="#262626" stroke="#262626" stroke-width="0.28" dominant-baseline="central">70</text>
<line x1="94.50" y1="519.25" x2="94.50" y2="520.75" stroke="#555" stroke-width="1.0"/>
<text x="94.94" y="524.25" font-size="4.2" text-anchor="middle" font-weight="bold" fill="#262626" stroke="#262626" stroke-width="0.28" dominant-baseline="central">80</text>
<line x1="103.50" y1="519.25" x2="103.50" y2="520.75" stroke="#555" stroke-width="1.0"/>
<text x="103.75" y="524.25" font-size="4.2" text-anchor="middle" font-weight="bold" fill="#262626" stroke="#262626" stroke-width="0.28" dominant-baseline="central">90</text>
<text x="67.50" y="460.50" font-size="4.5" text-anchor="middle" font-weight="normal" fill="#333" stroke="#333" stroke-width="0.17" dominant-baseline="central" stroke-opacity="0.45">Pt005</text>
<text x="67.00" y="529.50" font-size="4.7" text-anchor="middle" font-weight="bold" fill="#262626" stroke="#262626" stroke-width="0.28" dominant-baseline="central">Days after CAR T infusion</text>
<text x="11.50" y="493.50" font-size="4.5" text-anchor="middle" font-weight="bold" fill="#262626" stroke="#262626" stroke-width="0.28" dominant-baseline="central" transform="rotate(-90 11.50 493.50)">of Nuclear cells (%)</text>
<polyline points="24.50,512.31 25.38,503.29 28.90,475.54 30.66,508.84 32.42,517.86 33.31,519.25 36.83,519.25" fill="none" stroke="#e4445a" stroke-width="1.0" stroke-linejoin="round"/>
<circle cx="24.50" cy="512.31" r="1.265" fill="#b63648"/>
<circle cx="25.38" cy="503.29" r="1.265" fill="#b63648"/>
<circle cx="28.90" cy="475.54" r="1.265" fill="#b63648"/>
<circle cx="30.66" cy="508.84" r="1.265" fill="#b63648"/>
<circle cx="32.42" cy="517.86" r="1.265" fill="#b63648"/>
<circle cx="33.31" cy="519.25" r="1.265" fill="#b63648"/>
<circle cx="36.83" cy="519.25" r="1.265" fill="#b63648"/>
<polyline points="24.50,517.17 25.38,513.70 27.14,513.01 28.90,508.84 30.66,516.48 33.31,519.25 36.83,519.25 42.99,519.25 49.16,519.25 77.33,519.25 103.75,519.25" fill="none" stroke="#3448b0" stroke-width="1.125" stroke-linejoin="round"/>
<rect x="23.23" y="515.90" width="2.53" height="2.53" fill="#29398c"/>
<rect x="24.12" y="512.44" width="2.53" height="2.53" fill="#29398c"/>
<rect x="25.88" y="511.74" width="2.53" height="2.53" fill="#29398c"/>
<rect x="27.64" y="507.58" width="2.53" height="2.53" fill="#29398c"/>
<rect x="29.40" y="515.21" width="2.53" height="2.53" fill="#29398c"/>
<rect x="32.04" y="517.99" width="2.53" height="2.53" fill="#29398c"/>
<rect x="35.56" y="517.99" width="2.53" height="2.53" fill="#29398c"/>
<rect x="41.73" y="517.99" width="2.53" height="2.53" fill="#29398c"/>
<rect x="47.89" y="517.99" width="2.53" height="2.53" fill="#29398c"/>
<rect x="76.07" y="517.99" width="2.53" height="2.53" fill="#29398c"/>
<rect x="102.48" y="517.99" width="2.53" height="2.53" fill="#29398c"/>
<line x1="135.50" y1="460.00" x2="135.50" y2="517.50" stroke="#555" stroke-width="1.0"/>
<line x1="134.00" y1="460.50" x2="135.50" y2="460.50" stroke="#555" stroke-width="1.0"/>
<text x="133.30" y="460.00" font-size="4.2" text-anchor="end" font-weight="bold" fill="#262626" stroke="#262626" stroke-width="0.28" dominant-baseline="central">8</text>
<line x1="134.00" y1="475.50" x2="135.50" y2="475.50" stroke="#555" stroke-width="1.0"/>
<text x="133.30" y="475.00" font-size="4.2" text-anchor="end" font-weight="bold" fill="#262626" stroke="#262626" stroke-width="0.28" dominant-baseline="central">6</text>
<line x1="134.00" y1="489.50" x2="135.50" y2="489.50" stroke="#555" stroke-width="1.0"/>
<text x="133.30" y="489.25" font-size="4.2" text-anchor="end" font-weight="bold" fill="#262626" stroke="#262626" stroke-width="0.28" dominant-baseline="central">4</text>
<line x1="134.00" y1="503.50" x2="135.50" y2="503.50" stroke="#555" stroke-width="1.0"/>
<text x="133.30" y="503.25" font-size="4.2" text-anchor="end" font-weight="bold" fill="#262626" stroke="#262626" stroke-width="0.28" dominant-baseline="central">2</text>
<line x1="134.00" y1="517.50" x2="135.50" y2="517.50" stroke="#555" stroke-width="1.0"/>
<text x="133.30" y="517.50" font-size="4.2" text-anchor="end" font-weight="bold" fill="#262626" stroke="#262626" stroke-width="0.28" dominant-baseline="central">0</text>
<line x1="135.50" y1="517.50" x2="221.00" y2="517.50" stroke="#555" stroke-width="1.0"/>
<line x1="137.50" y1="517.50" x2="137.50" y2="519.00" stroke="#555" stroke-width="1.0"/>
<text x="137.50" y="522.50" font-size="4.2" text-anchor="middle" font-weight="bold" fill="#262626" stroke="#262626" stroke-width="0.28" dominant-baseline="central">0</text>
<line x1="146.50" y1="517.50" x2="146.50" y2="519.00" stroke="#555" stroke-width="1.0"/>
<text x="146.47" y="522.50" font-size="4.2" text-anchor="middle" font-weight="bold" fill="#262626" stroke="#262626" stroke-width="0.28" dominant-baseline="central">10</text>
<line x1="155.50" y1="517.50" x2="155.50" y2="519.00" stroke="#555" stroke-width="1.0"/>
<text x="155.44" y="522.50" font-size="4.2" text-anchor="middle" font-weight="bold" fill="#262626" stroke="#262626" stroke-width="0.28" dominant-baseline="central">20</text>
<line x1="164.50" y1="517.50" x2="164.50" y2="519.00" stroke="#555" stroke-width="1.0"/>
<text x="164.42" y="522.50" font-size="4.2" text-anchor="middle" font-weight="bold" fill="#262626" stroke="#262626" stroke-width="0.28" dominant-baseline="central">30</text>
<line x1="173.50" y1="517.50" x2="173.50" y2="519.00" stroke="#555" stroke-width="1.0"/>
<text x="173.39" y="522.50" font-size="4.2" text-anchor="middle" font-weight="bold" fill="#262626" stroke="#262626" stroke-width="0.28" dominant-baseline="central">40</text>
<line x1="182.50" y1="517.50" x2="182.50" y2="519.00" stroke="#555" stroke-width="1.0"/>
<text x="182.36" y="522.50" font-size="4.2" text-anchor="middle" font-weight="bold" fill="#262626" stroke="#262626" stroke-width="0.28" dominant-baseline="central">50</text>
<line x1="191.50" y1="517.50" x2="191.50" y2="519.00" stroke="#555" stroke-width="1.0"/>
<text x="191.33" y="522.50" font-size="4.2" text-anchor="middle" font-weight="bold" fill="#262626" stroke="#262626" stroke-width="0.28" dominant-baseline="central">60</text>
<line x1="200.50" y1="517.50" x2="200.50" y2="519.00" stroke="#555" stroke-width="1.0"/>
<text x="200.31" y="522.50" font-size="4.2" text-anchor="middle" font-weight="bold" fill="#262626" stroke="#262626" stroke-width="0.28" dominant-baseline="central">70</text>
<line x1="209.50" y1="517.50" x2="209.50" y2="519.00" stroke="#555" stroke-width="1.0"/>
<text x="209.28" y="522.50" font-size="4.2" text-anchor="middle" font-weight="bold" fill="#262626" stroke="#262626" stroke-width="0.28" dominant-baseline="central">80</text>
<line x1="218.50" y1="517.50" x2="218.50" y2="519.00" stroke="#555" stroke-width="1.0"/>
<text x="218.25" y="522.50" font-size="4.2" text-anchor="middle" font-weight="bold" fill="#262626" stroke="#262626" stroke-width="0.28" dominant-baseline="central">90</text>
<text x="181.25" y="460.50" font-size="4.5" text-anchor="middle" font-weight="normal" fill="#333" stroke="#333" stroke-width="0.17" dominant-baseline="central" stroke-opacity="0.45">Pt006</text>
<text x="180.00" y="529.50" font-size="4.7" text-anchor="middle" font-weight="bold" fill="#262626" stroke="#262626" stroke-width="0.28" dominant-baseline="central">Days after CAR T infusion</text>
<text x="128.60" y="490.75" font-size="4.5" text-anchor="middle" font-weight="bold" fill="#262626" stroke="#262626" stroke-width="0.28" dominant-baseline="central" transform="rotate(-90 128.60 490.75)">of Nuclear cells (%)</text>
<polyline points="137.50,513.91 138.40,500.25 140.19,508.88 141.99,492.34 143.78,472.22 145.57,512.47 146.47,513.91 150.06,517.50" fill="none" stroke="#e4445a" stroke-width="1.0" stroke-linejoin="round"/>
<circle cx="137.50" cy="513.91" r="1.265" fill="#b63648"/>
<circle cx="138.40" cy="500.25" r="1.265" fill="#b63648"/>
<circle cx="140.19" cy="508.88" r="1.265" fill="#b63648"/>
<circle cx="141.99" cy="492.34" r="1.265" fill="#b63648"/>
<circle cx="143.78" cy="472.22" r="1.265" fill="#b63648"/>
<circle cx="145.57" cy="512.47" r="1.265" fill="#b63648"/>
<circle cx="146.47" cy="513.91" r="1.265" fill="#b63648"/>
<circle cx="150.06" cy="517.50" r="1.265" fill="#b63648"/>
<polyline points="137.50,513.91 138.40,517.50 140.19,516.78 141.99,515.34 143.78,515.34 145.57,516.78 150.06,517.50 156.34,517.50 162.62,517.50 191.33,517.50" fill="none" stroke="#3448b0" stroke-width="1.125" stroke-linejoin="round"/>
<rect x="136.24" y="512.64" width="2.53" height="2.53" fill="#29398c"/>
<rect x="137.13" y="516.24" width="2.53" height="2.53" fill="#29398c"/>
<rect x="138.93" y="515.52" width="2.53" height="2.53" fill="#29398c"/>
<rect x="140.72" y="514.08" width="2.53" height="2.53" fill="#29398c"/>
<rect x="142.52" y="514.08" width="2.53" height="2.53" fill="#29398c"/>
<rect x="144.31" y="515.52" width="2.53" height="2.53" fill="#29398c"/>
<rect x="148.80" y="516.24" width="2.53" height="2.53" fill="#29398c"/>
<rect x="155.08" y="516.24" width="2.53" height="2.53" fill="#29398c"/>
<rect x="161.36" y="516.24" width="2.53" height="2.53" fill="#29398c"/>
<rect x="190.07" y="516.24" width="2.53" height="2.53" fill="#29398c"/>
<line x1="26.50" y1="541.25" x2="26.50" y2="595.50" stroke="#555" stroke-width="1.0"/>
<line x1="24.75" y1="541.50" x2="26.25" y2="541.50" stroke="#555" stroke-width="1.0"/>
<text x="24.05" y="541.25" font-size="4.2" text-anchor="end" font-weight="bold" fill="#262626" stroke="#262626" stroke-width="0.28" dominant-baseline="central">2.0</text>
<line x1="24.75" y1="554.50" x2="26.25" y2="554.50" stroke="#555" stroke-width="1.0"/>
<text x="24.05" y="554.50" font-size="4.2" text-anchor="end" font-weight="bold" fill="#262626" stroke="#262626" stroke-width="0.28" dominant-baseline="central">1.5</text>
<line x1="24.75" y1="568.50" x2="26.25" y2="568.50" stroke="#555" stroke-width="1.0"/>
<text x="24.05" y="568.25" font-size="4.2" text-anchor="end" font-weight="bold" fill="#262626" stroke="#262626" stroke-width="0.28" dominant-baseline="central">1.0</text>
<line x1="24.75" y1="582.50" x2="26.25" y2="582.50" stroke="#555" stroke-width="1.0"/>
<text x="24.05" y="582.00" font-size="4.2" text-anchor="end" font-weight="bold" fill="#262626" stroke="#262626" stroke-width="0.28" dominant-baseline="central">0.5</text>
<line x1="24.75" y1="595.50" x2="26.25" y2="595.50" stroke="#555" stroke-width="1.0"/>
<text x="24.05" y="595.50" font-size="4.2" text-anchor="end" font-weight="bold" fill="#262626" stroke="#262626" stroke-width="0.28" dominant-baseline="central">0.0</text>
<line x1="26.25" y1="595.50" x2="110.00" y2="595.50" stroke="#555" stroke-width="1.0"/>
<line x1="28.50" y1="595.50" x2="28.50" y2="597.00" stroke="#555" stroke-width="1.0"/>
<text x="28.00" y="600.50" font-size="4.2" text-anchor="middle" font-weight="bold" fill="#262626" stroke="#262626" stroke-width="0.28" dominant-baseline="central">0</text>
<line x1="55.50" y1="595.50" x2="55.50" y2="597.00" stroke="#555" stroke-width="1.0"/>
<text x="55.00" y="600.50" font-size="4.2" text-anchor="middle" font-weight="bold" fill="#262626" stroke="#262626" stroke-width="0.28" dominant-baseline="central">20</text>
<line x1="81.50" y1="595.50" x2="81.50" y2="597.00" stroke="#555" stroke-width="1.0"/>
<text x="81.75" y="600.50" font-size="4.2" text-anchor="middle" font-weight="bold" fill="#262626" stroke="#262626" stroke-width="0.28" dominant-baseline="central">40</text>
<line x1="108.50" y1="595.50" x2="108.50" y2="597.00" stroke="#555" stroke-width="1.0"/>
<text x="108.25" y="600.50" font-size="4.2" text-anchor="middle" font-weight="bold" fill="#262626" stroke="#262626" stroke-width="0.28" dominant-baseline="central">60</text>
<text x="67.00" y="540.00" font-size="4.5" text-anchor="middle" font-weight="normal" fill="#333" stroke="#333" stroke-width="0.17" dominant-baseline="central" stroke-opacity="0.45">Pt007</text>
<text x="67.00" y="606.30" font-size="4.7" text-anchor="middle" font-weight="bold" fill="#262626" stroke="#262626" stroke-width="0.28" dominant-baseline="central">Days after CAR T infusion</text>
<text x="11.50" y="570.38" font-size="4.5" text-anchor="middle" font-weight="bold" fill="#262626" stroke="#262626" stroke-width="0.28" dominant-baseline="central" transform="rotate(-90 11.50 570.38)">of Nuclear cells (%)</text>
<polyline points="28.00,587.36 29.34,586.01 32.01,546.67 34.69,567.02 37.36,595.50 41.38,595.50 46.73,595.50" fill="none" stroke="#e4445a" stroke-width="1.0" stroke-linejoin="round"/>
<circle cx="28.00" cy="587.36" r="1.265" fill="#b63648"/>
<circle cx="29.34" cy="586.01" r="1.265" fill="#b63648"/>
<circle cx="32.01" cy="546.67" r="1.265" fill="#b63648"/>
<circle cx="34.69" cy="567.02" r="1.265" fill="#b63648"/>
<circle cx="37.36" cy="595.50" r="1.265" fill="#b63648"/>
<circle cx="41.38" cy="595.50" r="1.265" fill="#b63648"/>
<circle cx="46.73" cy="595.50" r="1.265" fill="#b63648"/>
<polyline points="28.00,595.50 29.34,595.50 32.01,595.50 34.69,595.50 37.36,595.50 41.38,595.50 46.73,595.50 65.45,595.50 108.25,595.50" fill="none" stroke="#3448b0" stroke-width="1.125" stroke-linejoin="round"/>
<rect x="26.73" y="594.24" width="2.53" height="2.53" fill="#29398c"/>
<rect x="28.07" y="594.24" width="2.53" height="2.53" fill="#29398c"/>
<rect x="30.75" y="594.24" width="2.53" height="2.53" fill="#29398c"/>
<rect x="33.42" y="594.24" width="2.53" height="2.53" fill="#29398c"/>
<rect x="36.10" y="594.24" width="2.53" height="2.53" fill="#29398c"/>
<rect x="40.11" y="594.24" width="2.53" height="2.53" fill="#29398c"/>
<rect x="45.46" y="594.24" width="2.53" height="2.53" fill="#29398c"/>
<rect x="64.19" y="594.24" width="2.53" height="2.53" fill="#29398c"/>
<rect x="106.98" y="594.24" width="2.53" height="2.53" fill="#29398c"/>
<line x1="138.50" y1="541.75" x2="138.50" y2="594.50" stroke="#555" stroke-width="1.0"/>
<line x1="137.25" y1="541.50" x2="138.75" y2="541.50" stroke="#555" stroke-width="1.0"/>
<text x="136.55" y="541.75" font-size="4.2" text-anchor="end" font-weight="bold" fill="#262626" stroke="#262626" stroke-width="0.28" dominant-baseline="central">3</text>
<line x1="137.25" y1="559.50" x2="138.75" y2="559.50" stroke="#555" stroke-width="1.0"/>
<text x="136.55" y="559.50" font-size="4.2" text-anchor="end" font-weight="bold" fill="#262626" stroke="#262626" stroke-width="0.28" dominant-baseline="central">2</text>
<line x1="137.25" y1="577.50" x2="138.75" y2="577.50" stroke="#555" stroke-width="1.0"/>
<text x="136.55" y="577.00" font-size="4.2" text-anchor="end" font-weight="bold" fill="#262626" stroke="#262626" stroke-width="0.28" dominant-baseline="central">1</text>
<line x1="137.25" y1="594.50" x2="138.75" y2="594.50" stroke="#555" stroke-width="1.0"/>
<text x="136.55" y="594.50" font-size="4.2" text-anchor="end" font-weight="bold" fill="#262626" stroke="#262626" stroke-width="0.28" dominant-baseline="central">0</text>
<line x1="138.75" y1="594.50" x2="221.00" y2="594.50" stroke="#555" stroke-width="1.0"/>
<line x1="139.50" y1="594.50" x2="139.50" y2="596.00" stroke="#555" stroke-width="1.0"/>
<text x="139.50" y="599.50" font-size="4.2" text-anchor="middle" font-weight="bold" fill="#262626" stroke="#262626" stroke-width="0.28" dominant-baseline="central">0</text>
<line x1="165.50" y1="594.50" x2="165.50" y2="596.00" stroke="#555" stroke-width="1.0"/>
<text x="165.75" y="599.50" font-size="4.2" text-anchor="middle" font-weight="bold" fill="#262626" stroke="#262626" stroke-width="0.28" dominant-baseline="central">10</text>
<line x1="192.50" y1="594.50" x2="192.50" y2="596.00" stroke="#555" stroke-width="1.0"/>
<text x="192.50" y="599.50" font-size="4.2" text-anchor="middle" font-weight="bold" fill="#262626" stroke="#262626" stroke-width="0.28" dominant-baseline="central">20</text>
<line x1="219.50" y1="594.50" x2="219.50" y2="596.00" stroke="#555" stroke-width="1.0"/>
<text x="219.25" y="599.50" font-size="4.2" text-anchor="middle" font-weight="bold" fill="#262626" stroke="#262626" stroke-width="0.28" dominant-baseline="central">30</text>
<text x="181.25" y="540.50" font-size="4.5" text-anchor="middle" font-weight="normal" fill="#333" stroke="#333" stroke-width="0.17" dominant-baseline="central" stroke-opacity="0.45">Pt008</text>
<text x="180.00" y="605.80" font-size="4.7" text-anchor="middle" font-weight="bold" fill="#262626" stroke="#262626" stroke-width="0.28" dominant-baseline="central">Days after CAR T infusion</text>
<text x="128.70" y="570.12" font-size="4.5" text-anchor="middle" font-weight="bold" fill="#262626" stroke="#262626" stroke-width="0.28" dominant-baseline="central" transform="rotate(-90 128.70 570.12)">of Nuclear cells (%)</text>
<polyline points="142.16,585.71 147.47,550.54 152.79,583.07 158.11,594.50" fill="none" stroke="#e4445a" stroke-width="1.0" stroke-linejoin="round"/>
<circle cx="142.16" cy="585.71" r="1.265" fill="#b63648"/>
<circle cx="147.47" cy="550.54" r="1.265" fill="#b63648"/>
<circle cx="152.79" cy="583.07" r="1.265" fill="#b63648"/>
<circle cx="158.11" cy="594.50" r="1.265" fill="#b63648"/>
<polyline points="142.16,590.98 147.47,581.31 152.79,592.74 158.11,594.50 166.08,594.50 176.72,594.50 195.32,594.50 213.93,594.50" fill="none" stroke="#3448b0" stroke-width="1.125" stroke-linejoin="round"/>
<rect x="140.89" y="589.72" width="2.53" height="2.53" fill="#29398c"/>
<rect x="146.21" y="580.05" width="2.53" height="2.53" fill="#29398c"/>
<rect x="151.53" y="591.48" width="2.53" height="2.53" fill="#29398c"/>
<rect x="156.84" y="593.24" width="2.53" height="2.53" fill="#29398c"/>
<rect x="164.82" y="593.24" width="2.53" height="2.53" fill="#29398c"/>
<rect x="175.45" y="593.24" width="2.53" height="2.53" fill="#29398c"/>
<rect x="194.06" y="593.24" width="2.53" height="2.53" fill="#29398c"/>
<rect x="212.67" y="593.24" width="2.53" height="2.53" fill="#29398c"/>
<line x1="198.20" y1="553.75" x2="202.80" y2="553.75" stroke="#3448b0" stroke-width="0.8"/>
<rect x="199.50" y="552.75" width="2.00" height="2.00" fill="#3448b0"/>
<text x="204.5" y="555.2" font-size="4.2" fill="#262626" stroke="#262626" stroke-width="0.28">CD7<tspan font-size="2.8" dy="-1.4">+</tspan><tspan dy="1.4"> abnor</tspan></text>
<line x1="198.20" y1="559.50" x2="202.80" y2="559.50" stroke="#e4445a" stroke-width="0.8"/>
<circle cx="200.50" cy="559.50" r="1.0" fill="#e4445a"/>
<text x="204.5" y="561" font-size="4.2" fill="#262626" stroke="#262626" stroke-width="0.28">CD7<tspan font-size="2.8" dy="-1.4">+</tspan><tspan dy="1.4"> cells</tspan></text>
<text x="2.20" y="624.50" font-size="7.2" text-anchor="middle" font-weight="bold" fill="#111" stroke="#111" stroke-width="0.28" dominant-baseline="central">E</text>
<line x1="25.50" y1="627.00" x2="25.50" y2="679.50" stroke="#555" stroke-width="1.0"/>
<line x1="24.25" y1="627.50" x2="25.75" y2="627.50" stroke="#555" stroke-width="1.0"/>
<text x="23.55" y="627.00" font-size="4.2" text-anchor="end" font-weight="bold" fill="#262626" stroke="#262626" stroke-width="0.28" dominant-baseline="central">30</text>
<line x1="24.25" y1="644.50" x2="25.75" y2="644.50" stroke="#555" stroke-width="1.0"/>
<text x="23.55" y="644.50" font-size="4.2" text-anchor="end" font-weight="bold" fill="#262626" stroke="#262626" stroke-width="0.28" dominant-baseline="central">20</text>
<line x1="24.25" y1="662.50" x2="25.75" y2="662.50" stroke="#555" stroke-width="1.0"/>
<text x="23.55" y="662.00" font-size="4.2" text-anchor="end" font-weight="bold" fill="#262626" stroke="#262626" stroke-width="0.28" dominant-baseline="central">10</text>
<line x1="24.25" y1="679.50" x2="25.75" y2="679.50" stroke="#555" stroke-width="1.0"/>
<text x="23.55" y="679.50" font-size="4.2" text-anchor="end" font-weight="bold" fill="#262626" stroke="#262626" stroke-width="0.28" dominant-baseline="central">0</text>
<line x1="25.75" y1="679.50" x2="65.50" y2="679.50" stroke="#555" stroke-width="1.0"/>
<line x1="68.30" y1="679.50" x2="106.00" y2="679.50" stroke="#555" stroke-width="1.0"/>
<line x1="26.50" y1="679.50" x2="26.50" y2="681.00" stroke="#555" stroke-width="1.0"/>
<text x="26.50" y="684.50" font-size="4.2" text-anchor="middle" font-weight="bold" fill="#262626" stroke="#262626" stroke-width="0.28" dominant-baseline="central">−10</text>
<line x1="36.50" y1="679.50" x2="36.50" y2="681.00" stroke="#555" stroke-width="1.0"/>
<text x="36.25" y="684.50" font-size="4.2" text-anchor="middle" font-weight="bold" fill="#262626" stroke="#262626" stroke-width="0.28" dominant-baseline="central">0</text>
<line x1="45.50" y1="679.50" x2="45.50" y2="681.00" stroke="#555" stroke-width="1.0"/>
<text x="45.40" y="684.50" font-size="4.2" text-anchor="middle" font-weight="bold" fill="#262626" stroke="#262626" stroke-width="0.28" dominant-baseline="central">10</text>
<line x1="55.50" y1="679.50" x2="55.50" y2="681.00" stroke="#555" stroke-width="1.0"/>
<text x="55.10" y="684.50" font-size="4.2" text-anchor="middle" font-weight="bold" fill="#262626" stroke="#262626" stroke-width="0.28" dominant-baseline="central">20</text>
<line x1="64.50" y1="679.50" x2="64.50" y2="681.00" stroke="#555" stroke-width="1.0"/>
<text x="64.50" y="684.50" font-size="4.2" text-anchor="middle" font-weight="bold" fill="#262626" stroke="#262626" stroke-width="0.28" dominant-baseline="central">30</text>
<line x1="96.50" y1="679.50" x2="96.50" y2="681.00" stroke="#555" stroke-width="1.0"/>
<text x="96.50" y="684.50" font-size="4.2" text-anchor="middle" font-weight="bold" fill="#262626" stroke="#262626" stroke-width="0.28" dominant-baseline="central">60</text>
<line x1="26.25" y1="632.00" x2="106.00" y2="632.00" stroke="#bdbdbd" stroke-width="0.8"/>
<line x1="26.25" y1="670.75" x2="106.00" y2="670.75" stroke="#bcc4d8" stroke-width="0.8"/>
<text x="67.00" y="623.00" font-size="4.5" text-anchor="middle" font-weight="normal" fill="#333" stroke="#333" stroke-width="0.17" dominant-baseline="central" stroke-opacity="0.45">Pt001</text>
<text x="65.60" y="690.50" font-size="4.8" text-anchor="middle" font-weight="bold" fill="#262626" stroke="#262626" stroke-width="0.28" dominant-baseline="central" textLength="33.8" lengthAdjust="spacingAndGlyphs">Time point (day)</text>
<text x="13.60" y="653.75" font-size="4.6" font-weight="bold" text-anchor="middle" fill="#262626" stroke="#262626" stroke-width="0.28" dominant-baseline="central" transform="rotate(-90 13.60 653.75)">CD16<tspan font-size="3" dy="-1.5">+</tspan><tspan dy="1.5"> CD56</tspan><tspan font-size="3" dy="-1.5">+</tspan><tspan dy="1.5"> % (NK cells)</tspan></text>
<polyline points="30.00,638.25 35.50,677.00 40.75,676.50 54.50,679.00 57.00,679.00 58.00,678.00 61.75,674.50 96.25,665.50" fill="none" stroke="#f2845a" stroke-width="0.875" stroke-linejoin="round"/>
<circle cx="30.00" cy="638.25" r="1.0924999999999998" fill="#c16948"/>
<circle cx="35.50" cy="677.00" r="1.0924999999999998" fill="#c16948"/>
<circle cx="40.75" cy="676.50" r="1.0924999999999998" fill="#c16948"/>
<circle cx="54.50" cy="679.00" r="1.0924999999999998" fill="#c16948"/>
<circle cx="57.00" cy="679.00" r="1.0924999999999998" fill="#c16948"/>
<circle cx="58.00" cy="678.00" r="1.0924999999999998" fill="#c16948"/>
<circle cx="61.75" cy="674.50" r="1.0924999999999998" fill="#c16948"/>
<circle cx="96.25" cy="665.50" r="1.0924999999999998" fill="#c16948"/>
<rect x="65.80" y="627.00" width="2.20" height="51.90" fill="#fff"/>
<line x1="65.80" y1="632.00" x2="68.00" y2="632.00" stroke="#bdbdbd" stroke-width="0.8"/>
<line x1="65.80" y1="670.75" x2="68.00" y2="670.75" stroke="#bcc4d8" stroke-width="0.8"/>
<line x1="142.50" y1="626.75" x2="142.50" y2="679.50" stroke="#555" stroke-width="1.0"/>
<line x1="141.00" y1="626.50" x2="142.50" y2="626.50" stroke="#555" stroke-width="1.0"/>
<text x="140.30" y="626.75" font-size="4.2" text-anchor="end" font-weight="bold" fill="#262626" stroke="#262626" stroke-width="0.28" dominant-baseline="central">6</text>
<line x1="141.00" y1="644.50" x2="142.50" y2="644.50" stroke="#555" stroke-width="1.0"/>
<text x="140.30" y="644.25" font-size="4.2" text-anchor="end" font-weight="bold" fill="#262626" stroke="#262626" stroke-width="0.28" dominant-baseline="central">4</text>
<line x1="141.00" y1="662.50" x2="142.50" y2="662.50" stroke="#555" stroke-width="1.0"/>
<text x="140.30" y="662.00" font-size="4.2" text-anchor="end" font-weight="bold" fill="#262626" stroke="#262626" stroke-width="0.28" dominant-baseline="central">2</text>
<line x1="141.00" y1="679.50" x2="142.50" y2="679.50" stroke="#555" stroke-width="1.0"/>
<text x="140.30" y="679.50" font-size="4.2" text-anchor="end" font-weight="bold" fill="#262626" stroke="#262626" stroke-width="0.28" dominant-baseline="central">0</text>
<line x1="142.50" y1="679.50" x2="182.00" y2="679.50" stroke="#555" stroke-width="1.0"/>
<line x1="184.00" y1="679.50" x2="220.00" y2="679.50" stroke="#555" stroke-width="1.0"/>
<line x1="142.50" y1="679.50" x2="142.50" y2="681.00" stroke="#555" stroke-width="1.0"/>
<text x="142.50" y="684.50" font-size="4.2" text-anchor="middle" font-weight="bold" fill="#262626" stroke="#262626" stroke-width="0.28" dominant-baseline="central">0</text>
<line x1="155.50" y1="679.50" x2="155.50" y2="681.00" stroke="#555" stroke-width="1.0"/>
<text x="155.00" y="684.50" font-size="4.2" text-anchor="middle" font-weight="bold" fill="#262626" stroke="#262626" stroke-width="0.28" dominant-baseline="central">10</text>
<line x1="167.50" y1="679.50" x2="167.50" y2="681.00" stroke="#555" stroke-width="1.0"/>
<text x="167.50" y="684.50" font-size="4.2" text-anchor="middle" font-weight="bold" fill="#262626" stroke="#262626" stroke-width="0.28" dominant-baseline="central">20</text>
<line x1="179.50" y1="679.50" x2="179.50" y2="681.00" stroke="#555" stroke-width="1.0"/>
<text x="179.50" y="684.50" font-size="4.2" text-anchor="middle" font-weight="bold" fill="#262626" stroke="#262626" stroke-width="0.28" dominant-baseline="central">30</text>
<line x1="212.50" y1="679.50" x2="212.50" y2="681.00" stroke="#555" stroke-width="1.0"/>
<text x="212.00" y="684.50" font-size="4.2" text-anchor="middle" font-weight="bold" fill="#262626" stroke="#262626" stroke-width="0.28" dominant-baseline="central">60</text>
<line x1="143.00" y1="635.75" x2="220.00" y2="635.75" stroke="#c8c8c8" stroke-width="0.8"/>
<text x="181.25" y="622.50" font-size="4.5" text-anchor="middle" font-weight="normal" fill="#333" stroke="#333" stroke-width="0.17" dominant-baseline="central" stroke-opacity="0.45">Pt002</text>
<text x="182.20" y="690.50" font-size="4.8" text-anchor="middle" font-weight="bold" fill="#262626" stroke="#262626" stroke-width="0.28" dominant-baseline="central" textLength="33.8" lengthAdjust="spacingAndGlyphs">Time point (day)</text>
<text x="131.20" y="653.62" font-size="4.6" font-weight="bold" text-anchor="middle" fill="#262626" stroke="#262626" stroke-width="0.28" dominant-baseline="central" transform="rotate(-90 131.20 653.62)">CD16<tspan font-size="3" dy="-1.5">+</tspan><tspan dy="1.5"> CD56</tspan><tspan font-size="3" dy="-1.5">+</tspan><tspan dy="1.5"> % (NK cells)</tspan></text>
<polyline points="155.00,679.50 158.75,678.50 212.00,651.75" fill="none" stroke="#f2845a" stroke-width="0.875" stroke-linejoin="round"/>
<circle cx="155.00" cy="679.50" r="1.0924999999999998" fill="#c16948"/>
<circle cx="158.75" cy="678.50" r="1.0924999999999998" fill="#c16948"/>
<circle cx="212.00" cy="651.75" r="1.0924999999999998" fill="#c16948"/>
<rect x="182.30" y="626.75" width="1.40" height="52.15" fill="#fff"/>
<line x1="182.30" y1="635.75" x2="183.70" y2="635.75" stroke="#c8c8c8" stroke-width="0.8"/>
<line x1="24.50" y1="702.00" x2="24.50" y2="754.50" stroke="#555" stroke-width="1.0"/>
<line x1="22.75" y1="702.50" x2="24.25" y2="702.50" stroke="#555" stroke-width="1.0"/>
<text x="22.05" y="702.00" font-size="4.2" text-anchor="end" font-weight="bold" fill="#262626" stroke="#262626" stroke-width="0.28" dominant-baseline="central">30</text>
<line x1="22.75" y1="719.50" x2="24.25" y2="719.50" stroke="#555" stroke-width="1.0"/>
<text x="22.05" y="719.50" font-size="4.2" text-anchor="end" font-weight="bold" fill="#262626" stroke="#262626" stroke-width="0.28" dominant-baseline="central">20</text>
<line x1="22.75" y1="737.50" x2="24.25" y2="737.50" stroke="#555" stroke-width="1.0"/>
<text x="22.05" y="737.00" font-size="4.2" text-anchor="end" font-weight="bold" fill="#262626" stroke="#262626" stroke-width="0.28" dominant-baseline="central">10</text>
<line x1="22.75" y1="754.50" x2="24.25" y2="754.50" stroke="#555" stroke-width="1.0"/>
<text x="22.05" y="754.50" font-size="4.2" text-anchor="end" font-weight="bold" fill="#262626" stroke="#262626" stroke-width="0.28" dominant-baseline="central">0</text>
<line x1="24.25" y1="754.50" x2="104.00" y2="754.50" stroke="#555" stroke-width="1.0"/>
<line x1="29.50" y1="754.50" x2="29.50" y2="756.00" stroke="#555" stroke-width="1.0"/>
<text x="29.50" y="759.50" font-size="4.2" text-anchor="middle" font-weight="bold" fill="#262626" stroke="#262626" stroke-width="0.28" dominant-baseline="central">0</text>
<line x1="41.50" y1="754.50" x2="41.50" y2="756.00" stroke="#555" stroke-width="1.0"/>
<text x="41.75" y="759.50" font-size="4.2" text-anchor="middle" font-weight="bold" fill="#262626" stroke="#262626" stroke-width="0.28" dominant-baseline="central">5</text>
<line x1="54.50" y1="754.50" x2="54.50" y2="756.00" stroke="#555" stroke-width="1.0"/>
<text x="54.00" y="759.50" font-size="4.2" text-anchor="middle" font-weight="bold" fill="#262626" stroke="#262626" stroke-width="0.28" dominant-baseline="central">10</text>
<line x1="66.50" y1="754.50" x2="66.50" y2="756.00" stroke="#555" stroke-width="1.0"/>
<text x="66.75" y="759.50" font-size="4.2" text-anchor="middle" font-weight="bold" fill="#262626" stroke="#262626" stroke-width="0.28" dominant-baseline="central">15</text>
<line x1="79.50" y1="754.50" x2="79.50" y2="756.00" stroke="#555" stroke-width="1.0"/>
<text x="79.00" y="759.50" font-size="4.2" text-anchor="middle" font-weight="bold" fill="#262626" stroke="#262626" stroke-width="0.28" dominant-baseline="central">20</text>
<line x1="91.50" y1="754.50" x2="91.50" y2="756.00" stroke="#555" stroke-width="1.0"/>
<text x="91.25" y="759.50" font-size="4.2" text-anchor="middle" font-weight="bold" fill="#262626" stroke="#262626" stroke-width="0.28" dominant-baseline="central">25</text>
<line x1="103.50" y1="754.50" x2="103.50" y2="756.00" stroke="#555" stroke-width="1.0"/>
<text x="103.50" y="759.50" font-size="4.2" text-anchor="middle" font-weight="bold" fill="#262626" stroke="#262626" stroke-width="0.28" dominant-baseline="central">30</text>
<line x1="24.75" y1="707.50" x2="104.00" y2="707.50" stroke="#bdbdbd" stroke-width="0.8"/>
<line x1="24.75" y1="746.25" x2="104.00" y2="746.25" stroke="#bcc4d8" stroke-width="0.8"/>
<text x="67.00" y="699.30" font-size="4.5" text-anchor="middle" font-weight="normal" fill="#333" stroke="#333" stroke-width="0.17" dominant-baseline="central" stroke-opacity="0.45">Pt003</text>
<text x="63.40" y="764.50" font-size="4.8" text-anchor="middle" font-weight="bold" fill="#262626" stroke="#262626" stroke-width="0.28" dominant-baseline="central" textLength="33.8" lengthAdjust="spacingAndGlyphs">Time point (day)</text>
<text x="13.60" y="728.75" font-size="4.6" font-weight="bold" text-anchor="middle" fill="#262626" stroke="#262626" stroke-width="0.28" dominant-baseline="central" transform="rotate(-90 13.60 728.75)">CD16<tspan font-size="3" dy="-1.5">+</tspan><tspan dy="1.5"> CD56</tspan><tspan font-size="3" dy="-1.5">+</tspan><tspan dy="1.5"> % (NK cells)</tspan></text>
<polyline points="26.75,753.00 41.75,735.00 44.00,735.00 98.75,747.00" fill="none" stroke="#f2845a" stroke-width="0.875" stroke-linejoin="round"/>
<circle cx="26.75" cy="753.00" r="1.0924999999999998" fill="#c16948"/>
<circle cx="41.75" cy="735.00" r="1.0924999999999998" fill="#c16948"/>
<circle cx="44.00" cy="735.00" r="1.0924999999999998" fill="#c16948"/>
<circle cx="98.75" cy="747.00" r="1.0924999999999998" fill="#c16948"/>
<line x1="142.50" y1="702.00" x2="142.50" y2="755.00" stroke="#555" stroke-width="1.0"/>
<line x1="140.50" y1="702.50" x2="142.00" y2="702.50" stroke="#555" stroke-width="1.0"/>
<text x="139.80" y="702.00" font-size="4.2" text-anchor="end" font-weight="bold" fill="#262626" stroke="#262626" stroke-width="0.28" dominant-baseline="central">30</text>
<line x1="140.50" y1="719.50" x2="142.00" y2="719.50" stroke="#555" stroke-width="1.0"/>
<text x="139.80" y="719.50" font-size="4.2" text-anchor="end" font-weight="bold" fill="#262626" stroke="#262626" stroke-width="0.28" dominant-baseline="central">20</text>
<line x1="140.50" y1="737.50" x2="142.00" y2="737.50" stroke="#555" stroke-width="1.0"/>
<text x="139.80" y="737.00" font-size="4.2" text-anchor="end" font-weight="bold" fill="#262626" stroke="#262626" stroke-width="0.28" dominant-baseline="central">10</text>
<line x1="140.50" y1="755.50" x2="142.00" y2="755.50" stroke="#555" stroke-width="1.0"/>
<text x="139.80" y="755.00" font-size="4.2" text-anchor="end" font-weight="bold" fill="#262626" stroke="#262626" stroke-width="0.28" dominant-baseline="central">0</text>
<line x1="142.00" y1="755.50" x2="220.00" y2="755.50" stroke="#555" stroke-width="1.0"/>
<line x1="142.50" y1="755.00" x2="142.50" y2="756.50" stroke="#555" stroke-width="1.0"/>
<text x="142.00" y="760.00" font-size="4.2" text-anchor="middle" font-weight="bold" fill="#262626" stroke="#262626" stroke-width="0.28" dominant-baseline="central">−10</text>
<line x1="151.50" y1="755.00" x2="151.50" y2="756.50" stroke="#555" stroke-width="1.0"/>
<text x="151.25" y="760.00" font-size="4.2" text-anchor="middle" font-weight="bold" fill="#262626" stroke="#262626" stroke-width="0.28" dominant-baseline="central">−5</text>
<line x1="161.50" y1="755.00" x2="161.50" y2="756.50" stroke="#555" stroke-width="1.0"/>
<text x="161.25" y="760.00" font-size="4.2" text-anchor="middle" font-weight="bold" fill="#262626" stroke="#262626" stroke-width="0.28" dominant-baseline="central">0</text>
<line x1="170.50" y1="755.00" x2="170.50" y2="756.50" stroke="#555" stroke-width="1.0"/>
<text x="170.75" y="760.00" font-size="4.2" text-anchor="middle" font-weight="bold" fill="#262626" stroke="#262626" stroke-width="0.28" dominant-baseline="central">5</text>
<line x1="180.50" y1="755.00" x2="180.50" y2="756.50" stroke="#555" stroke-width="1.0"/>
<text x="180.75" y="760.00" font-size="4.2" text-anchor="middle" font-weight="bold" fill="#262626" stroke="#262626" stroke-width="0.28" dominant-baseline="central">10</text>
<line x1="190.50" y1="755.00" x2="190.50" y2="756.50" stroke="#555" stroke-width="1.0"/>
<text x="190.50" y="760.00" font-size="4.2" text-anchor="middle" font-weight="bold" fill="#262626" stroke="#262626" stroke-width="0.28" dominant-baseline="central">15</text>
<line x1="200.50" y1="755.00" x2="200.50" y2="756.50" stroke="#555" stroke-width="1.0"/>
<text x="200.00" y="760.00" font-size="4.2" text-anchor="middle" font-weight="bold" fill="#262626" stroke="#262626" stroke-width="0.28" dominant-baseline="central">20</text>
<line x1="210.50" y1="755.00" x2="210.50" y2="756.50" stroke="#555" stroke-width="1.0"/>
<text x="210.00" y="760.00" font-size="4.2" text-anchor="middle" font-weight="bold" fill="#262626" stroke="#262626" stroke-width="0.28" dominant-baseline="central">25</text>
<line x1="219.50" y1="755.00" x2="219.50" y2="756.50" stroke="#555" stroke-width="1.0"/>
<text x="219.50" y="760.00" font-size="4.2" text-anchor="middle" font-weight="bold" fill="#262626" stroke="#262626" stroke-width="0.28" dominant-baseline="central">30</text>
<line x1="142.50" y1="708.00" x2="220.00" y2="708.00" stroke="#bdbdbd" stroke-width="0.8"/>
<line x1="142.50" y1="746.25" x2="220.00" y2="746.25" stroke="#bcc4d8" stroke-width="0.8"/>
<text x="181.25" y="699.30" font-size="4.5" text-anchor="middle" font-weight="normal" fill="#333" stroke="#333" stroke-width="0.17" dominant-baseline="central" stroke-opacity="0.45">Pt004</text>
<text x="179.40" y="764.50" font-size="4.8" text-anchor="middle" font-weight="bold" fill="#262626" stroke="#262626" stroke-width="0.28" dominant-baseline="central" textLength="33.8" lengthAdjust="spacingAndGlyphs">Time point (day)</text>
<text x="131.20" y="729.00" font-size="4.6" font-weight="bold" text-anchor="middle" fill="#262626" stroke="#262626" stroke-width="0.28" dominant-baseline="central" transform="rotate(-90 131.20 729.00)">CD16<tspan font-size="3" dy="-1.5">+</tspan><tspan dy="1.5"> CD56</tspan><tspan font-size="3" dy="-1.5">+</tspan><tspan dy="1.5"> % (NK cells)</tspan></text>
<polyline points="158.75,742.00 162.50,747.00 168.75,738.75 171.25,743.75 182.50,752.50 188.75,753.50 202.00,754.00 216.25,751.25" fill="none" stroke="#f2845a" stroke-width="0.875" stroke-linejoin="round"/>
<circle cx="158.75" cy="742.00" r="1.0924999999999998" fill="#c16948"/>
<circle cx="162.50" cy="747.00" r="1.0924999999999998" fill="#c16948"/>
<circle cx="168.75" cy="738.75" r="1.0924999999999998" fill="#c16948"/>
<circle cx="171.25" cy="743.75" r="1.0924999999999998" fill="#c16948"/>
<circle cx="182.50" cy="752.50" r="1.0924999999999998" fill="#c16948"/>
<circle cx="188.75" cy="753.50" r="1.0924999999999998" fill="#c16948"/>
<circle cx="202.00" cy="754.00" r="1.0924999999999998" fill="#c16948"/>
<circle cx="216.25" cy="751.25" r="1.0924999999999998" fill="#c16948"/>
<line x1="24.50" y1="777.00" x2="24.50" y2="830.00" stroke="#555" stroke-width="1.0"/>
<line x1="22.75" y1="777.50" x2="24.25" y2="777.50" stroke="#555" stroke-width="1.0"/>
<text x="22.05" y="777.00" font-size="4.2" text-anchor="end" font-weight="bold" fill="#262626" stroke="#262626" stroke-width="0.28" dominant-baseline="central">30</text>
<line x1="22.75" y1="794.50" x2="24.25" y2="794.50" stroke="#555" stroke-width="1.0"/>
<text x="22.05" y="794.50" font-size="4.2" text-anchor="end" font-weight="bold" fill="#262626" stroke="#262626" stroke-width="0.28" dominant-baseline="central">20</text>
<line x1="22.75" y1="812.50" x2="24.25" y2="812.50" stroke="#555" stroke-width="1.0"/>
<text x="22.05" y="812.00" font-size="4.2" text-anchor="end" font-weight="bold" fill="#262626" stroke="#262626" stroke-width="0.28" dominant-baseline="central">10</text>
<line x1="22.75" y1="830.50" x2="24.25" y2="830.50" stroke="#555" stroke-width="1.0"/>
<text x="22.05" y="830.00" font-size="4.2" text-anchor="end" font-weight="bold" fill="#262626" stroke="#262626" stroke-width="0.28" dominant-baseline="central">0</text>
<line x1="24.25" y1="830.50" x2="104.00" y2="830.50" stroke="#555" stroke-width="1.0"/>
<line x1="26.50" y1="830.00" x2="26.50" y2="831.50" stroke="#555" stroke-width="1.0"/>
<text x="26.25" y="835.00" font-size="4.2" text-anchor="middle" font-weight="bold" fill="#262626" stroke="#262626" stroke-width="0.28" dominant-baseline="central">0</text>
<line x1="39.50" y1="830.00" x2="39.50" y2="831.50" stroke="#555" stroke-width="1.0"/>
<text x="39.25" y="835.00" font-size="4.2" text-anchor="middle" font-weight="bold" fill="#262626" stroke="#262626" stroke-width="0.28" dominant-baseline="central">5</text>
<line x1="52.50" y1="830.00" x2="52.50" y2="831.50" stroke="#555" stroke-width="1.0"/>
<text x="52.00" y="835.00" font-size="4.2" text-anchor="middle" font-weight="bold" fill="#262626" stroke="#262626" stroke-width="0.28" dominant-baseline="central">10</text>
<line x1="64.50" y1="830.00" x2="64.50" y2="831.50" stroke="#555" stroke-width="1.0"/>
<text x="64.50" y="835.00" font-size="4.2" text-anchor="middle" font-weight="bold" fill="#262626" stroke="#262626" stroke-width="0.28" dominant-baseline="central">15</text>
<line x1="77.50" y1="830.00" x2="77.50" y2="831.50" stroke="#555" stroke-width="1.0"/>
<text x="77.50" y="835.00" font-size="4.2" text-anchor="middle" font-weight="bold" fill="#262626" stroke="#262626" stroke-width="0.28" dominant-baseline="central">20</text>
<line x1="90.50" y1="830.00" x2="90.50" y2="831.50" stroke="#555" stroke-width="1.0"/>
<text x="90.00" y="835.00" font-size="4.2" text-anchor="middle" font-weight="bold" fill="#262626" stroke="#262626" stroke-width="0.28" dominant-baseline="central">25</text>
<line x1="103.50" y1="830.00" x2="103.50" y2="831.50" stroke="#555" stroke-width="1.0"/>
<text x="103.00" y="835.00" font-size="4.2" text-anchor="middle" font-weight="bold" fill="#262626" stroke="#262626" stroke-width="0.28" dominant-baseline="central">30</text>
<line x1="24.75" y1="782.50" x2="104.00" y2="782.50" stroke="#bdbdbd" stroke-width="0.8"/>
<line x1="24.75" y1="821.25" x2="104.00" y2="821.25" stroke="#bcc4d8" stroke-width="0.8"/>
<text x="67.00" y="774.30" font-size="4.5" text-anchor="middle" font-weight="normal" fill="#333" stroke="#333" stroke-width="0.17" dominant-baseline="central" stroke-opacity="0.45">Pt005</text>
<text x="62.60" y="839.50" font-size="4.8" text-anchor="middle" font-weight="bold" fill="#262626" stroke="#262626" stroke-width="0.28" dominant-baseline="central" textLength="33.8" lengthAdjust="spacingAndGlyphs">Time point (day)</text>
<text x="13.60" y="804.00" font-size="4.6" font-weight="bold" text-anchor="middle" fill="#262626" stroke="#262626" stroke-width="0.28" dominant-baseline="central" transform="rotate(-90 13.60 804.00)">CD16<tspan font-size="3" dy="-1.5">+</tspan><tspan dy="1.5"> CD56</tspan><tspan font-size="3" dy="-1.5">+</tspan><tspan dy="1.5"> % (NK cells)</tspan></text>
<polyline points="24.25,820.75 29.50,825.50 35.00,815.50 39.50,808.00 44.50,822.00 52.00,830.00 57.50,830.00 62.50,830.00 75.00,829.00 80.50,829.00 98.25,820.00" fill="none" stroke="#f2845a" stroke-width="0.875" stroke-linejoin="round"/>
<circle cx="24.25" cy="820.75" r="1.0924999999999998" fill="#c16948"/>
<circle cx="29.50" cy="825.50" r="1.0924999999999998" fill="#c16948"/>
<circle cx="35.00" cy="815.50" r="1.0924999999999998" fill="#c16948"/>
<circle cx="39.50" cy="808.00" r="1.0924999999999998" fill="#c16948"/>
<circle cx="44.50" cy="822.00" r="1.0924999999999998" fill="#c16948"/>
<circle cx="52.00" cy="830.00" r="1.0924999999999998" fill="#c16948"/>
<circle cx="57.50" cy="830.00" r="1.0924999999999998" fill="#c16948"/>
<circle cx="62.50" cy="830.00" r="1.0924999999999998" fill="#c16948"/>
<circle cx="75.00" cy="829.00" r="1.0924999999999998" fill="#c16948"/>
<circle cx="80.50" cy="829.00" r="1.0924999999999998" fill="#c16948"/>
<circle cx="98.25" cy="820.00" r="1.0924999999999998" fill="#c16948"/>
<line x1="140.50" y1="777.00" x2="140.50" y2="829.50" stroke="#555" stroke-width="1.0"/>
<line x1="139.00" y1="777.50" x2="140.50" y2="777.50" stroke="#555" stroke-width="1.0"/>
<text x="138.30" y="777.00" font-size="4.2" text-anchor="end" font-weight="bold" fill="#262626" stroke="#262626" stroke-width="0.28" dominant-baseline="central">30</text>
<line x1="139.00" y1="794.50" x2="140.50" y2="794.50" stroke="#555" stroke-width="1.0"/>
<text x="138.30" y="794.50" font-size="4.2" text-anchor="end" font-weight="bold" fill="#262626" stroke="#262626" stroke-width="0.28" dominant-baseline="central">20</text>
<line x1="139.00" y1="812.50" x2="140.50" y2="812.50" stroke="#555" stroke-width="1.0"/>
<text x="138.30" y="812.00" font-size="4.2" text-anchor="end" font-weight="bold" fill="#262626" stroke="#262626" stroke-width="0.28" dominant-baseline="central">10</text>
<line x1="139.00" y1="829.50" x2="140.50" y2="829.50" stroke="#555" stroke-width="1.0"/>
<text x="138.30" y="829.50" font-size="4.2" text-anchor="end" font-weight="bold" fill="#262626" stroke="#262626" stroke-width="0.28" dominant-baseline="central">0</text>
<line x1="140.50" y1="829.50" x2="180.00" y2="829.50" stroke="#555" stroke-width="1.0"/>
<line x1="182.00" y1="829.50" x2="219.00" y2="829.50" stroke="#555" stroke-width="1.0"/>
<line x1="148.50" y1="829.50" x2="148.50" y2="831.00" stroke="#555" stroke-width="1.0"/>
<text x="148.25" y="834.50" font-size="4.2" text-anchor="middle" font-weight="bold" fill="#262626" stroke="#262626" stroke-width="0.28" dominant-baseline="central">0</text>
<line x1="158.50" y1="829.50" x2="158.50" y2="831.00" stroke="#555" stroke-width="1.0"/>
<text x="158.25" y="834.50" font-size="4.2" text-anchor="middle" font-weight="bold" fill="#262626" stroke="#262626" stroke-width="0.28" dominant-baseline="central">10</text>
<line x1="169.50" y1="829.50" x2="169.50" y2="831.00" stroke="#555" stroke-width="1.0"/>
<text x="169.25" y="834.50" font-size="4.2" text-anchor="middle" font-weight="bold" fill="#262626" stroke="#262626" stroke-width="0.28" dominant-baseline="central">20</text>
<line x1="178.50" y1="829.50" x2="178.50" y2="831.00" stroke="#555" stroke-width="1.0"/>
<text x="178.00" y="834.50" font-size="4.2" text-anchor="middle" font-weight="bold" fill="#262626" stroke="#262626" stroke-width="0.28" dominant-baseline="central">30</text>
<line x1="210.50" y1="829.50" x2="210.50" y2="831.00" stroke="#555" stroke-width="1.0"/>
<text x="210.50" y="834.50" font-size="4.2" text-anchor="middle" font-weight="bold" fill="#262626" stroke="#262626" stroke-width="0.28" dominant-baseline="central">60</text>
<line x1="141.00" y1="786.25" x2="219.00" y2="786.25" stroke="#bdbdbd" stroke-width="0.8"/>
<line x1="141.00" y1="821.25" x2="219.00" y2="821.25" stroke="#bcc4d8" stroke-width="0.8"/>
<text x="181.25" y="774.30" font-size="4.5" text-anchor="middle" font-weight="normal" fill="#333" stroke="#333" stroke-width="0.17" dominant-baseline="central" stroke-opacity="0.45">Pt006</text>
<text x="178.80" y="840.00" font-size="4.8" text-anchor="middle" font-weight="bold" fill="#262626" stroke="#262626" stroke-width="0.28" dominant-baseline="central" textLength="33.8" lengthAdjust="spacingAndGlyphs">Time point (day)</text>
<text x="131.20" y="803.75" font-size="4.6" font-weight="bold" text-anchor="middle" fill="#262626" stroke="#262626" stroke-width="0.28" dominant-baseline="central" transform="rotate(-90 131.20 803.75)">CD16<tspan font-size="3" dy="-1.5">+</tspan><tspan dy="1.5"> CD56</tspan><tspan font-size="3" dy="-1.5">+</tspan><tspan dy="1.5"> % (NK cells)</tspan></text>
<polyline points="146.25,829.00 148.25,829.00 150.50,828.00 155.00,821.25 158.25,816.75 162.50,825.00 169.25,829.00 177.00,823.75 214.50,815.75" fill="none" stroke="#f2845a" stroke-width="0.875" stroke-linejoin="round"/>
<circle cx="146.25" cy="829.00" r="1.0924999999999998" fill="#c16948"/>
<circle cx="148.25" cy="829.00" r="1.0924999999999998" fill="#c16948"/>
<circle cx="150.50" cy="828.00" r="1.0924999999999998" fill="#c16948"/>
<circle cx="155.00" cy="821.25" r="1.0924999999999998" fill="#c16948"/>
<circle cx="158.25" cy="816.75" r="1.0924999999999998" fill="#c16948"/>
<circle cx="162.50" cy="825.00" r="1.0924999999999998" fill="#c16948"/>
<circle cx="169.25" cy="829.00" r="1.0924999999999998" fill="#c16948"/>
<circle cx="177.00" cy="823.75" r="1.0924999999999998" fill="#c16948"/>
<circle cx="214.50" cy="815.75" r="1.0924999999999998" fill="#c16948"/>
<rect x="180.30" y="777.00" width="1.40" height="51.90" fill="#fff"/>
<line x1="180.30" y1="786.25" x2="181.70" y2="786.25" stroke="#bdbdbd" stroke-width="0.8"/>
<line x1="180.30" y1="821.25" x2="181.70" y2="821.25" stroke="#bcc4d8" stroke-width="0.8"/>
<line x1="24.50" y1="850.50" x2="24.50" y2="903.25" stroke="#555" stroke-width="1.0"/>
<line x1="22.75" y1="850.50" x2="24.25" y2="850.50" stroke="#555" stroke-width="1.0"/>
<text x="22.05" y="850.50" font-size="4.2" text-anchor="end" font-weight="bold" fill="#262626" stroke="#262626" stroke-width="0.28" dominant-baseline="central">40</text>
<line x1="22.75" y1="863.50" x2="24.25" y2="863.50" stroke="#555" stroke-width="1.0"/>
<text x="22.05" y="863.75" font-size="4.2" text-anchor="end" font-weight="bold" fill="#262626" stroke="#262626" stroke-width="0.28" dominant-baseline="central">30</text>
<line x1="22.75" y1="876.50" x2="24.25" y2="876.50" stroke="#555" stroke-width="1.0"/>
<text x="22.05" y="876.75" font-size="4.2" text-anchor="end" font-weight="bold" fill="#262626" stroke="#262626" stroke-width="0.28" dominant-baseline="central">20</text>
<line x1="22.75" y1="890.50" x2="24.25" y2="890.50" stroke="#555" stroke-width="1.0"/>
<text x="22.05" y="890.00" font-size="4.2" text-anchor="end" font-weight="bold" fill="#262626" stroke="#262626" stroke-width="0.28" dominant-baseline="central">10</text>
<line x1="22.75" y1="903.50" x2="24.25" y2="903.50" stroke="#555" stroke-width="1.0"/>
<text x="22.05" y="903.25" font-size="4.2" text-anchor="end" font-weight="bold" fill="#262626" stroke="#262626" stroke-width="0.28" dominant-baseline="central">0</text>
<line x1="24.25" y1="903.50" x2="64.00" y2="903.50" stroke="#555" stroke-width="1.0"/>
<line x1="66.00" y1="903.50" x2="107.00" y2="903.50" stroke="#555" stroke-width="1.0"/>
<line x1="26.50" y1="903.25" x2="26.50" y2="904.75" stroke="#555" stroke-width="1.0"/>
<text x="26.25" y="908.25" font-size="4.2" text-anchor="middle" font-weight="bold" fill="#262626" stroke="#262626" stroke-width="0.28" dominant-baseline="central">0</text>
<line x1="38.50" y1="903.25" x2="38.50" y2="904.75" stroke="#555" stroke-width="1.0"/>
<text x="38.75" y="908.25" font-size="4.2" text-anchor="middle" font-weight="bold" fill="#262626" stroke="#262626" stroke-width="0.28" dominant-baseline="central">10</text>
<line x1="51.50" y1="903.25" x2="51.50" y2="904.75" stroke="#555" stroke-width="1.0"/>
<text x="51.25" y="908.25" font-size="4.2" text-anchor="middle" font-weight="bold" fill="#262626" stroke="#262626" stroke-width="0.28" dominant-baseline="central">20</text>
<line x1="62.50" y1="903.25" x2="62.50" y2="904.75" stroke="#555" stroke-width="1.0"/>
<text x="62.50" y="908.25" font-size="4.2" text-anchor="middle" font-weight="bold" fill="#262626" stroke="#262626" stroke-width="0.28" dominant-baseline="central">30</text>
<line x1="74.50" y1="903.25" x2="74.50" y2="904.75" stroke="#555" stroke-width="1.0"/>
<text x="74.50" y="908.25" font-size="4.2" text-anchor="middle" font-weight="bold" fill="#262626" stroke="#262626" stroke-width="0.28" dominant-baseline="central">60</text>
<line x1="89.50" y1="903.25" x2="89.50" y2="904.75" stroke="#555" stroke-width="1.0"/>
<text x="89.50" y="908.25" font-size="4.2" text-anchor="middle" font-weight="bold" fill="#262626" stroke="#262626" stroke-width="0.28" dominant-baseline="central">80</text>
<line x1="106.50" y1="903.25" x2="106.50" y2="904.75" stroke="#555" stroke-width="1.0"/>
<text x="106.25" y="908.25" font-size="4.2" text-anchor="middle" font-weight="bold" fill="#262626" stroke="#262626" stroke-width="0.28" dominant-baseline="central">100</text>
<line x1="24.75" y1="867.50" x2="107.00" y2="867.50" stroke="#bdbdbd" stroke-width="0.8"/>
<line x1="24.75" y1="897.00" x2="107.00" y2="897.00" stroke="#bcc4d8" stroke-width="0.8"/>
<text x="67.00" y="847.50" font-size="4.5" text-anchor="middle" font-weight="normal" fill="#333" stroke="#333" stroke-width="0.17" dominant-baseline="central" stroke-opacity="0.45">Pt007</text>
<text x="63.70" y="913.00" font-size="4.8" text-anchor="middle" font-weight="bold" fill="#262626" stroke="#262626" stroke-width="0.28" dominant-baseline="central" textLength="33.8" lengthAdjust="spacingAndGlyphs">Time point (day)</text>
<text x="13.60" y="877.38" font-size="4.6" font-weight="bold" text-anchor="middle" fill="#262626" stroke="#262626" stroke-width="0.28" dominant-baseline="central" transform="rotate(-90 13.60 877.38)">CD16<tspan font-size="3" dy="-1.5">+</tspan><tspan dy="1.5"> CD56</tspan><tspan font-size="3" dy="-1.5">+</tspan><tspan dy="1.5"> % (NK cells)</tspan></text>
<polyline points="24.25,885.00 27.50,886.25 30.50,869.25 32.50,870.00 33.75,885.00 35.00,896.25 38.75,903.00 43.75,903.00 51.25,902.50 60.75,900.00 74.50,871.25 96.75,857.00" fill="none" stroke="#f2845a" stroke-width="0.875" stroke-linejoin="round"/>
<circle cx="24.25" cy="885.00" r="1.0924999999999998" fill="#c16948"/>
<circle cx="27.50" cy="886.25" r="1.0924999999999998" fill="#c16948"/>
<circle cx="30.50" cy="869.25" r="1.0924999999999998" fill="#c16948"/>
<circle cx="32.50" cy="870.00" r="1.0924999999999998" fill="#c16948"/>
<circle cx="33.75" cy="885.00" r="1.0924999999999998" fill="#c16948"/>
<circle cx="35.00" cy="896.25" r="1.0924999999999998" fill="#c16948"/>
<circle cx="38.75" cy="903.00" r="1.0924999999999998" fill="#c16948"/>
<circle cx="43.75" cy="903.00" r="1.0924999999999998" fill="#c16948"/>
<circle cx="51.25" cy="902.50" r="1.0924999999999998" fill="#c16948"/>
<circle cx="60.75" cy="900.00" r="1.0924999999999998" fill="#c16948"/>
<circle cx="74.50" cy="871.25" r="1.0924999999999998" fill="#c16948"/>
<circle cx="96.75" cy="857.00" r="1.0924999999999998" fill="#c16948"/>
<rect x="64.30" y="850.50" width="1.40" height="52.15" fill="#fff"/>
<line x1="64.30" y1="867.50" x2="65.70" y2="867.50" stroke="#bdbdbd" stroke-width="0.8"/>
<line x1="64.30" y1="897.00" x2="65.70" y2="897.00" stroke="#bcc4d8" stroke-width="0.8"/>
<line x1="143.50" y1="850.50" x2="143.50" y2="903.00" stroke="#555" stroke-width="1.0"/>
<line x1="141.50" y1="850.50" x2="143.00" y2="850.50" stroke="#555" stroke-width="1.0"/>
<text x="140.80" y="850.50" font-size="4.2" text-anchor="end" font-weight="bold" fill="#262626" stroke="#262626" stroke-width="0.28" dominant-baseline="central">6</text>
<line x1="141.50" y1="868.50" x2="143.00" y2="868.50" stroke="#555" stroke-width="1.0"/>
<text x="140.80" y="868.00" font-size="4.2" text-anchor="end" font-weight="bold" fill="#262626" stroke="#262626" stroke-width="0.28" dominant-baseline="central">4</text>
<line x1="141.50" y1="885.50" x2="143.00" y2="885.50" stroke="#555" stroke-width="1.0"/>
<text x="140.80" y="885.50" font-size="4.2" text-anchor="end" font-weight="bold" fill="#262626" stroke="#262626" stroke-width="0.28" dominant-baseline="central">2</text>
<line x1="141.50" y1="903.50" x2="143.00" y2="903.50" stroke="#555" stroke-width="1.0"/>
<text x="140.80" y="903.00" font-size="4.2" text-anchor="end" font-weight="bold" fill="#262626" stroke="#262626" stroke-width="0.28" dominant-baseline="central">0</text>
<line x1="143.00" y1="903.50" x2="222.00" y2="903.50" stroke="#555" stroke-width="1.0"/>
<line x1="145.50" y1="903.00" x2="145.50" y2="904.50" stroke="#555" stroke-width="1.0"/>
<text x="145.00" y="908.00" font-size="4.2" text-anchor="middle" font-weight="bold" fill="#262626" stroke="#262626" stroke-width="0.28" dominant-baseline="central">0</text>
<line x1="157.50" y1="903.00" x2="157.50" y2="904.50" stroke="#555" stroke-width="1.0"/>
<text x="157.50" y="908.00" font-size="4.2" text-anchor="middle" font-weight="bold" fill="#262626" stroke="#262626" stroke-width="0.28" dominant-baseline="central">5</text>
<line x1="170.50" y1="903.00" x2="170.50" y2="904.50" stroke="#555" stroke-width="1.0"/>
<text x="170.00" y="908.00" font-size="4.2" text-anchor="middle" font-weight="bold" fill="#262626" stroke="#262626" stroke-width="0.28" dominant-baseline="central">10</text>
<line x1="182.50" y1="903.00" x2="182.50" y2="904.50" stroke="#555" stroke-width="1.0"/>
<text x="182.50" y="908.00" font-size="4.2" text-anchor="middle" font-weight="bold" fill="#262626" stroke="#262626" stroke-width="0.28" dominant-baseline="central">15</text>
<line x1="195.50" y1="903.00" x2="195.50" y2="904.50" stroke="#555" stroke-width="1.0"/>
<text x="195.00" y="908.00" font-size="4.2" text-anchor="middle" font-weight="bold" fill="#262626" stroke="#262626" stroke-width="0.28" dominant-baseline="central">20</text>
<line x1="208.50" y1="903.00" x2="208.50" y2="904.50" stroke="#555" stroke-width="1.0"/>
<text x="208.75" y="908.00" font-size="4.2" text-anchor="middle" font-weight="bold" fill="#262626" stroke="#262626" stroke-width="0.28" dominant-baseline="central">25</text>
<line x1="221.50" y1="903.00" x2="221.50" y2="904.50" stroke="#555" stroke-width="1.0"/>
<text x="221.25" y="908.00" font-size="4.2" text-anchor="middle" font-weight="bold" fill="#262626" stroke="#262626" stroke-width="0.28" dominant-baseline="central">30</text>
<line x1="143.50" y1="859.25" x2="222.00" y2="859.25" stroke="#c8c8c8" stroke-width="0.8"/>
<text x="181.25" y="847.50" font-size="4.5" text-anchor="middle" font-weight="normal" fill="#333" stroke="#333" stroke-width="0.17" dominant-baseline="central" stroke-opacity="0.45">Pt008</text>
<text x="179.40" y="913.00" font-size="4.8" text-anchor="middle" font-weight="bold" fill="#262626" stroke="#262626" stroke-width="0.28" dominant-baseline="central" textLength="33.8" lengthAdjust="spacingAndGlyphs">Time point (day)</text>
<text x="131.20" y="877.25" font-size="4.6" font-weight="bold" text-anchor="middle" fill="#262626" stroke="#262626" stroke-width="0.28" dominant-baseline="central" transform="rotate(-90 131.20 877.25)">CD16<tspan font-size="3" dy="-1.5">+</tspan><tspan dy="1.5"> CD56</tspan><tspan font-size="3" dy="-1.5">+</tspan><tspan dy="1.5"> % (NK cells)</tspan></text>
<polyline points="143.00,872.50 148.00,858.00 157.50,903.00 162.50,903.00 170.00,902.80 182.50,903.00 195.00,903.00 212.00,903.00" fill="none" stroke="#f2845a" stroke-width="0.875" stroke-linejoin="round"/>
<circle cx="143.00" cy="872.50" r="1.0924999999999998" fill="#c16948"/>
<circle cx="148.00" cy="858.00" r="1.0924999999999998" fill="#c16948"/>
<circle cx="157.50" cy="903.00" r="1.0924999999999998" fill="#c16948"/>
<circle cx="162.50" cy="903.00" r="1.0924999999999998" fill="#c16948"/>
<circle cx="170.00" cy="902.80" r="1.0924999999999998" fill="#c16948"/>
<circle cx="182.50" cy="903.00" r="1.0924999999999998" fill="#c16948"/>
<circle cx="195.00" cy="903.00" r="1.0924999999999998" fill="#c16948"/>
<circle cx="212.00" cy="903.00" r="1.0924999999999998" fill="#c16948"/>
<text x="263.80" y="4.60" font-size="7.2" text-anchor="middle" font-weight="bold" fill="#111" stroke="#111" stroke-width="0.28" dominant-baseline="central">F</text>
<line x1="287.50" y1="11.25" x2="287.50" y2="67.50" stroke="#555" stroke-width="1.0"/>
<line x1="285.50" y1="11.50" x2="287.00" y2="11.50" stroke="#555" stroke-width="1.0"/>
<text x="284.80" y="11.25" font-size="4.2" text-anchor="end" font-weight="bold" fill="#262626" stroke="#262626" stroke-width="0.28" dominant-baseline="central">100</text>
<line x1="285.50" y1="23.50" x2="287.00" y2="23.50" stroke="#555" stroke-width="1.0"/>
<text x="284.80" y="23.00" font-size="4.2" text-anchor="end" font-weight="bold" fill="#262626" stroke="#262626" stroke-width="0.28" dominant-baseline="central">90</text>
<line x1="285.50" y1="35.50" x2="287.00" y2="35.50" stroke="#555" stroke-width="1.0"/>
<text x="284.80" y="35.00" font-size="4.2" text-anchor="end" font-weight="bold" fill="#262626" stroke="#262626" stroke-width="0.28" dominant-baseline="central">80</text>
<line x1="285.50" y1="46.50" x2="287.00" y2="46.50" stroke="#555" stroke-width="1.0"/>
<text x="284.80" y="46.25" font-size="4.2" text-anchor="end" font-weight="bold" fill="#262626" stroke="#262626" stroke-width="0.28" dominant-baseline="central">70</text>
<line x1="285.50" y1="57.50" x2="287.00" y2="57.50" stroke="#555" stroke-width="1.0"/>
<text x="284.80" y="57.00" font-size="4.2" text-anchor="end" font-weight="bold" fill="#262626" stroke="#262626" stroke-width="0.28" dominant-baseline="central">60</text>
<line x1="285.50" y1="67.50" x2="287.00" y2="67.50" stroke="#555" stroke-width="1.0"/>
<text x="284.80" y="67.50" font-size="4.2" text-anchor="end" font-weight="bold" fill="#262626" stroke="#262626" stroke-width="0.28" dominant-baseline="central">50</text>
<line x1="287.00" y1="67.50" x2="372.50" y2="67.50" stroke="#555" stroke-width="1.0"/>
<line x1="287.50" y1="67.50" x2="287.50" y2="69.00" stroke="#555" stroke-width="1.0"/>
<text x="287.50" y="72.50" font-size="4.2" text-anchor="middle" font-weight="bold" fill="#262626" stroke="#262626" stroke-width="0.28" dominant-baseline="central">0</text>
<line x1="308.50" y1="67.50" x2="308.50" y2="69.00" stroke="#555" stroke-width="1.0"/>
<text x="308.75" y="72.50" font-size="4.2" text-anchor="middle" font-weight="bold" fill="#262626" stroke="#262626" stroke-width="0.28" dominant-baseline="central">50</text>
<line x1="330.50" y1="67.50" x2="330.50" y2="69.00" stroke="#555" stroke-width="1.0"/>
<text x="330.00" y="72.50" font-size="4.2" text-anchor="middle" font-weight="bold" fill="#262626" stroke="#262626" stroke-width="0.28" dominant-baseline="central">100</text>
<line x1="351.50" y1="67.50" x2="351.50" y2="69.00" stroke="#555" stroke-width="1.0"/>
<text x="351.25" y="72.50" font-size="4.2" text-anchor="middle" font-weight="bold" fill="#262626" stroke="#262626" stroke-width="0.28" dominant-baseline="central">150</text>
<line x1="372.50" y1="67.50" x2="372.50" y2="69.00" stroke="#555" stroke-width="1.0"/>
<text x="372.50" y="72.50" font-size="4.2" text-anchor="middle" font-weight="bold" fill="#262626" stroke="#262626" stroke-width="0.28" dominant-baseline="central">200</text>
<line x1="287.50" y1="30.00" x2="372.50" y2="30.00" stroke="#cfcfcf" stroke-width="0.8"/>
<line x1="287.50" y1="62.00" x2="372.50" y2="62.00" stroke="#cfcfcf" stroke-width="0.8"/>
<text x="326.25" y="4.30" font-size="4.5" text-anchor="middle" font-weight="normal" fill="#333" stroke="#333" stroke-width="0.17" dominant-baseline="central" stroke-opacity="0.45">Pt003</text>
<text x="329.00" y="80.50" font-size="4.9" text-anchor="middle" font-weight="bold" fill="#262626" stroke="#262626" stroke-width="0.28" dominant-baseline="central">Days after CAR T infusion</text>
<text x="271.30" y="39.38" font-size="5.0" font-weight="bold" text-anchor="middle" fill="#262626" stroke="#262626" stroke-width="0.28" dominant-baseline="central" transform="rotate(-90 271.30 39.38)">CD3<tspan font-size="3" dy="-1.5">+</tspan><tspan dy="1.5"> T cells/lym (%)</tspan></text>
<polyline points="287.50,24.25 290.00,29.50 299.50,18.00 313.00,40.75 325.50,52.00 363.25,55.00" fill="none" stroke="#3838c4" stroke-width="1.0" stroke-linejoin="round"/>
<circle cx="287.50" cy="24.25" r="1.265" fill="#2c2c9c"/>
<circle cx="290.00" cy="29.50" r="1.265" fill="#2c2c9c"/>
<circle cx="299.50" cy="18.00" r="1.265" fill="#2c2c9c"/>
<circle cx="313.00" cy="40.75" r="1.265" fill="#2c2c9c"/>
<circle cx="325.50" cy="52.00" r="1.265" fill="#2c2c9c"/>
<circle cx="363.25" cy="55.00" r="1.265" fill="#2c2c9c"/>
<line x1="405.50" y1="12.00" x2="405.50" y2="68.70" stroke="#555" stroke-width="1.0"/>
<line x1="403.50" y1="12.50" x2="405.00" y2="12.50" stroke="#555" stroke-width="1.0"/>
<text x="402.80" y="12.00" font-size="4.2" text-anchor="end" font-weight="bold" fill="#262626" stroke="#262626" stroke-width="0.28" dominant-baseline="central">100</text>
<line x1="403.50" y1="23.50" x2="405.00" y2="23.50" stroke="#555" stroke-width="1.0"/>
<text x="402.80" y="23.40" font-size="4.2" text-anchor="end" font-weight="bold" fill="#262626" stroke="#262626" stroke-width="0.28" dominant-baseline="central">90</text>
<line x1="403.50" y1="34.50" x2="405.00" y2="34.50" stroke="#555" stroke-width="1.0"/>
<text x="402.80" y="34.70" font-size="4.2" text-anchor="end" font-weight="bold" fill="#262626" stroke="#262626" stroke-width="0.28" dominant-baseline="central">80</text>
<line x1="403.50" y1="46.50" x2="405.00" y2="46.50" stroke="#555" stroke-width="1.0"/>
<text x="402.80" y="46.00" font-size="4.2" text-anchor="end" font-weight="bold" fill="#262626" stroke="#262626" stroke-width="0.28" dominant-baseline="central">70</text>
<line x1="403.50" y1="57.50" x2="405.00" y2="57.50" stroke="#555" stroke-width="1.0"/>
<text x="402.80" y="57.40" font-size="4.2" text-anchor="end" font-weight="bold" fill="#262626" stroke="#262626" stroke-width="0.28" dominant-baseline="central">60</text>
<line x1="403.50" y1="68.50" x2="405.00" y2="68.50" stroke="#555" stroke-width="1.0"/>
<text x="402.80" y="68.70" font-size="4.2" text-anchor="end" font-weight="bold" fill="#262626" stroke="#262626" stroke-width="0.28" dominant-baseline="central">50</text>
<line x1="405.00" y1="68.50" x2="489.00" y2="68.50" stroke="#555" stroke-width="1.0"/>
<line x1="405.50" y1="68.70" x2="405.50" y2="70.20" stroke="#555" stroke-width="1.0"/>
<text x="405.00" y="73.70" font-size="4.2" text-anchor="middle" font-weight="bold" fill="#262626" stroke="#262626" stroke-width="0.28" dominant-baseline="central">0</text>
<line x1="426.50" y1="68.70" x2="426.50" y2="70.20" stroke="#555" stroke-width="1.0"/>
<text x="426.00" y="73.70" font-size="4.2" text-anchor="middle" font-weight="bold" fill="#262626" stroke="#262626" stroke-width="0.28" dominant-baseline="central">100</text>
<line x1="447.50" y1="68.70" x2="447.50" y2="70.20" stroke="#555" stroke-width="1.0"/>
<text x="447.00" y="73.70" font-size="4.2" text-anchor="middle" font-weight="bold" fill="#262626" stroke="#262626" stroke-width="0.28" dominant-baseline="central">200</text>
<line x1="468.50" y1="68.70" x2="468.50" y2="70.20" stroke="#555" stroke-width="1.0"/>
<text x="468.00" y="73.70" font-size="4.2" text-anchor="middle" font-weight="bold" fill="#262626" stroke="#262626" stroke-width="0.28" dominant-baseline="central">300</text>
<line x1="489.50" y1="68.70" x2="489.50" y2="70.20" stroke="#555" stroke-width="1.0"/>
<text x="489.00" y="73.70" font-size="4.2" text-anchor="middle" font-weight="bold" fill="#262626" stroke="#262626" stroke-width="0.28" dominant-baseline="central">400</text>
<line x1="405.50" y1="30.40" x2="489.00" y2="30.40" stroke="#cfcfcf" stroke-width="0.8"/>
<line x1="405.50" y1="62.70" x2="489.00" y2="62.70" stroke="#cfcfcf" stroke-width="0.8"/>
<text x="446.50" y="3.80" font-size="4.5" text-anchor="middle" font-weight="normal" fill="#333" stroke="#333" stroke-width="0.17" dominant-baseline="central" stroke-opacity="0.45">Pt004</text>
<text x="446.00" y="80.00" font-size="4.9" text-anchor="middle" font-weight="bold" fill="#262626" stroke="#262626" stroke-width="0.28" dominant-baseline="central">Days after CAR T infusion</text>
<text x="391.20" y="40.35" font-size="5.0" font-weight="bold" text-anchor="middle" fill="#262626" stroke="#262626" stroke-width="0.28" dominant-baseline="central" transform="rotate(-90 391.20 40.35)">CD3<tspan font-size="3" dy="-1.5">+</tspan><tspan dy="1.5"> T cells/lym (%)</tspan></text>
<polyline points="405.00,24.20 405.50,23.00 406.00,20.50 407.70,14.00 410.00,13.00 412.30,14.80 418.50,17.00 424.40,23.70 481.80,14.00" fill="none" stroke="#3838c4" stroke-width="1.0" stroke-linejoin="round"/>
<circle cx="405.00" cy="24.20" r="1.265" fill="#2c2c9c"/>
<circle cx="405.50" cy="23.00" r="1.265" fill="#2c2c9c"/>
<circle cx="406.00" cy="20.50" r="1.265" fill="#2c2c9c"/>
<circle cx="407.70" cy="14.00" r="1.265" fill="#2c2c9c"/>
<circle cx="410.00" cy="13.00" r="1.265" fill="#2c2c9c"/>
<circle cx="412.30" cy="14.80" r="1.265" fill="#2c2c9c"/>
<circle cx="418.50" cy="17.00" r="1.265" fill="#2c2c9c"/>
<circle cx="424.40" cy="23.70" r="1.265" fill="#2c2c9c"/>
<circle cx="481.80" cy="14.00" r="1.265" fill="#2c2c9c"/>
<line x1="289.50" y1="95.50" x2="289.50" y2="152.00" stroke="#555" stroke-width="1.0"/>
<line x1="288.00" y1="95.50" x2="289.50" y2="95.50" stroke="#555" stroke-width="1.0"/>
<text x="287.30" y="95.50" font-size="4.2" text-anchor="end" font-weight="bold" fill="#262626" stroke="#262626" stroke-width="0.28" dominant-baseline="central">100</text>
<line x1="288.00" y1="107.50" x2="289.50" y2="107.50" stroke="#555" stroke-width="1.0"/>
<text x="287.30" y="107.00" font-size="4.2" text-anchor="end" font-weight="bold" fill="#262626" stroke="#262626" stroke-width="0.28" dominant-baseline="central">90</text>
<line x1="288.00" y1="117.50" x2="289.50" y2="117.50" stroke="#555" stroke-width="1.0"/>
<text x="287.30" y="117.50" font-size="4.2" text-anchor="end" font-weight="bold" fill="#262626" stroke="#262626" stroke-width="0.28" dominant-baseline="central">80</text>
<line x1="288.00" y1="128.50" x2="289.50" y2="128.50" stroke="#555" stroke-width="1.0"/>
<text x="287.30" y="128.75" font-size="4.2" text-anchor="end" font-weight="bold" fill="#262626" stroke="#262626" stroke-width="0.28" dominant-baseline="central">70</text>
<line x1="288.00" y1="140.50" x2="289.50" y2="140.50" stroke="#555" stroke-width="1.0"/>
<text x="287.30" y="140.50" font-size="4.2" text-anchor="end" font-weight="bold" fill="#262626" stroke="#262626" stroke-width="0.28" dominant-baseline="central">60</text>
<line x1="288.00" y1="152.50" x2="289.50" y2="152.50" stroke="#555" stroke-width="1.0"/>
<text x="287.30" y="152.00" font-size="4.2" text-anchor="end" font-weight="bold" fill="#262626" stroke="#262626" stroke-width="0.28" dominant-baseline="central">50</text>
<line x1="289.50" y1="152.50" x2="372.00" y2="152.50" stroke="#555" stroke-width="1.0"/>
<line x1="289.50" y1="152.00" x2="289.50" y2="153.50" stroke="#555" stroke-width="1.0"/>
<text x="289.50" y="157.00" font-size="4.2" text-anchor="middle" font-weight="bold" fill="#262626" stroke="#262626" stroke-width="0.28" dominant-baseline="central">0</text>
<line x1="298.50" y1="152.00" x2="298.50" y2="153.50" stroke="#555" stroke-width="1.0"/>
<text x="298.25" y="157.00" font-size="4.2" text-anchor="middle" font-weight="bold" fill="#262626" stroke="#262626" stroke-width="0.28" dominant-baseline="central">10</text>
<line x1="307.50" y1="152.00" x2="307.50" y2="153.50" stroke="#555" stroke-width="1.0"/>
<text x="307.00" y="157.00" font-size="4.2" text-anchor="middle" font-weight="bold" fill="#262626" stroke="#262626" stroke-width="0.28" dominant-baseline="central">20</text>
<line x1="315.50" y1="152.00" x2="315.50" y2="153.50" stroke="#555" stroke-width="1.0"/>
<text x="315.75" y="157.00" font-size="4.2" text-anchor="middle" font-weight="bold" fill="#262626" stroke="#262626" stroke-width="0.28" dominant-baseline="central">30</text>
<line x1="324.50" y1="152.00" x2="324.50" y2="153.50" stroke="#555" stroke-width="1.0"/>
<text x="324.50" y="157.00" font-size="4.2" text-anchor="middle" font-weight="bold" fill="#262626" stroke="#262626" stroke-width="0.28" dominant-baseline="central">40</text>
<line x1="333.50" y1="152.00" x2="333.50" y2="153.50" stroke="#555" stroke-width="1.0"/>
<text x="333.25" y="157.00" font-size="4.2" text-anchor="middle" font-weight="bold" fill="#262626" stroke="#262626" stroke-width="0.28" dominant-baseline="central">50</text>
<line x1="342.50" y1="152.00" x2="342.50" y2="153.50" stroke="#555" stroke-width="1.0"/>
<text x="342.00" y="157.00" font-size="4.2" text-anchor="middle" font-weight="bold" fill="#262626" stroke="#262626" stroke-width="0.28" dominant-baseline="central">60</text>
<line x1="350.50" y1="152.00" x2="350.50" y2="153.50" stroke="#555" stroke-width="1.0"/>
<text x="350.75" y="157.00" font-size="4.2" text-anchor="middle" font-weight="bold" fill="#262626" stroke="#262626" stroke-width="0.28" dominant-baseline="central">70</text>
<line x1="359.50" y1="152.00" x2="359.50" y2="153.50" stroke="#555" stroke-width="1.0"/>
<text x="359.50" y="157.00" font-size="4.2" text-anchor="middle" font-weight="bold" fill="#262626" stroke="#262626" stroke-width="0.28" dominant-baseline="central">80</text>
<line x1="368.50" y1="152.00" x2="368.50" y2="153.50" stroke="#555" stroke-width="1.0"/>
<text x="368.25" y="157.00" font-size="4.2" text-anchor="middle" font-weight="bold" fill="#262626" stroke="#262626" stroke-width="0.28" dominant-baseline="central">90</text>
<line x1="290.00" y1="113.75" x2="372.00" y2="113.75" stroke="#cfcfcf" stroke-width="0.8"/>
<line x1="290.00" y1="146.25" x2="372.00" y2="146.25" stroke="#cfcfcf" stroke-width="0.8"/>
<text x="327.50" y="89.50" font-size="4.5" text-anchor="middle" font-weight="normal" fill="#333" stroke="#333" stroke-width="0.17" dominant-baseline="central" stroke-opacity="0.45">Pt005</text>
<text x="330.00" y="162.00" font-size="4.9" text-anchor="middle" font-weight="bold" fill="#262626" stroke="#262626" stroke-width="0.28" dominant-baseline="central">Days after CAR T infusion</text>
<text x="272.00" y="123.75" font-size="5.0" font-weight="bold" text-anchor="middle" fill="#262626" stroke="#262626" stroke-width="0.28" dominant-baseline="central" transform="rotate(-90 272.00 123.75)">CD3<tspan font-size="3" dy="-1.5">+</tspan><tspan dy="1.5"> T cells/lym (%)</tspan></text>
<polyline points="289.50,106.75 291.00,106.75 292.50,108.75 294.50,113.75 296.50,113.75 298.75,96.25 300.50,96.00 302.00,96.00 307.50,96.50 308.50,96.50 314.00,102.50 342.00,111.25 368.25,108.25" fill="none" stroke="#3838c4" stroke-width="1.0" stroke-linejoin="round"/>
<circle cx="289.50" cy="106.75" r="1.265" fill="#2c2c9c"/>
<circle cx="291.00" cy="106.75" r="1.265" fill="#2c2c9c"/>
<circle cx="292.50" cy="108.75" r="1.265" fill="#2c2c9c"/>
<circle cx="294.50" cy="113.75" r="1.265" fill="#2c2c9c"/>
<circle cx="296.50" cy="113.75" r="1.265" fill="#2c2c9c"/>
<circle cx="298.75" cy="96.25" r="1.265" fill="#2c2c9c"/>
<circle cx="300.50" cy="96.00" r="1.265" fill="#2c2c9c"/>
<circle cx="302.00" cy="96.00" r="1.265" fill="#2c2c9c"/>
<circle cx="307.50" cy="96.50" r="1.265" fill="#2c2c9c"/>
<circle cx="308.50" cy="96.50" r="1.265" fill="#2c2c9c"/>
<circle cx="314.00" cy="102.50" r="1.265" fill="#2c2c9c"/>
<circle cx="342.00" cy="111.25" r="1.265" fill="#2c2c9c"/>
<circle cx="368.25" cy="108.25" r="1.265" fill="#2c2c9c"/>
<line x1="407.50" y1="94.60" x2="407.50" y2="150.40" stroke="#555" stroke-width="1.0"/>
<line x1="406.20" y1="94.50" x2="407.70" y2="94.50" stroke="#555" stroke-width="1.0"/>
<text x="405.50" y="94.60" font-size="4.2" text-anchor="end" font-weight="bold" fill="#262626" stroke="#262626" stroke-width="0.28" dominant-baseline="central">100</text>
<line x1="406.20" y1="113.50" x2="407.70" y2="113.50" stroke="#555" stroke-width="1.0"/>
<text x="405.50" y="113.30" font-size="4.2" text-anchor="end" font-weight="bold" fill="#262626" stroke="#262626" stroke-width="0.28" dominant-baseline="central">80</text>
<line x1="406.20" y1="131.50" x2="407.70" y2="131.50" stroke="#555" stroke-width="1.0"/>
<text x="405.50" y="131.70" font-size="4.2" text-anchor="end" font-weight="bold" fill="#262626" stroke="#262626" stroke-width="0.28" dominant-baseline="central">60</text>
<line x1="406.20" y1="150.50" x2="407.70" y2="150.50" stroke="#555" stroke-width="1.0"/>
<text x="405.50" y="150.40" font-size="4.2" text-anchor="end" font-weight="bold" fill="#262626" stroke="#262626" stroke-width="0.28" dominant-baseline="central">40</text>
<line x1="407.70" y1="150.50" x2="492.00" y2="150.50" stroke="#555" stroke-width="1.0"/>
<line x1="408.50" y1="150.40" x2="408.50" y2="151.90" stroke="#555" stroke-width="1.0"/>
<text x="408.00" y="155.40" font-size="4.2" text-anchor="middle" font-weight="bold" fill="#262626" stroke="#262626" stroke-width="0.28" dominant-baseline="central">0</text>
<line x1="416.50" y1="150.40" x2="416.50" y2="151.90" stroke="#555" stroke-width="1.0"/>
<text x="416.39" y="155.40" font-size="4.2" text-anchor="middle" font-weight="bold" fill="#262626" stroke="#262626" stroke-width="0.28" dominant-baseline="central">20</text>
<line x1="424.50" y1="150.40" x2="424.50" y2="151.90" stroke="#555" stroke-width="1.0"/>
<text x="424.78" y="155.40" font-size="4.2" text-anchor="middle" font-weight="bold" fill="#262626" stroke="#262626" stroke-width="0.28" dominant-baseline="central">40</text>
<line x1="433.50" y1="150.40" x2="433.50" y2="151.90" stroke="#555" stroke-width="1.0"/>
<text x="433.17" y="155.40" font-size="4.2" text-anchor="middle" font-weight="bold" fill="#262626" stroke="#262626" stroke-width="0.28" dominant-baseline="central">60</text>
<line x1="441.50" y1="150.40" x2="441.50" y2="151.90" stroke="#555" stroke-width="1.0"/>
<text x="441.56" y="155.40" font-size="4.2" text-anchor="middle" font-weight="bold" fill="#262626" stroke="#262626" stroke-width="0.28" dominant-baseline="central">80</text>
<line x1="449.50" y1="150.40" x2="449.50" y2="151.90" stroke="#555" stroke-width="1.0"/>
<text x="449.94" y="155.40" font-size="4.2" text-anchor="middle" font-weight="bold" fill="#262626" stroke="#262626" stroke-width="0.28" dominant-baseline="central">100</text>
<line x1="458.50" y1="150.40" x2="458.50" y2="151.90" stroke="#555" stroke-width="1.0"/>
<text x="458.33" y="155.40" font-size="4.2" text-anchor="middle" font-weight="bold" fill="#262626" stroke="#262626" stroke-width="0.28" dominant-baseline="central">120</text>
<line x1="466.50" y1="150.40" x2="466.50" y2="151.90" stroke="#555" stroke-width="1.0"/>
<text x="466.72" y="155.40" font-size="4.2" text-anchor="middle" font-weight="bold" fill="#262626" stroke="#262626" stroke-width="0.28" dominant-baseline="central">140</text>
<line x1="475.50" y1="150.40" x2="475.50" y2="151.90" stroke="#555" stroke-width="1.0"/>
<text x="475.11" y="155.40" font-size="4.2" text-anchor="middle" font-weight="bold" fill="#262626" stroke="#262626" stroke-width="0.28" dominant-baseline="central">160</text>
<line x1="483.50" y1="150.40" x2="483.50" y2="151.90" stroke="#555" stroke-width="1.0"/>
<text x="483.50" y="155.40" font-size="4.2" text-anchor="middle" font-weight="bold" fill="#262626" stroke="#262626" stroke-width="0.28" dominant-baseline="central">180</text>
<line x1="491.50" y1="150.40" x2="491.50" y2="151.90" stroke="#555" stroke-width="1.0"/>
<text x="491.89" y="155.40" font-size="4.2" text-anchor="middle" font-weight="bold" fill="#262626" stroke="#262626" stroke-width="0.28" dominant-baseline="central">200</text>
<line x1="408.20" y1="109.40" x2="492.00" y2="109.40" stroke="#cfcfcf" stroke-width="0.8"/>
<line x1="408.20" y1="136.30" x2="492.00" y2="136.30" stroke="#cfcfcf" stroke-width="0.8"/>
<text x="449.40" y="90.20" font-size="4.5" text-anchor="middle" font-weight="normal" fill="#333" stroke="#333" stroke-width="0.17" dominant-baseline="central" stroke-opacity="0.45">Pt007</text>
<text x="448.00" y="162.30" font-size="4.9" text-anchor="middle" font-weight="bold" fill="#262626" stroke="#262626" stroke-width="0.28" dominant-baseline="central">Days after CAR T infusion</text>
<text x="392.70" y="122.50" font-size="5.0" font-weight="bold" text-anchor="middle" fill="#262626" stroke="#262626" stroke-width="0.28" dominant-baseline="central" transform="rotate(-90 392.70 122.50)">CD3<tspan font-size="3" dy="-1.5">+</tspan><tspan dy="1.5"> T cells/lym (%)</tspan></text>
<polyline points="408.10,112.90 408.50,109.60 409.00,120.60 410.00,120.20 410.40,112.90 411.00,101.30 411.90,95.00 414.20,95.00 416.70,95.20 420.20,96.90 433.50,117.30 445.60,129.80 483.50,134.00" fill="none" stroke="#3838c4" stroke-width="1.0" stroke-linejoin="round"/>
<circle cx="408.10" cy="112.90" r="1.265" fill="#2c2c9c"/>
<circle cx="408.50" cy="109.60" r="1.265" fill="#2c2c9c"/>
<circle cx="409.00" cy="120.60" r="1.265" fill="#2c2c9c"/>
<circle cx="410.00" cy="120.20" r="1.265" fill="#2c2c9c"/>
<circle cx="410.40" cy="112.90" r="1.265" fill="#2c2c9c"/>
<circle cx="411.00" cy="101.30" r="1.265" fill="#2c2c9c"/>
<circle cx="411.90" cy="95.00" r="1.265" fill="#2c2c9c"/>
<circle cx="414.20" cy="95.00" r="1.265" fill="#2c2c9c"/>
<circle cx="416.70" cy="95.20" r="1.265" fill="#2c2c9c"/>
<circle cx="420.20" cy="96.90" r="1.265" fill="#2c2c9c"/>
<circle cx="433.50" cy="117.30" r="1.265" fill="#2c2c9c"/>
<circle cx="445.60" cy="129.80" r="1.265" fill="#2c2c9c"/>
<circle cx="483.50" cy="134.00" r="1.265" fill="#2c2c9c"/>
<line x1="288.50" y1="175.50" x2="288.50" y2="231.25" stroke="#555" stroke-width="1.0"/>
<line x1="286.50" y1="175.50" x2="288.00" y2="175.50" stroke="#555" stroke-width="1.0"/>
<text x="285.80" y="175.50" font-size="4.2" text-anchor="end" font-weight="bold" fill="#262626" stroke="#262626" stroke-width="0.28" dominant-baseline="central">100</text>
<line x1="286.50" y1="187.50" x2="288.00" y2="187.50" stroke="#555" stroke-width="1.0"/>
<text x="285.80" y="187.00" font-size="4.2" text-anchor="end" font-weight="bold" fill="#262626" stroke="#262626" stroke-width="0.28" dominant-baseline="central">90</text>
<line x1="286.50" y1="198.50" x2="288.00" y2="198.50" stroke="#555" stroke-width="1.0"/>
<text x="285.80" y="198.00" font-size="4.2" text-anchor="end" font-weight="bold" fill="#262626" stroke="#262626" stroke-width="0.28" dominant-baseline="central">80</text>
<line x1="286.50" y1="208.50" x2="288.00" y2="208.50" stroke="#555" stroke-width="1.0"/>
<text x="285.80" y="208.75" font-size="4.2" text-anchor="end" font-weight="bold" fill="#262626" stroke="#262626" stroke-width="0.28" dominant-baseline="central">70</text>
<line x1="286.50" y1="220.50" x2="288.00" y2="220.50" stroke="#555" stroke-width="1.0"/>
<text x="285.80" y="220.00" font-size="4.2" text-anchor="end" font-weight="bold" fill="#262626" stroke="#262626" stroke-width="0.28" dominant-baseline="central">60</text>
<line x1="286.50" y1="231.50" x2="288.00" y2="231.50" stroke="#555" stroke-width="1.0"/>
<text x="285.80" y="231.25" font-size="4.2" text-anchor="end" font-weight="bold" fill="#262626" stroke="#262626" stroke-width="0.28" dominant-baseline="central">50</text>
<line x1="288.00" y1="231.50" x2="373.00" y2="231.50" stroke="#555" stroke-width="1.0"/>
<line x1="288.50" y1="231.25" x2="288.50" y2="232.75" stroke="#555" stroke-width="1.0"/>
<text x="288.75" y="236.25" font-size="4.2" text-anchor="middle" font-weight="bold" fill="#262626" stroke="#262626" stroke-width="0.28" dominant-baseline="central">0</text>
<line x1="297.50" y1="231.25" x2="297.50" y2="232.75" stroke="#555" stroke-width="1.0"/>
<text x="297.00" y="236.25" font-size="4.2" text-anchor="middle" font-weight="bold" fill="#262626" stroke="#262626" stroke-width="0.28" dominant-baseline="central">10</text>
<line x1="305.50" y1="231.25" x2="305.50" y2="232.75" stroke="#555" stroke-width="1.0"/>
<text x="305.25" y="236.25" font-size="4.2" text-anchor="middle" font-weight="bold" fill="#262626" stroke="#262626" stroke-width="0.28" dominant-baseline="central">20</text>
<line x1="313.50" y1="231.25" x2="313.50" y2="232.75" stroke="#555" stroke-width="1.0"/>
<text x="313.50" y="236.25" font-size="4.2" text-anchor="middle" font-weight="bold" fill="#262626" stroke="#262626" stroke-width="0.28" dominant-baseline="central">30</text>
<line x1="321.50" y1="231.25" x2="321.50" y2="232.75" stroke="#555" stroke-width="1.0"/>
<text x="321.75" y="236.25" font-size="4.2" text-anchor="middle" font-weight="bold" fill="#262626" stroke="#262626" stroke-width="0.28" dominant-baseline="central">40</text>
<line x1="330.50" y1="231.25" x2="330.50" y2="232.75" stroke="#555" stroke-width="1.0"/>
<text x="330.00" y="236.25" font-size="4.2" text-anchor="middle" font-weight="bold" fill="#262626" stroke="#262626" stroke-width="0.28" dominant-baseline="central">50</text>
<line x1="338.50" y1="231.25" x2="338.50" y2="232.75" stroke="#555" stroke-width="1.0"/>
<text x="338.25" y="236.25" font-size="4.2" text-anchor="middle" font-weight="bold" fill="#262626" stroke="#262626" stroke-width="0.28" dominant-baseline="central">60</text>
<line x1="346.50" y1="231.25" x2="346.50" y2="232.75" stroke="#555" stroke-width="1.0"/>
<text x="346.50" y="236.25" font-size="4.2" text-anchor="middle" font-weight="bold" fill="#262626" stroke="#262626" stroke-width="0.28" dominant-baseline="central">70</text>
<line x1="354.50" y1="231.25" x2="354.50" y2="232.75" stroke="#555" stroke-width="1.0"/>
<text x="354.75" y="236.25" font-size="4.2" text-anchor="middle" font-weight="bold" fill="#262626" stroke="#262626" stroke-width="0.28" dominant-baseline="central">80</text>
<line x1="363.50" y1="231.25" x2="363.50" y2="232.75" stroke="#555" stroke-width="1.0"/>
<text x="363.00" y="236.25" font-size="4.2" text-anchor="middle" font-weight="bold" fill="#262626" stroke="#262626" stroke-width="0.28" dominant-baseline="central">90</text>
<line x1="371.50" y1="231.25" x2="371.50" y2="232.75" stroke="#555" stroke-width="1.0"/>
<text x="371.25" y="236.25" font-size="4.2" text-anchor="middle" font-weight="bold" fill="#262626" stroke="#262626" stroke-width="0.28" dominant-baseline="central">100</text>
<line x1="288.50" y1="193.75" x2="373.00" y2="193.75" stroke="#cfcfcf" stroke-width="0.8"/>
<line x1="288.50" y1="225.75" x2="373.00" y2="225.75" stroke="#cfcfcf" stroke-width="0.8"/>
<text x="330.00" y="170.80" font-size="4.5" text-anchor="middle" font-weight="normal" fill="#333" stroke="#333" stroke-width="0.17" dominant-baseline="central" stroke-opacity="0.45">Pt008</text>
<text x="330.00" y="242.00" font-size="4.9" text-anchor="middle" font-weight="bold" fill="#262626" stroke="#262626" stroke-width="0.28" dominant-baseline="central">Days after CAR T infusion</text>
<text x="272.00" y="203.38" font-size="5.0" font-weight="bold" text-anchor="middle" fill="#262626" stroke="#262626" stroke-width="0.28" dominant-baseline="central" transform="rotate(-90 272.00 203.38)">CD3<tspan font-size="3" dy="-1.5">+</tspan><tspan dy="1.5"> T cells/lym (%)</tspan></text>
<polyline points="288.75,181.25 290.00,181.50 291.50,182.50 293.00,183.75 295.00,177.00 297.50,176.00 300.50,176.00 306.50,176.25 311.00,176.25 363.00,183.00" fill="none" stroke="#3838c4" stroke-width="1.0" stroke-linejoin="round"/>
<circle cx="288.75" cy="181.25" r="1.265" fill="#2c2c9c"/>
<circle cx="290.00" cy="181.50" r="1.265" fill="#2c2c9c"/>
<circle cx="291.50" cy="182.50" r="1.265" fill="#2c2c9c"/>
<circle cx="293.00" cy="183.75" r="1.265" fill="#2c2c9c"/>
<circle cx="295.00" cy="177.00" r="1.265" fill="#2c2c9c"/>
<circle cx="297.50" cy="176.00" r="1.265" fill="#2c2c9c"/>
<circle cx="300.50" cy="176.00" r="1.265" fill="#2c2c9c"/>
<circle cx="306.50" cy="176.25" r="1.265" fill="#2c2c9c"/>
<circle cx="311.00" cy="176.25" r="1.265" fill="#2c2c9c"/>
<circle cx="363.00" cy="183.00" r="1.265" fill="#2c2c9c"/>
<text x="266.70" y="271.00" font-size="7.2" text-anchor="middle" font-weight="bold" fill="#111" stroke="#111" stroke-width="0.28" dominant-baseline="central">G</text>
<line x1="287.50" y1="276.80" x2="287.50" y2="333.80" stroke="#555" stroke-width="1.0"/>
<line x1="286.10" y1="276.50" x2="287.60" y2="276.50" stroke="#555" stroke-width="1.0"/>
<text x="285.40" y="276.80" font-size="4.2" text-anchor="end" font-weight="bold" fill="#262626" stroke="#262626" stroke-width="0.28" dominant-baseline="central">3,000</text>
<line x1="286.10" y1="295.50" x2="287.60" y2="295.50" stroke="#555" stroke-width="1.0"/>
<text x="285.40" y="295.70" font-size="4.2" text-anchor="end" font-weight="bold" fill="#262626" stroke="#262626" stroke-width="0.28" dominant-baseline="central">2,000</text>
<line x1="286.10" y1="314.50" x2="287.60" y2="314.50" stroke="#555" stroke-width="1.0"/>
<text x="285.40" y="314.80" font-size="4.2" text-anchor="end" font-weight="bold" fill="#262626" stroke="#262626" stroke-width="0.28" dominant-baseline="central">1,000</text>
<line x1="286.10" y1="333.50" x2="287.60" y2="333.50" stroke="#555" stroke-width="1.0"/>
<text x="285.40" y="333.80" font-size="4.2" text-anchor="end" font-weight="bold" fill="#262626" stroke="#262626" stroke-width="0.28" dominant-baseline="central">0</text>
<line x1="287.60" y1="333.50" x2="377.00" y2="333.50" stroke="#555" stroke-width="1.0"/>
<line x1="287.50" y1="333.80" x2="287.50" y2="335.30" stroke="#555" stroke-width="1.0"/>
<text x="287.60" y="339.10" font-size="4.2" text-anchor="middle" font-weight="bold" fill="#262626" stroke="#262626" stroke-width="0.28" dominant-baseline="central">0</text>
<line x1="309.50" y1="333.80" x2="309.50" y2="335.30" stroke="#555" stroke-width="1.0"/>
<text x="309.83" y="339.10" font-size="4.2" text-anchor="middle" font-weight="bold" fill="#262626" stroke="#262626" stroke-width="0.28" dominant-baseline="central">50</text>
<line x1="332.50" y1="333.80" x2="332.50" y2="335.30" stroke="#555" stroke-width="1.0"/>
<text x="332.05" y="339.10" font-size="4.2" text-anchor="middle" font-weight="bold" fill="#262626" stroke="#262626" stroke-width="0.28" dominant-baseline="central">100</text>
<line x1="354.50" y1="333.80" x2="354.50" y2="335.30" stroke="#555" stroke-width="1.0"/>
<text x="354.27" y="339.10" font-size="4.2" text-anchor="middle" font-weight="bold" fill="#262626" stroke="#262626" stroke-width="0.28" dominant-baseline="central">150</text>
<line x1="376.50" y1="333.80" x2="376.50" y2="335.30" stroke="#555" stroke-width="1.0"/>
<text x="376.50" y="339.10" font-size="4.2" text-anchor="middle" font-weight="bold" fill="#262626" stroke="#262626" stroke-width="0.28" dominant-baseline="central">200</text>
<line x1="288.10" y1="285.30" x2="377.00" y2="285.30" stroke="#e0e0e0" stroke-width="0.8"/>
<line x1="288.10" y1="320.60" x2="377.00" y2="320.60" stroke="#e0e0e0" stroke-width="0.8"/>
<text x="330.00" y="271.30" font-size="4.5" text-anchor="middle" font-weight="normal" fill="#333" stroke="#333" stroke-width="0.17" dominant-baseline="central" stroke-opacity="0.45">Pt003</text>
<text x="331.30" y="346.20" font-size="4.9" text-anchor="middle" font-weight="bold" fill="#262626" stroke="#262626" stroke-width="0.28" dominant-baseline="central">Days after CAR T infusion</text>
<text x="267.00" y="305.30" font-size="4.5" font-weight="bold" text-anchor="middle" fill="#262626" stroke="#262626" stroke-width="0.28" dominant-baseline="central" transform="rotate(-90 267.00 305.30)">CD3<tspan font-size="3" dy="-1.5">+</tspan><tspan dy="1.5"> T cells/µL</tspan></text>
<polyline points="287.60,302.45 290.71,325.25 300.05,304.35 314.27,317.65 327.61,321.45 367.61,325.25" fill="none" stroke="#38aabb" stroke-width="1.0" stroke-linejoin="round"/>
<circle cx="287.60" cy="302.45" r="1.265" fill="#2c8895"/>
<circle cx="290.71" cy="325.25" r="1.265" fill="#2c8895"/>
<circle cx="300.05" cy="304.35" r="1.265" fill="#2c8895"/>
<circle cx="314.27" cy="317.65" r="1.265" fill="#2c8895"/>
<circle cx="327.61" cy="321.45" r="1.265" fill="#2c8895"/>
<circle cx="367.61" cy="325.25" r="1.265" fill="#2c8895"/>
<line x1="422.50" y1="274.40" x2="422.50" y2="333.00" stroke="#555" stroke-width="1.0"/>
<line x1="421.00" y1="274.50" x2="422.50" y2="274.50" stroke="#555" stroke-width="1.0"/>
<text x="420.30" y="274.40" font-size="4.2" text-anchor="end" font-weight="bold" fill="#262626" stroke="#262626" stroke-width="0.28" dominant-baseline="central">5,000</text>
<line x1="421.00" y1="286.50" x2="422.50" y2="286.50" stroke="#555" stroke-width="1.0"/>
<text x="420.30" y="286.00" font-size="4.2" text-anchor="end" font-weight="bold" fill="#262626" stroke="#262626" stroke-width="0.28" dominant-baseline="central">4,000</text>
<line x1="421.00" y1="297.50" x2="422.50" y2="297.50" stroke="#555" stroke-width="1.0"/>
<text x="420.30" y="297.50" font-size="4.2" text-anchor="end" font-weight="bold" fill="#262626" stroke="#262626" stroke-width="0.28" dominant-baseline="central">3,000</text>
<line x1="421.00" y1="309.50" x2="422.50" y2="309.50" stroke="#555" stroke-width="1.0"/>
<text x="420.30" y="309.40" font-size="4.2" text-anchor="end" font-weight="bold" fill="#262626" stroke="#262626" stroke-width="0.28" dominant-baseline="central">2,000</text>
<line x1="421.00" y1="321.50" x2="422.50" y2="321.50" stroke="#555" stroke-width="1.0"/>
<text x="420.30" y="321.00" font-size="4.2" text-anchor="end" font-weight="bold" fill="#262626" stroke="#262626" stroke-width="0.28" dominant-baseline="central">1,000</text>
<line x1="421.00" y1="333.50" x2="422.50" y2="333.50" stroke="#555" stroke-width="1.0"/>
<text x="420.30" y="333.00" font-size="4.2" text-anchor="end" font-weight="bold" fill="#262626" stroke="#262626" stroke-width="0.28" dominant-baseline="central">0</text>
<line x1="422.50" y1="333.50" x2="518.00" y2="333.50" stroke="#555" stroke-width="1.0"/>
<line x1="423.50" y1="333.00" x2="423.50" y2="334.50" stroke="#555" stroke-width="1.0"/>
<text x="423.00" y="338.50" font-size="4.2" text-anchor="middle" font-weight="bold" fill="#262626" stroke="#262626" stroke-width="0.28" dominant-baseline="central">0</text>
<line x1="446.50" y1="333.00" x2="446.50" y2="334.50" stroke="#555" stroke-width="1.0"/>
<text x="446.57" y="338.50" font-size="4.2" text-anchor="middle" font-weight="bold" fill="#262626" stroke="#262626" stroke-width="0.28" dominant-baseline="central">100</text>
<line x1="470.50" y1="333.00" x2="470.50" y2="334.50" stroke="#555" stroke-width="1.0"/>
<text x="470.15" y="338.50" font-size="4.2" text-anchor="middle" font-weight="bold" fill="#262626" stroke="#262626" stroke-width="0.28" dominant-baseline="central">200</text>
<line x1="493.50" y1="333.00" x2="493.50" y2="334.50" stroke="#555" stroke-width="1.0"/>
<text x="493.72" y="338.50" font-size="4.2" text-anchor="middle" font-weight="bold" fill="#262626" stroke="#262626" stroke-width="0.28" dominant-baseline="central">300</text>
<line x1="517.50" y1="333.00" x2="517.50" y2="334.50" stroke="#555" stroke-width="1.0"/>
<text x="517.30" y="338.50" font-size="4.2" text-anchor="middle" font-weight="bold" fill="#262626" stroke="#262626" stroke-width="0.28" dominant-baseline="central">400</text>
<line x1="423.00" y1="303.50" x2="518.00" y2="303.50" stroke="#e0e0e0" stroke-width="0.8"/>
<line x1="423.00" y1="324.50" x2="518.00" y2="324.50" stroke="#e0e0e0" stroke-width="0.8"/>
<text x="467.50" y="271.70" font-size="4.5" text-anchor="middle" font-weight="normal" fill="#333" stroke="#333" stroke-width="0.17" dominant-baseline="central" stroke-opacity="0.45">Pt004</text>
<text x="470.00" y="346.20" font-size="4.9" text-anchor="middle" font-weight="bold" fill="#262626" stroke="#262626" stroke-width="0.28" dominant-baseline="central">Days after CAR T infusion</text>
<text x="403.00" y="303.70" font-size="4.5" font-weight="bold" text-anchor="middle" fill="#262626" stroke="#262626" stroke-width="0.28" dominant-baseline="central" transform="rotate(-90 403.00 303.70)">CD3<tspan font-size="3" dy="-1.5">+</tspan><tspan dy="1.5"> T cells/µL</tspan></text>
<polyline points="423.00,325.00 423.60,330.00 424.40,329.00 425.20,281.40 426.60,323.00 428.50,331.70 429.80,327.70 437.00,323.00 444.60,327.20 507.90,305.60" fill="none" stroke="#38aabb" stroke-width="1.0" stroke-linejoin="round"/>
<circle cx="423.00" cy="325.00" r="1.265" fill="#2c8895"/>
<circle cx="423.60" cy="330.00" r="1.265" fill="#2c8895"/>
<circle cx="424.40" cy="329.00" r="1.265" fill="#2c8895"/>
<circle cx="425.20" cy="281.40" r="1.265" fill="#2c8895"/>
<circle cx="426.60" cy="323.00" r="1.265" fill="#2c8895"/>
<circle cx="428.50" cy="331.70" r="1.265" fill="#2c8895"/>
<circle cx="429.80" cy="327.70" r="1.265" fill="#2c8895"/>
<circle cx="437.00" cy="323.00" r="1.265" fill="#2c8895"/>
<circle cx="444.60" cy="327.20" r="1.265" fill="#2c8895"/>
<circle cx="507.90" cy="305.60" r="1.265" fill="#2c8895"/>
<line x1="287.50" y1="361.25" x2="287.50" y2="420.00" stroke="#555" stroke-width="1.0"/>
<line x1="285.50" y1="361.50" x2="287.00" y2="361.50" stroke="#555" stroke-width="1.0"/>
<text x="284.80" y="361.25" font-size="4.2" text-anchor="end" font-weight="bold" fill="#262626" stroke="#262626" stroke-width="0.28" dominant-baseline="central">8,000</text>
<line x1="285.50" y1="375.50" x2="287.00" y2="375.50" stroke="#555" stroke-width="1.0"/>
<text x="284.80" y="375.75" font-size="4.2" text-anchor="end" font-weight="bold" fill="#262626" stroke="#262626" stroke-width="0.28" dominant-baseline="central">6,000</text>
<line x1="285.50" y1="390.50" x2="287.00" y2="390.50" stroke="#555" stroke-width="1.0"/>
<text x="284.80" y="390.50" font-size="4.2" text-anchor="end" font-weight="bold" fill="#262626" stroke="#262626" stroke-width="0.28" dominant-baseline="central">4,000</text>
<line x1="285.50" y1="405.50" x2="287.00" y2="405.50" stroke="#555" stroke-width="1.0"/>
<text x="284.80" y="405.75" font-size="4.2" text-anchor="end" font-weight="bold" fill="#262626" stroke="#262626" stroke-width="0.28" dominant-baseline="central">2,000</text>
<line x1="285.50" y1="420.50" x2="287.00" y2="420.50" stroke="#555" stroke-width="1.0"/>
<text x="284.80" y="420.00" font-size="4.2" text-anchor="end" font-weight="bold" fill="#262626" stroke="#262626" stroke-width="0.28" dominant-baseline="central">0</text>
<line x1="287.00" y1="420.50" x2="381.00" y2="420.50" stroke="#555" stroke-width="1.0"/>
<line x1="288.50" y1="420.00" x2="288.50" y2="421.50" stroke="#555" stroke-width="1.0"/>
<text x="288.00" y="425.50" font-size="4.2" text-anchor="middle" font-weight="bold" fill="#262626" stroke="#262626" stroke-width="0.28" dominant-baseline="central">0</text>
<line x1="301.50" y1="420.00" x2="301.50" y2="421.50" stroke="#555" stroke-width="1.0"/>
<text x="301.07" y="425.50" font-size="4.2" text-anchor="middle" font-weight="bold" fill="#262626" stroke="#262626" stroke-width="0.28" dominant-baseline="central">10</text>
<line x1="314.50" y1="420.00" x2="314.50" y2="421.50" stroke="#555" stroke-width="1.0"/>
<text x="314.14" y="425.50" font-size="4.2" text-anchor="middle" font-weight="bold" fill="#262626" stroke="#262626" stroke-width="0.28" dominant-baseline="central">20</text>
<line x1="327.50" y1="420.00" x2="327.50" y2="421.50" stroke="#555" stroke-width="1.0"/>
<text x="327.21" y="425.50" font-size="4.2" text-anchor="middle" font-weight="bold" fill="#262626" stroke="#262626" stroke-width="0.28" dominant-baseline="central">30</text>
<line x1="340.50" y1="420.00" x2="340.50" y2="421.50" stroke="#555" stroke-width="1.0"/>
<text x="340.29" y="425.50" font-size="4.2" text-anchor="middle" font-weight="bold" fill="#262626" stroke="#262626" stroke-width="0.28" dominant-baseline="central">40</text>
<line x1="353.50" y1="420.00" x2="353.50" y2="421.50" stroke="#555" stroke-width="1.0"/>
<text x="353.36" y="425.50" font-size="4.2" text-anchor="middle" font-weight="bold" fill="#262626" stroke="#262626" stroke-width="0.28" dominant-baseline="central">50</text>
<line x1="366.50" y1="420.00" x2="366.50" y2="421.50" stroke="#555" stroke-width="1.0"/>
<text x="366.43" y="425.50" font-size="4.2" text-anchor="middle" font-weight="bold" fill="#262626" stroke="#262626" stroke-width="0.28" dominant-baseline="central">60</text>
<line x1="379.50" y1="420.00" x2="379.50" y2="421.50" stroke="#555" stroke-width="1.0"/>
<text x="379.50" y="425.50" font-size="4.2" text-anchor="middle" font-weight="bold" fill="#262626" stroke="#262626" stroke-width="0.28" dominant-baseline="central">70</text>
<line x1="287.50" y1="401.75" x2="381.00" y2="401.75" stroke="#e0e0e0" stroke-width="0.8"/>
<text x="333.75" y="356.75" font-size="4.5" text-anchor="middle" font-weight="normal" fill="#333" stroke="#333" stroke-width="0.17" dominant-baseline="central" stroke-opacity="0.45">Pt005</text>
<text x="332.50" y="432.50" font-size="4.9" text-anchor="middle" font-weight="bold" fill="#262626" stroke="#262626" stroke-width="0.28" dominant-baseline="central">Days after CAR T infusion</text>
<text x="267.00" y="390.62" font-size="4.5" font-weight="bold" text-anchor="middle" fill="#262626" stroke="#262626" stroke-width="0.28" dominant-baseline="central" transform="rotate(-90 267.00 390.62)">CD3<tspan font-size="3" dy="-1.5">+</tspan><tspan dy="1.5"> T cells/µL</tspan></text>
<polyline points="288.00,418.75 290.00,418.50 292.00,418.00 294.00,418.30 296.00,418.50 298.75,418.75 300.75,414.50 304.25,371.25 306.50,412.00 313.00,414.50 317.00,419.50 324.50,413.75 366.25,407.00" fill="none" stroke="#38aabb" stroke-width="1.0" stroke-linejoin="round"/>
<circle cx="288.00" cy="418.75" r="1.265" fill="#2c8895"/>
<circle cx="290.00" cy="418.50" r="1.265" fill="#2c8895"/>
<circle cx="292.00" cy="418.00" r="1.265" fill="#2c8895"/>
<circle cx="294.00" cy="418.30" r="1.265" fill="#2c8895"/>
<circle cx="296.00" cy="418.50" r="1.265" fill="#2c8895"/>
<circle cx="298.75" cy="418.75" r="1.265" fill="#2c8895"/>
<circle cx="300.75" cy="414.50" r="1.265" fill="#2c8895"/>
<circle cx="304.25" cy="371.25" r="1.265" fill="#2c8895"/>
<circle cx="306.50" cy="412.00" r="1.265" fill="#2c8895"/>
<circle cx="313.00" cy="414.50" r="1.265" fill="#2c8895"/>
<circle cx="317.00" cy="419.50" r="1.265" fill="#2c8895"/>
<circle cx="324.50" cy="413.75" r="1.265" fill="#2c8895"/>
<circle cx="366.25" cy="407.00" r="1.265" fill="#2c8895"/>
<line x1="423.50" y1="362.70" x2="423.50" y2="418.50" stroke="#555" stroke-width="1.0"/>
<line x1="422.00" y1="362.50" x2="423.50" y2="362.50" stroke="#555" stroke-width="1.0"/>
<text x="421.30" y="362.70" font-size="4.2" text-anchor="end" font-weight="bold" fill="#262626" stroke="#262626" stroke-width="0.28" dominant-baseline="central">15,000</text>
<line x1="422.00" y1="381.50" x2="423.50" y2="381.50" stroke="#555" stroke-width="1.0"/>
<text x="421.30" y="381.60" font-size="4.2" text-anchor="end" font-weight="bold" fill="#262626" stroke="#262626" stroke-width="0.28" dominant-baseline="central">10,000</text>
<line x1="422.00" y1="400.50" x2="423.50" y2="400.50" stroke="#555" stroke-width="1.0"/>
<text x="421.30" y="400.20" font-size="4.2" text-anchor="end" font-weight="bold" fill="#262626" stroke="#262626" stroke-width="0.28" dominant-baseline="central">5,000</text>
<line x1="422.00" y1="418.50" x2="423.50" y2="418.50" stroke="#555" stroke-width="1.0"/>
<text x="421.30" y="418.50" font-size="4.2" text-anchor="end" font-weight="bold" fill="#262626" stroke="#262626" stroke-width="0.28" dominant-baseline="central">0</text>
<line x1="423.50" y1="418.50" x2="514.00" y2="418.50" stroke="#555" stroke-width="1.0"/>
<line x1="424.50" y1="418.50" x2="424.50" y2="420.00" stroke="#555" stroke-width="1.0"/>
<text x="424.30" y="423.30" font-size="4.2" text-anchor="middle" font-weight="bold" fill="#262626" stroke="#262626" stroke-width="0.28" dominant-baseline="central">0</text>
<line x1="433.50" y1="418.50" x2="433.50" y2="420.00" stroke="#555" stroke-width="1.0"/>
<text x="433.03" y="423.30" font-size="4.2" text-anchor="middle" font-weight="bold" fill="#262626" stroke="#262626" stroke-width="0.28" dominant-baseline="central">20</text>
<line x1="441.50" y1="418.50" x2="441.50" y2="420.00" stroke="#555" stroke-width="1.0"/>
<text x="441.76" y="423.30" font-size="4.2" text-anchor="middle" font-weight="bold" fill="#262626" stroke="#262626" stroke-width="0.28" dominant-baseline="central">40</text>
<line x1="450.50" y1="418.50" x2="450.50" y2="420.00" stroke="#555" stroke-width="1.0"/>
<text x="450.49" y="423.30" font-size="4.2" text-anchor="middle" font-weight="bold" fill="#262626" stroke="#262626" stroke-width="0.28" dominant-baseline="central">60</text>
<line x1="459.50" y1="418.50" x2="459.50" y2="420.00" stroke="#555" stroke-width="1.0"/>
<text x="459.22" y="423.30" font-size="4.2" text-anchor="middle" font-weight="bold" fill="#262626" stroke="#262626" stroke-width="0.28" dominant-baseline="central">80</text>
<line x1="467.50" y1="418.50" x2="467.50" y2="420.00" stroke="#555" stroke-width="1.0"/>
<text x="467.95" y="423.30" font-size="4.2" text-anchor="middle" font-weight="bold" fill="#262626" stroke="#262626" stroke-width="0.28" dominant-baseline="central">100</text>
<line x1="476.50" y1="418.50" x2="476.50" y2="420.00" stroke="#555" stroke-width="1.0"/>
<text x="476.68" y="423.30" font-size="4.2" text-anchor="middle" font-weight="bold" fill="#262626" stroke="#262626" stroke-width="0.28" dominant-baseline="central">120</text>
<line x1="485.50" y1="418.50" x2="485.50" y2="420.00" stroke="#555" stroke-width="1.0"/>
<text x="485.41" y="423.30" font-size="4.2" text-anchor="middle" font-weight="bold" fill="#262626" stroke="#262626" stroke-width="0.28" dominant-baseline="central">140</text>
<line x1="494.50" y1="418.50" x2="494.50" y2="420.00" stroke="#555" stroke-width="1.0"/>
<text x="494.14" y="423.30" font-size="4.2" text-anchor="middle" font-weight="bold" fill="#262626" stroke="#262626" stroke-width="0.28" dominant-baseline="central">160</text>
<line x1="502.50" y1="418.50" x2="502.50" y2="420.00" stroke="#555" stroke-width="1.0"/>
<text x="502.87" y="423.30" font-size="4.2" text-anchor="middle" font-weight="bold" fill="#262626" stroke="#262626" stroke-width="0.28" dominant-baseline="central">180</text>
<line x1="511.50" y1="418.50" x2="511.50" y2="420.00" stroke="#555" stroke-width="1.0"/>
<text x="511.60" y="423.30" font-size="4.2" text-anchor="middle" font-weight="bold" fill="#262626" stroke="#262626" stroke-width="0.28" dominant-baseline="central">200</text>
<line x1="424.00" y1="409.40" x2="514.00" y2="409.40" stroke="#e0e0e0" stroke-width="0.8"/>
<text x="467.30" y="356.50" font-size="4.5" text-anchor="middle" font-weight="normal" fill="#333" stroke="#333" stroke-width="0.17" dominant-baseline="central" stroke-opacity="0.45">Pt007</text>
<text x="470.00" y="430.50" font-size="4.9" text-anchor="middle" font-weight="bold" fill="#262626" stroke="#262626" stroke-width="0.28" dominant-baseline="central">Days after CAR T infusion</text>
<text x="403.00" y="390.60" font-size="4.5" font-weight="bold" text-anchor="middle" fill="#262626" stroke="#262626" stroke-width="0.28" dominant-baseline="central" transform="rotate(-90 403.00 390.60)">CD3<tspan font-size="3" dy="-1.5">+</tspan><tspan dy="1.5"> T cells/µL</tspan></text>
<polyline points="423.00,418.00 424.40,416.50 426.00,417.00 429.30,366.00 431.20,384.80 433.80,414.40 437.10,412.30 451.40,413.60 464.80,415.80 503.90,415.20" fill="none" stroke="#38aabb" stroke-width="1.0" stroke-linejoin="round"/>
<circle cx="423.00" cy="418.00" r="1.265" fill="#2c8895"/>
<circle cx="424.40" cy="416.50" r="1.265" fill="#2c8895"/>
<circle cx="426.00" cy="417.00" r="1.265" fill="#2c8895"/>
<circle cx="429.30" cy="366.00" r="1.265" fill="#2c8895"/>
<circle cx="431.20" cy="384.80" r="1.265" fill="#2c8895"/>
<circle cx="433.80" cy="414.40" r="1.265" fill="#2c8895"/>
<circle cx="437.10" cy="412.30" r="1.265" fill="#2c8895"/>
<circle cx="451.40" cy="413.60" r="1.265" fill="#2c8895"/>
<circle cx="464.80" cy="415.80" r="1.265" fill="#2c8895"/>
<circle cx="503.90" cy="415.20" r="1.265" fill="#2c8895"/>
<line x1="287.50" y1="444.50" x2="287.50" y2="502.50" stroke="#555" stroke-width="1.0"/>
<line x1="286.00" y1="444.50" x2="287.50" y2="444.50" stroke="#555" stroke-width="1.0"/>
<text x="285.30" y="444.50" font-size="4.2" text-anchor="end" font-weight="bold" fill="#262626" stroke="#262626" stroke-width="0.28" dominant-baseline="central">8,000</text>
<line x1="286.00" y1="459.50" x2="287.50" y2="459.50" stroke="#555" stroke-width="1.0"/>
<text x="285.30" y="459.25" font-size="4.2" text-anchor="end" font-weight="bold" fill="#262626" stroke="#262626" stroke-width="0.28" dominant-baseline="central">6,000</text>
<line x1="286.00" y1="473.50" x2="287.50" y2="473.50" stroke="#555" stroke-width="1.0"/>
<text x="285.30" y="473.75" font-size="4.2" text-anchor="end" font-weight="bold" fill="#262626" stroke="#262626" stroke-width="0.28" dominant-baseline="central">4,000</text>
<line x1="286.00" y1="488.50" x2="287.50" y2="488.50" stroke="#555" stroke-width="1.0"/>
<text x="285.30" y="488.00" font-size="4.2" text-anchor="end" font-weight="bold" fill="#262626" stroke="#262626" stroke-width="0.28" dominant-baseline="central">2,000</text>
<line x1="286.00" y1="502.50" x2="287.50" y2="502.50" stroke="#555" stroke-width="1.0"/>
<text x="285.30" y="502.50" font-size="4.2" text-anchor="end" font-weight="bold" fill="#262626" stroke="#262626" stroke-width="0.28" dominant-baseline="central">0</text>
<line x1="287.50" y1="502.50" x2="380.00" y2="502.50" stroke="#555" stroke-width="1.0"/>
<line x1="288.50" y1="502.50" x2="288.50" y2="504.00" stroke="#555" stroke-width="1.0"/>
<text x="288.00" y="507.00" font-size="4.2" text-anchor="middle" font-weight="bold" fill="#262626" stroke="#262626" stroke-width="0.28" dominant-baseline="central">0</text>
<line x1="332.50" y1="502.50" x2="332.50" y2="504.00" stroke="#555" stroke-width="1.0"/>
<text x="332.75" y="507.00" font-size="4.2" text-anchor="middle" font-weight="bold" fill="#262626" stroke="#262626" stroke-width="0.28" dominant-baseline="central">50</text>
<line x1="377.50" y1="502.50" x2="377.50" y2="504.00" stroke="#555" stroke-width="1.0"/>
<text x="377.50" y="507.00" font-size="4.2" text-anchor="middle" font-weight="bold" fill="#262626" stroke="#262626" stroke-width="0.28" dominant-baseline="central">100</text>
<line x1="288.00" y1="483.00" x2="380.00" y2="483.00" stroke="#e0e0e0" stroke-width="0.8"/>
<line x1="288.00" y1="497.00" x2="380.00" y2="497.00" stroke="#e0e0e0" stroke-width="0.8"/>
<text x="335.00" y="444.60" font-size="4.5" text-anchor="middle" font-weight="normal" fill="#333" stroke="#333" stroke-width="0.17" dominant-baseline="central" stroke-opacity="0.45">Pt008</text>
<text x="332.50" y="515.00" font-size="4.9" text-anchor="middle" font-weight="bold" fill="#262626" stroke="#262626" stroke-width="0.28" dominant-baseline="central">Days after CAR T infusion</text>
<text x="267.00" y="473.50" font-size="4.5" font-weight="bold" text-anchor="middle" fill="#262626" stroke="#262626" stroke-width="0.28" dominant-baseline="central" transform="rotate(-90 267.00 473.50)">CD3<tspan font-size="3" dy="-1.5">+</tspan><tspan dy="1.5"> T cells/µL</tspan></text>
<polyline points="288.00,502.50 291.00,502.50 293.75,502.50 297.50,444.50 300.75,478.75 307.00,491.25 312.50,486.25 369.50,497.00" fill="none" stroke="#38aabb" stroke-width="1.0" stroke-linejoin="round"/>
<circle cx="288.00" cy="502.50" r="1.265" fill="#2c8895"/>
<circle cx="291.00" cy="502.50" r="1.265" fill="#2c8895"/>
<circle cx="293.75" cy="502.50" r="1.265" fill="#2c8895"/>
<circle cx="297.50" cy="444.50" r="1.265" fill="#2c8895"/>
<circle cx="300.75" cy="478.75" r="1.265" fill="#2c8895"/>
<circle cx="307.00" cy="491.25" r="1.265" fill="#2c8895"/>
<circle cx="312.50" cy="486.25" r="1.265" fill="#2c8895"/>
<circle cx="369.50" cy="497.00" r="1.265" fill="#2c8895"/>
<text x="276.30" y="541.30" font-size="7.2" text-anchor="middle" font-weight="bold" fill="#111" stroke="#111" stroke-width="0.28" dominant-baseline="central">H</text>
<line x1="287.50" y1="542.50" x2="287.50" y2="594.25" stroke="#555" stroke-width="1.0"/>
<line x1="286.00" y1="542.50" x2="287.50" y2="542.50" stroke="#555" stroke-width="1.0"/>
<text x="285.30" y="542.50" font-size="4.2" text-anchor="end" font-weight="bold" fill="#262626" stroke="#262626" stroke-width="0.28" dominant-baseline="central">4</text>
<line x1="286.00" y1="555.50" x2="287.50" y2="555.50" stroke="#555" stroke-width="1.0"/>
<text x="285.30" y="555.75" font-size="4.2" text-anchor="end" font-weight="bold" fill="#262626" stroke="#262626" stroke-width="0.28" dominant-baseline="central">3</text>
<line x1="286.00" y1="568.50" x2="287.50" y2="568.50" stroke="#555" stroke-width="1.0"/>
<text x="285.30" y="568.75" font-size="4.2" text-anchor="end" font-weight="bold" fill="#262626" stroke="#262626" stroke-width="0.28" dominant-baseline="central">2</text>
<line x1="286.00" y1="581.50" x2="287.50" y2="581.50" stroke="#555" stroke-width="1.0"/>
<text x="285.30" y="581.25" font-size="4.2" text-anchor="end" font-weight="bold" fill="#262626" stroke="#262626" stroke-width="0.28" dominant-baseline="central">1</text>
<line x1="286.00" y1="594.50" x2="287.50" y2="594.50" stroke="#555" stroke-width="1.0"/>
<text x="285.30" y="594.25" font-size="4.2" text-anchor="end" font-weight="bold" fill="#262626" stroke="#262626" stroke-width="0.28" dominant-baseline="central">0</text>
<line x1="287.50" y1="594.50" x2="326.00" y2="594.50" stroke="#555" stroke-width="1.0"/>
<line x1="328.00" y1="594.50" x2="360.00" y2="594.50" stroke="#555" stroke-width="1.0"/>
<line x1="289.50" y1="594.25" x2="289.50" y2="595.75" stroke="#555" stroke-width="1.0"/>
<text x="289.25" y="598.65" font-size="4.2" text-anchor="middle" font-weight="bold" fill="#262626" stroke="#262626" stroke-width="0.28" dominant-baseline="central">−10</text>
<line x1="297.50" y1="594.25" x2="297.50" y2="595.75" stroke="#555" stroke-width="1.0"/>
<text x="297.00" y="598.65" font-size="4.2" text-anchor="middle" font-weight="bold" fill="#262626" stroke="#262626" stroke-width="0.28" dominant-baseline="central">0</text>
<line x1="306.50" y1="594.25" x2="306.50" y2="595.75" stroke="#555" stroke-width="1.0"/>
<text x="306.25" y="598.65" font-size="4.2" text-anchor="middle" font-weight="bold" fill="#262626" stroke="#262626" stroke-width="0.28" dominant-baseline="central">10</text>
<line x1="315.50" y1="594.25" x2="315.50" y2="595.75" stroke="#555" stroke-width="1.0"/>
<text x="315.00" y="598.65" font-size="4.2" text-anchor="middle" font-weight="bold" fill="#262626" stroke="#262626" stroke-width="0.28" dominant-baseline="central">20</text>
<line x1="324.50" y1="594.25" x2="324.50" y2="595.75" stroke="#555" stroke-width="1.0"/>
<text x="324.50" y="598.65" font-size="4.2" text-anchor="middle" font-weight="bold" fill="#262626" stroke="#262626" stroke-width="0.28" dominant-baseline="central">30</text>
<line x1="355.50" y1="594.25" x2="355.50" y2="595.75" stroke="#555" stroke-width="1.0"/>
<text x="355.00" y="598.65" font-size="4.2" text-anchor="middle" font-weight="bold" fill="#262626" stroke="#262626" stroke-width="0.28" dominant-baseline="central">60</text>
<line x1="288.00" y1="562.50" x2="360.00" y2="562.50" stroke="#bdbdbd" stroke-width="0.8"/>
<line x1="288.00" y1="585.50" x2="360.00" y2="585.50" stroke="#bcc4d8" stroke-width="0.8"/>
<text x="327.50" y="541.30" font-size="4.5" text-anchor="middle" font-weight="normal" fill="#333" stroke="#333" stroke-width="0.17" dominant-baseline="central" stroke-opacity="0.45">Pt001</text>
<text x="326.25" y="603.75" font-size="4.75" text-anchor="middle" font-weight="bold" fill="#262626" stroke="#262626" stroke-width="0.28" dominant-baseline="central" textLength="32.6" lengthAdjust="spacingAndGlyphs">Time point (day)</text>
<text x="278.30" y="568.38" font-size="4.2" font-weight="bold" text-anchor="middle" fill="#262626" stroke="#262626" stroke-width="0.28" dominant-baseline="central" transform="rotate(-90 278.30 568.38)">CD4/CD8</text>
<polyline points="291.25,566.25 297.00,577.50 302.00,588.25 315.50,559.50 318.25,578.75 322.00,587.00 355.50,581.25" fill="none" stroke="#f2845a" stroke-width="0.875" stroke-linejoin="round"/>
<circle cx="291.25" cy="566.25" r="1.0924999999999998" fill="#c16948"/>
<circle cx="297.00" cy="577.50" r="1.0924999999999998" fill="#c16948"/>
<circle cx="302.00" cy="588.25" r="1.0924999999999998" fill="#c16948"/>
<circle cx="315.50" cy="559.50" r="1.0924999999999998" fill="#c16948"/>
<circle cx="318.25" cy="578.75" r="1.0924999999999998" fill="#c16948"/>
<circle cx="322.00" cy="587.00" r="1.0924999999999998" fill="#c16948"/>
<circle cx="355.50" cy="581.25" r="1.0924999999999998" fill="#c16948"/>
<rect x="326.30" y="542.50" width="1.40" height="51.15" fill="#fff"/>
<line x1="326.30" y1="562.50" x2="327.70" y2="562.50" stroke="#bdbdbd" stroke-width="0.8"/>
<line x1="326.30" y1="585.50" x2="327.70" y2="585.50" stroke="#bcc4d8" stroke-width="0.8"/>
<line x1="395.50" y1="545.60" x2="395.50" y2="593.30" stroke="#555" stroke-width="1.0"/>
<line x1="394.10" y1="545.50" x2="395.60" y2="545.50" stroke="#555" stroke-width="1.0"/>
<text x="393.40" y="545.60" font-size="4.2" text-anchor="end" font-weight="bold" fill="#262626" stroke="#262626" stroke-width="0.28" dominant-baseline="central">1.0</text>
<line x1="394.10" y1="555.50" x2="395.60" y2="555.50" stroke="#555" stroke-width="1.0"/>
<text x="393.40" y="555.00" font-size="4.2" text-anchor="end" font-weight="bold" fill="#262626" stroke="#262626" stroke-width="0.28" dominant-baseline="central">0.8</text>
<line x1="394.10" y1="564.50" x2="395.60" y2="564.50" stroke="#555" stroke-width="1.0"/>
<text x="393.40" y="564.50" font-size="4.2" text-anchor="end" font-weight="bold" fill="#262626" stroke="#262626" stroke-width="0.28" dominant-baseline="central">0.6</text>
<line x1="394.10" y1="573.50" x2="395.60" y2="573.50" stroke="#555" stroke-width="1.0"/>
<text x="393.40" y="573.90" font-size="4.2" text-anchor="end" font-weight="bold" fill="#262626" stroke="#262626" stroke-width="0.28" dominant-baseline="central">0.4</text>
<line x1="394.10" y1="583.50" x2="395.60" y2="583.50" stroke="#555" stroke-width="1.0"/>
<text x="393.40" y="583.30" font-size="4.2" text-anchor="end" font-weight="bold" fill="#262626" stroke="#262626" stroke-width="0.28" dominant-baseline="central">0.2</text>
<line x1="394.10" y1="593.50" x2="395.60" y2="593.50" stroke="#555" stroke-width="1.0"/>
<text x="393.40" y="593.30" font-size="4.2" text-anchor="end" font-weight="bold" fill="#262626" stroke="#262626" stroke-width="0.28" dominant-baseline="central">0.0</text>
<line x1="395.60" y1="593.50" x2="431.00" y2="593.50" stroke="#555" stroke-width="1.0"/>
<line x1="433.00" y1="593.50" x2="466.30" y2="593.50" stroke="#555" stroke-width="1.0"/>
<line x1="396.50" y1="593.30" x2="396.50" y2="594.80" stroke="#555" stroke-width="1.0"/>
<text x="396.20" y="597.70" font-size="4.2" text-anchor="middle" font-weight="bold" fill="#262626" stroke="#262626" stroke-width="0.28" dominant-baseline="central">0</text>
<line x1="407.50" y1="593.30" x2="407.50" y2="594.80" stroke="#555" stroke-width="1.0"/>
<text x="407.00" y="597.70" font-size="4.2" text-anchor="middle" font-weight="bold" fill="#262626" stroke="#262626" stroke-width="0.28" dominant-baseline="central">10</text>
<line x1="418.50" y1="593.30" x2="418.50" y2="594.80" stroke="#555" stroke-width="1.0"/>
<text x="418.70" y="597.70" font-size="4.2" text-anchor="middle" font-weight="bold" fill="#262626" stroke="#262626" stroke-width="0.28" dominant-baseline="central">20</text>
<line x1="429.50" y1="593.30" x2="429.50" y2="594.80" stroke="#555" stroke-width="1.0"/>
<text x="429.70" y="597.70" font-size="4.2" text-anchor="middle" font-weight="bold" fill="#262626" stroke="#262626" stroke-width="0.28" dominant-baseline="central">30</text>
<line x1="459.50" y1="593.30" x2="459.50" y2="594.80" stroke="#555" stroke-width="1.0"/>
<text x="459.30" y="597.70" font-size="4.2" text-anchor="middle" font-weight="bold" fill="#262626" stroke="#262626" stroke-width="0.28" dominant-baseline="central">60</text>
<line x1="396.10" y1="561.00" x2="466.30" y2="561.00" stroke="#c8c8c8" stroke-width="0.8"/>
<text x="433.00" y="541.60" font-size="4.5" text-anchor="middle" font-weight="normal" fill="#333" stroke="#333" stroke-width="0.17" dominant-baseline="central" stroke-opacity="0.45">Pt002</text>
<text x="431.00" y="603.40" font-size="4.75" text-anchor="middle" font-weight="bold" fill="#262626" stroke="#262626" stroke-width="0.28" dominant-baseline="central" textLength="32.6" lengthAdjust="spacingAndGlyphs">Time point (day)</text>
<text x="383.20" y="569.45" font-size="4.2" font-weight="bold" text-anchor="middle" fill="#262626" stroke="#262626" stroke-width="0.28" dominant-baseline="central" transform="rotate(-90 383.20 569.45)">CD4/CD8</text>
<polyline points="407.00,591.40 411.00,590.60 459.30,585.20" fill="none" stroke="#f2845a" stroke-width="0.875" stroke-linejoin="round"/>
<circle cx="407.00" cy="591.40" r="1.0924999999999998" fill="#c16948"/>
<circle cx="411.00" cy="590.60" r="1.0924999999999998" fill="#c16948"/>
<circle cx="459.30" cy="585.20" r="1.0924999999999998" fill="#c16948"/>
<rect x="431.30" y="545.60" width="1.40" height="47.10" fill="#fff"/>
<line x1="431.30" y1="561.00" x2="432.70" y2="561.00" stroke="#c8c8c8" stroke-width="0.8"/>
<line x1="288.50" y1="614.50" x2="288.50" y2="665.00" stroke="#555" stroke-width="1.0"/>
<line x1="286.50" y1="614.50" x2="288.00" y2="614.50" stroke="#555" stroke-width="1.0"/>
<text x="285.80" y="614.50" font-size="4.2" text-anchor="end" font-weight="bold" fill="#262626" stroke="#262626" stroke-width="0.28" dominant-baseline="central">4</text>
<line x1="286.50" y1="627.50" x2="288.00" y2="627.50" stroke="#555" stroke-width="1.0"/>
<text x="285.80" y="627.50" font-size="4.2" text-anchor="end" font-weight="bold" fill="#262626" stroke="#262626" stroke-width="0.28" dominant-baseline="central">3</text>
<line x1="286.50" y1="640.50" x2="288.00" y2="640.50" stroke="#555" stroke-width="1.0"/>
<text x="285.80" y="640.50" font-size="4.2" text-anchor="end" font-weight="bold" fill="#262626" stroke="#262626" stroke-width="0.28" dominant-baseline="central">2</text>
<line x1="286.50" y1="652.50" x2="288.00" y2="652.50" stroke="#555" stroke-width="1.0"/>
<text x="285.80" y="652.50" font-size="4.2" text-anchor="end" font-weight="bold" fill="#262626" stroke="#262626" stroke-width="0.28" dominant-baseline="central">1</text>
<line x1="286.50" y1="665.50" x2="288.00" y2="665.50" stroke="#555" stroke-width="1.0"/>
<text x="285.80" y="665.00" font-size="4.2" text-anchor="end" font-weight="bold" fill="#262626" stroke="#262626" stroke-width="0.28" dominant-baseline="central">0</text>
<line x1="288.00" y1="665.50" x2="365.00" y2="665.50" stroke="#555" stroke-width="1.0"/>
<line x1="292.50" y1="665.00" x2="292.50" y2="666.50" stroke="#555" stroke-width="1.0"/>
<text x="292.50" y="669.40" font-size="4.2" text-anchor="middle" font-weight="bold" fill="#262626" stroke="#262626" stroke-width="0.28" dominant-baseline="central">0</text>
<line x1="304.50" y1="665.00" x2="304.50" y2="666.50" stroke="#555" stroke-width="1.0"/>
<text x="304.50" y="669.40" font-size="4.2" text-anchor="middle" font-weight="bold" fill="#262626" stroke="#262626" stroke-width="0.28" dominant-baseline="central">5</text>
<line x1="316.50" y1="665.00" x2="316.50" y2="666.50" stroke="#555" stroke-width="1.0"/>
<text x="316.25" y="669.40" font-size="4.2" text-anchor="middle" font-weight="bold" fill="#262626" stroke="#262626" stroke-width="0.28" dominant-baseline="central">10</text>
<line x1="328.50" y1="665.00" x2="328.50" y2="666.50" stroke="#555" stroke-width="1.0"/>
<text x="328.00" y="669.40" font-size="4.2" text-anchor="middle" font-weight="bold" fill="#262626" stroke="#262626" stroke-width="0.28" dominant-baseline="central">15</text>
<line x1="340.50" y1="665.00" x2="340.50" y2="666.50" stroke="#555" stroke-width="1.0"/>
<text x="340.00" y="669.40" font-size="4.2" text-anchor="middle" font-weight="bold" fill="#262626" stroke="#262626" stroke-width="0.28" dominant-baseline="central">20</text>
<line x1="351.50" y1="665.00" x2="351.50" y2="666.50" stroke="#555" stroke-width="1.0"/>
<text x="351.25" y="669.40" font-size="4.2" text-anchor="middle" font-weight="bold" fill="#262626" stroke="#262626" stroke-width="0.28" dominant-baseline="central">25</text>
<line x1="363.50" y1="665.00" x2="363.50" y2="666.50" stroke="#555" stroke-width="1.0"/>
<text x="363.00" y="669.40" font-size="4.2" text-anchor="middle" font-weight="bold" fill="#262626" stroke="#262626" stroke-width="0.28" dominant-baseline="central">30</text>
<line x1="288.50" y1="634.25" x2="365.00" y2="634.25" stroke="#bdbdbd" stroke-width="0.8"/>
<line x1="288.50" y1="656.50" x2="365.00" y2="656.50" stroke="#bcc4d8" stroke-width="0.8"/>
<text x="326.25" y="611.30" font-size="4.5" text-anchor="middle" font-weight="normal" fill="#333" stroke="#333" stroke-width="0.17" dominant-baseline="central" stroke-opacity="0.45">Pt003</text>
<text x="326.25" y="675.50" font-size="4.75" text-anchor="middle" font-weight="bold" fill="#262626" stroke="#262626" stroke-width="0.28" dominant-baseline="central" textLength="32.6" lengthAdjust="spacingAndGlyphs">Time point (day)</text>
<text x="278.30" y="639.75" font-size="4.2" font-weight="bold" text-anchor="middle" fill="#262626" stroke="#262626" stroke-width="0.28" dominant-baseline="central" transform="rotate(-90 278.30 639.75)">CD4/CD8</text>
<polyline points="290.50,625.50 304.50,660.75 306.50,660.75 358.75,662.50" fill="none" stroke="#f2845a" stroke-width="0.875" stroke-linejoin="round"/>
<circle cx="290.50" cy="625.50" r="1.0924999999999998" fill="#c16948"/>
<circle cx="304.50" cy="660.75" r="1.0924999999999998" fill="#c16948"/>
<circle cx="306.50" cy="660.75" r="1.0924999999999998" fill="#c16948"/>
<circle cx="358.75" cy="662.50" r="1.0924999999999998" fill="#c16948"/>
<line x1="390.50" y1="616.70" x2="390.50" y2="666.50" stroke="#555" stroke-width="1.0"/>
<line x1="389.30" y1="616.50" x2="390.80" y2="616.50" stroke="#555" stroke-width="1.0"/>
<text x="388.60" y="616.70" font-size="4.2" text-anchor="end" font-weight="bold" fill="#262626" stroke="#262626" stroke-width="0.28" dominant-baseline="central">4</text>
<line x1="389.30" y1="629.50" x2="390.80" y2="629.50" stroke="#555" stroke-width="1.0"/>
<text x="388.60" y="629.40" font-size="4.2" text-anchor="end" font-weight="bold" fill="#262626" stroke="#262626" stroke-width="0.28" dominant-baseline="central">3</text>
<line x1="389.30" y1="642.50" x2="390.80" y2="642.50" stroke="#555" stroke-width="1.0"/>
<text x="388.60" y="642.30" font-size="4.2" text-anchor="end" font-weight="bold" fill="#262626" stroke="#262626" stroke-width="0.28" dominant-baseline="central">2</text>
<line x1="389.30" y1="654.50" x2="390.80" y2="654.50" stroke="#555" stroke-width="1.0"/>
<text x="388.60" y="654.40" font-size="4.2" text-anchor="end" font-weight="bold" fill="#262626" stroke="#262626" stroke-width="0.28" dominant-baseline="central">1</text>
<line x1="389.30" y1="666.50" x2="390.80" y2="666.50" stroke="#555" stroke-width="1.0"/>
<text x="388.60" y="666.50" font-size="4.2" text-anchor="end" font-weight="bold" fill="#262626" stroke="#262626" stroke-width="0.28" dominant-baseline="central">0</text>
<line x1="390.80" y1="666.50" x2="470.00" y2="666.50" stroke="#555" stroke-width="1.0"/>
<line x1="390.50" y1="666.50" x2="390.50" y2="668.00" stroke="#555" stroke-width="1.0"/>
<text x="390.80" y="670.90" font-size="4.2" text-anchor="middle" font-weight="bold" fill="#262626" stroke="#262626" stroke-width="0.28" dominant-baseline="central">−10</text>
<line x1="401.50" y1="666.50" x2="401.50" y2="668.00" stroke="#555" stroke-width="1.0"/>
<text x="401.00" y="670.90" font-size="4.2" text-anchor="middle" font-weight="bold" fill="#262626" stroke="#262626" stroke-width="0.28" dominant-baseline="central">−5</text>
<line x1="411.50" y1="666.50" x2="411.50" y2="668.00" stroke="#555" stroke-width="1.0"/>
<text x="411.00" y="670.90" font-size="4.2" text-anchor="middle" font-weight="bold" fill="#262626" stroke="#262626" stroke-width="0.28" dominant-baseline="central">0</text>
<line x1="420.50" y1="666.50" x2="420.50" y2="668.00" stroke="#555" stroke-width="1.0"/>
<text x="420.40" y="670.90" font-size="4.2" text-anchor="middle" font-weight="bold" fill="#262626" stroke="#262626" stroke-width="0.28" dominant-baseline="central">5</text>
<line x1="430.50" y1="666.50" x2="430.50" y2="668.00" stroke="#555" stroke-width="1.0"/>
<text x="430.60" y="670.90" font-size="4.2" text-anchor="middle" font-weight="bold" fill="#262626" stroke="#262626" stroke-width="0.28" dominant-baseline="central">10</text>
<line x1="440.50" y1="666.50" x2="440.50" y2="668.00" stroke="#555" stroke-width="1.0"/>
<text x="440.60" y="670.90" font-size="4.2" text-anchor="middle" font-weight="bold" fill="#262626" stroke="#262626" stroke-width="0.28" dominant-baseline="central">15</text>
<line x1="450.50" y1="666.50" x2="450.50" y2="668.00" stroke="#555" stroke-width="1.0"/>
<text x="450.50" y="670.90" font-size="4.2" text-anchor="middle" font-weight="bold" fill="#262626" stroke="#262626" stroke-width="0.28" dominant-baseline="central">20</text>
<line x1="460.50" y1="666.50" x2="460.50" y2="668.00" stroke="#555" stroke-width="1.0"/>
<text x="460.20" y="670.90" font-size="4.2" text-anchor="middle" font-weight="bold" fill="#262626" stroke="#262626" stroke-width="0.28" dominant-baseline="central">25</text>
<line x1="468.50" y1="666.50" x2="468.50" y2="668.00" stroke="#555" stroke-width="1.0"/>
<text x="468.00" y="670.90" font-size="4.2" text-anchor="middle" font-weight="bold" fill="#262626" stroke="#262626" stroke-width="0.28" dominant-baseline="central">30</text>
<line x1="391.30" y1="636.10" x2="470.00" y2="636.10" stroke="#bdbdbd" stroke-width="0.8"/>
<line x1="391.30" y1="658.50" x2="470.00" y2="658.50" stroke="#bcc4d8" stroke-width="0.8"/>
<text x="431.00" y="611.20" font-size="4.5" text-anchor="middle" font-weight="normal" fill="#333" stroke="#333" stroke-width="0.17" dominant-baseline="central" stroke-opacity="0.45">Pt004</text>
<text x="429.00" y="676.00" font-size="4.75" text-anchor="middle" font-weight="bold" fill="#262626" stroke="#262626" stroke-width="0.28" dominant-baseline="central" textLength="32.6" lengthAdjust="spacingAndGlyphs">Time point (day)</text>
<text x="381.00" y="641.60" font-size="4.2" font-weight="bold" text-anchor="middle" fill="#262626" stroke="#262626" stroke-width="0.28" dominant-baseline="central" transform="rotate(-90 381.00 641.60)">CD4/CD8</text>
<polyline points="397.50,658.70 409.10,646.90 412.30,657.70 418.50,663.80 420.40,662.80 430.60,666.00 440.60,666.00 450.50,665.40 464.00,664.80" fill="none" stroke="#f2845a" stroke-width="0.875" stroke-linejoin="round"/>
<circle cx="397.50" cy="658.70" r="1.0924999999999998" fill="#c16948"/>
<circle cx="409.10" cy="646.90" r="1.0924999999999998" fill="#c16948"/>
<circle cx="412.30" cy="657.70" r="1.0924999999999998" fill="#c16948"/>
<circle cx="418.50" cy="663.80" r="1.0924999999999998" fill="#c16948"/>
<circle cx="420.40" cy="662.80" r="1.0924999999999998" fill="#c16948"/>
<circle cx="430.60" cy="666.00" r="1.0924999999999998" fill="#c16948"/>
<circle cx="440.60" cy="666.00" r="1.0924999999999998" fill="#c16948"/>
<circle cx="450.50" cy="665.40" r="1.0924999999999998" fill="#c16948"/>
<circle cx="464.00" cy="664.80" r="1.0924999999999998" fill="#c16948"/>
<line x1="287.50" y1="684.50" x2="287.50" y2="735.00" stroke="#555" stroke-width="1.0"/>
<line x1="286.00" y1="684.50" x2="287.50" y2="684.50" stroke="#555" stroke-width="1.0"/>
<text x="285.30" y="684.50" font-size="4.2" text-anchor="end" font-weight="bold" fill="#262626" stroke="#262626" stroke-width="0.28" dominant-baseline="central">4</text>
<line x1="286.00" y1="697.50" x2="287.50" y2="697.50" stroke="#555" stroke-width="1.0"/>
<text x="285.30" y="697.50" font-size="4.2" text-anchor="end" font-weight="bold" fill="#262626" stroke="#262626" stroke-width="0.28" dominant-baseline="central">3</text>
<line x1="286.00" y1="710.50" x2="287.50" y2="710.50" stroke="#555" stroke-width="1.0"/>
<text x="285.30" y="710.50" font-size="4.2" text-anchor="end" font-weight="bold" fill="#262626" stroke="#262626" stroke-width="0.28" dominant-baseline="central">2</text>
<line x1="286.00" y1="722.50" x2="287.50" y2="722.50" stroke="#555" stroke-width="1.0"/>
<text x="285.30" y="722.50" font-size="4.2" text-anchor="end" font-weight="bold" fill="#262626" stroke="#262626" stroke-width="0.28" dominant-baseline="central">1</text>
<line x1="286.00" y1="735.50" x2="287.50" y2="735.50" stroke="#555" stroke-width="1.0"/>
<text x="285.30" y="735.00" font-size="4.2" text-anchor="end" font-weight="bold" fill="#262626" stroke="#262626" stroke-width="0.28" dominant-baseline="central">0</text>
<line x1="287.50" y1="735.50" x2="365.00" y2="735.50" stroke="#555" stroke-width="1.0"/>
<line x1="290.50" y1="735.00" x2="290.50" y2="736.50" stroke="#555" stroke-width="1.0"/>
<text x="290.50" y="739.40" font-size="4.2" text-anchor="middle" font-weight="bold" fill="#262626" stroke="#262626" stroke-width="0.28" dominant-baseline="central">0</text>
<line x1="302.50" y1="735.00" x2="302.50" y2="736.50" stroke="#555" stroke-width="1.0"/>
<text x="302.50" y="739.40" font-size="4.2" text-anchor="middle" font-weight="bold" fill="#262626" stroke="#262626" stroke-width="0.28" dominant-baseline="central">5</text>
<line x1="315.50" y1="735.00" x2="315.50" y2="736.50" stroke="#555" stroke-width="1.0"/>
<text x="315.00" y="739.40" font-size="4.2" text-anchor="middle" font-weight="bold" fill="#262626" stroke="#262626" stroke-width="0.28" dominant-baseline="central">10</text>
<line x1="327.50" y1="735.00" x2="327.50" y2="736.50" stroke="#555" stroke-width="1.0"/>
<text x="327.00" y="739.40" font-size="4.2" text-anchor="middle" font-weight="bold" fill="#262626" stroke="#262626" stroke-width="0.28" dominant-baseline="central">15</text>
<line x1="338.50" y1="735.00" x2="338.50" y2="736.50" stroke="#555" stroke-width="1.0"/>
<text x="338.75" y="739.40" font-size="4.2" text-anchor="middle" font-weight="bold" fill="#262626" stroke="#262626" stroke-width="0.28" dominant-baseline="central">20</text>
<line x1="351.50" y1="735.00" x2="351.50" y2="736.50" stroke="#555" stroke-width="1.0"/>
<text x="351.25" y="739.40" font-size="4.2" text-anchor="middle" font-weight="bold" fill="#262626" stroke="#262626" stroke-width="0.28" dominant-baseline="central">25</text>
<line x1="363.50" y1="735.00" x2="363.50" y2="736.50" stroke="#555" stroke-width="1.0"/>
<text x="363.00" y="739.40" font-size="4.2" text-anchor="middle" font-weight="bold" fill="#262626" stroke="#262626" stroke-width="0.28" dominant-baseline="central">30</text>
<line x1="288.00" y1="704.25" x2="365.00" y2="704.25" stroke="#bdbdbd" stroke-width="0.8"/>
<line x1="288.00" y1="726.50" x2="365.00" y2="726.50" stroke="#bcc4d8" stroke-width="0.8"/>
<text x="326.25" y="683.80" font-size="4.5" text-anchor="middle" font-weight="normal" fill="#333" stroke="#333" stroke-width="0.17" dominant-baseline="central" stroke-opacity="0.45">Pt005</text>
<text x="326.25" y="746.25" font-size="4.75" text-anchor="middle" font-weight="bold" fill="#262626" stroke="#262626" stroke-width="0.28" dominant-baseline="central" textLength="32.6" lengthAdjust="spacingAndGlyphs">Time point (day)</text>
<text x="278.30" y="709.75" font-size="4.2" font-weight="bold" text-anchor="middle" fill="#262626" stroke="#262626" stroke-width="0.28" dominant-baseline="central" transform="rotate(-90 278.30 709.75)">CD4/CD8</text>
<polyline points="288.25,710.75 293.25,709.50 297.50,730.75 302.50,731.50 307.50,723.75 314.50,734.50 319.50,734.50 324.25,733.50 337.00,732.50 341.50,732.50 358.75,731.25" fill="none" stroke="#f2845a" stroke-width="0.875" stroke-linejoin="round"/>
<circle cx="288.25" cy="710.75" r="1.0924999999999998" fill="#c16948"/>
<circle cx="293.25" cy="709.50" r="1.0924999999999998" fill="#c16948"/>
<circle cx="297.50" cy="730.75" r="1.0924999999999998" fill="#c16948"/>
<circle cx="302.50" cy="731.50" r="1.0924999999999998" fill="#c16948"/>
<circle cx="307.50" cy="723.75" r="1.0924999999999998" fill="#c16948"/>
<circle cx="314.50" cy="734.50" r="1.0924999999999998" fill="#c16948"/>
<circle cx="319.50" cy="734.50" r="1.0924999999999998" fill="#c16948"/>
<circle cx="324.25" cy="733.50" r="1.0924999999999998" fill="#c16948"/>
<circle cx="337.00" cy="732.50" r="1.0924999999999998" fill="#c16948"/>
<circle cx="341.50" cy="732.50" r="1.0924999999999998" fill="#c16948"/>
<circle cx="358.75" cy="731.25" r="1.0924999999999998" fill="#c16948"/>
<line x1="390.50" y1="685.40" x2="390.50" y2="736.00" stroke="#555" stroke-width="1.0"/>
<line x1="388.70" y1="685.50" x2="390.20" y2="685.50" stroke="#555" stroke-width="1.0"/>
<text x="388.00" y="685.40" font-size="4.2" text-anchor="end" font-weight="bold" fill="#262626" stroke="#262626" stroke-width="0.28" dominant-baseline="central">3</text>
<line x1="388.70" y1="702.50" x2="390.20" y2="702.50" stroke="#555" stroke-width="1.0"/>
<text x="388.00" y="702.30" font-size="4.2" text-anchor="end" font-weight="bold" fill="#262626" stroke="#262626" stroke-width="0.28" dominant-baseline="central">2</text>
<line x1="388.70" y1="719.50" x2="390.20" y2="719.50" stroke="#555" stroke-width="1.0"/>
<text x="388.00" y="719.00" font-size="4.2" text-anchor="end" font-weight="bold" fill="#262626" stroke="#262626" stroke-width="0.28" dominant-baseline="central">1</text>
<line x1="388.70" y1="736.50" x2="390.20" y2="736.50" stroke="#555" stroke-width="1.0"/>
<text x="388.00" y="736.00" font-size="4.2" text-anchor="end" font-weight="bold" fill="#262626" stroke="#262626" stroke-width="0.28" dominant-baseline="central">0</text>
<line x1="390.20" y1="736.50" x2="429.00" y2="736.50" stroke="#555" stroke-width="1.0"/>
<line x1="431.00" y1="736.50" x2="465.00" y2="736.50" stroke="#555" stroke-width="1.0"/>
<line x1="397.50" y1="736.00" x2="397.50" y2="737.50" stroke="#555" stroke-width="1.0"/>
<text x="397.50" y="740.40" font-size="4.2" text-anchor="middle" font-weight="bold" fill="#262626" stroke="#262626" stroke-width="0.28" dominant-baseline="central">0</text>
<line x1="406.50" y1="736.00" x2="406.50" y2="737.50" stroke="#555" stroke-width="1.0"/>
<text x="406.90" y="740.40" font-size="4.2" text-anchor="middle" font-weight="bold" fill="#262626" stroke="#262626" stroke-width="0.28" dominant-baseline="central">10</text>
<line x1="417.50" y1="736.00" x2="417.50" y2="737.50" stroke="#555" stroke-width="1.0"/>
<text x="417.70" y="740.40" font-size="4.2" text-anchor="middle" font-weight="bold" fill="#262626" stroke="#262626" stroke-width="0.28" dominant-baseline="central">20</text>
<line x1="427.50" y1="736.00" x2="427.50" y2="737.50" stroke="#555" stroke-width="1.0"/>
<text x="427.10" y="740.40" font-size="4.2" text-anchor="middle" font-weight="bold" fill="#262626" stroke="#262626" stroke-width="0.28" dominant-baseline="central">30</text>
<line x1="457.50" y1="736.00" x2="457.50" y2="737.50" stroke="#555" stroke-width="1.0"/>
<text x="457.50" y="740.40" font-size="4.2" text-anchor="middle" font-weight="bold" fill="#262626" stroke="#262626" stroke-width="0.28" dominant-baseline="central">60</text>
<line x1="390.70" y1="694.00" x2="465.00" y2="694.00" stroke="#bdbdbd" stroke-width="0.8"/>
<line x1="390.70" y1="725.00" x2="465.00" y2="725.00" stroke="#bcc4d8" stroke-width="0.8"/>
<text x="428.50" y="684.00" font-size="4.5" text-anchor="middle" font-weight="normal" fill="#333" stroke="#333" stroke-width="0.17" dominant-baseline="central" stroke-opacity="0.45">Pt006</text>
<text x="428.00" y="745.40" font-size="4.75" text-anchor="middle" font-weight="bold" fill="#262626" stroke="#262626" stroke-width="0.28" dominant-baseline="central" textLength="32.6" lengthAdjust="spacingAndGlyphs">Time point (day)</text>
<text x="381.00" y="710.70" font-size="4.2" font-weight="bold" text-anchor="middle" fill="#262626" stroke="#262626" stroke-width="0.28" dominant-baseline="central" transform="rotate(-90 381.00 710.70)">CD4/CD8</text>
<polyline points="390.20,729.80 397.00,711.80 398.80,726.30 400.50,731.70 403.70,730.30 406.90,727.10 411.00,734.70 417.70,721.70 425.20,731.20 432.00,729.00 461.30,734.70" fill="none" stroke="#f2845a" stroke-width="0.875" stroke-linejoin="round"/>
<circle cx="390.20" cy="729.80" r="1.0924999999999998" fill="#c16948"/>
<circle cx="397.00" cy="711.80" r="1.0924999999999998" fill="#c16948"/>
<circle cx="398.80" cy="726.30" r="1.0924999999999998" fill="#c16948"/>
<circle cx="400.50" cy="731.70" r="1.0924999999999998" fill="#c16948"/>
<circle cx="403.70" cy="730.30" r="1.0924999999999998" fill="#c16948"/>
<circle cx="406.90" cy="727.10" r="1.0924999999999998" fill="#c16948"/>
<circle cx="411.00" cy="734.70" r="1.0924999999999998" fill="#c16948"/>
<circle cx="417.70" cy="721.70" r="1.0924999999999998" fill="#c16948"/>
<circle cx="425.20" cy="731.20" r="1.0924999999999998" fill="#c16948"/>
<circle cx="432.00" cy="729.00" r="1.0924999999999998" fill="#c16948"/>
<circle cx="461.30" cy="734.70" r="1.0924999999999998" fill="#c16948"/>
<rect x="429.30" y="685.40" width="1.40" height="50.00" fill="#fff"/>
<line x1="429.30" y1="694.00" x2="430.70" y2="694.00" stroke="#bdbdbd" stroke-width="0.8"/>
<line x1="429.30" y1="725.00" x2="430.70" y2="725.00" stroke="#bcc4d8" stroke-width="0.8"/>
<line x1="288.50" y1="757.50" x2="288.50" y2="807.00" stroke="#555" stroke-width="1.0"/>
<line x1="286.75" y1="757.50" x2="288.25" y2="757.50" stroke="#555" stroke-width="1.0"/>
<text x="286.05" y="757.50" font-size="4.2" text-anchor="end" font-weight="bold" fill="#262626" stroke="#262626" stroke-width="0.28" dominant-baseline="central">4</text>
<line x1="286.75" y1="769.50" x2="288.25" y2="769.50" stroke="#555" stroke-width="1.0"/>
<text x="286.05" y="769.50" font-size="4.2" text-anchor="end" font-weight="bold" fill="#262626" stroke="#262626" stroke-width="0.28" dominant-baseline="central">3</text>
<line x1="286.75" y1="782.50" x2="288.25" y2="782.50" stroke="#555" stroke-width="1.0"/>
<text x="286.05" y="782.00" font-size="4.2" text-anchor="end" font-weight="bold" fill="#262626" stroke="#262626" stroke-width="0.28" dominant-baseline="central">2</text>
<line x1="286.75" y1="794.50" x2="288.25" y2="794.50" stroke="#555" stroke-width="1.0"/>
<text x="286.05" y="794.25" font-size="4.2" text-anchor="end" font-weight="bold" fill="#262626" stroke="#262626" stroke-width="0.28" dominant-baseline="central">1</text>
<line x1="286.75" y1="807.50" x2="288.25" y2="807.50" stroke="#555" stroke-width="1.0"/>
<text x="286.05" y="807.00" font-size="4.2" text-anchor="end" font-weight="bold" fill="#262626" stroke="#262626" stroke-width="0.28" dominant-baseline="central">0</text>
<line x1="288.25" y1="807.50" x2="327.00" y2="807.50" stroke="#555" stroke-width="1.0"/>
<line x1="329.00" y1="807.50" x2="368.00" y2="807.50" stroke="#555" stroke-width="1.0"/>
<line x1="290.50" y1="807.00" x2="290.50" y2="808.50" stroke="#555" stroke-width="1.0"/>
<text x="290.50" y="811.40" font-size="4.2" text-anchor="middle" font-weight="bold" fill="#262626" stroke="#262626" stroke-width="0.28" dominant-baseline="central">0</text>
<line x1="303.50" y1="807.00" x2="303.50" y2="808.50" stroke="#555" stroke-width="1.0"/>
<text x="303.00" y="811.40" font-size="4.2" text-anchor="middle" font-weight="bold" fill="#262626" stroke="#262626" stroke-width="0.28" dominant-baseline="central">10</text>
<line x1="314.50" y1="807.00" x2="314.50" y2="808.50" stroke="#555" stroke-width="1.0"/>
<text x="314.25" y="811.40" font-size="4.2" text-anchor="middle" font-weight="bold" fill="#262626" stroke="#262626" stroke-width="0.28" dominant-baseline="central">20</text>
<line x1="325.50" y1="807.00" x2="325.50" y2="808.50" stroke="#555" stroke-width="1.0"/>
<text x="325.50" y="811.40" font-size="4.2" text-anchor="middle" font-weight="bold" fill="#262626" stroke="#262626" stroke-width="0.28" dominant-baseline="central">30</text>
<line x1="336.50" y1="807.00" x2="336.50" y2="808.50" stroke="#555" stroke-width="1.0"/>
<text x="336.25" y="811.40" font-size="4.2" text-anchor="middle" font-weight="bold" fill="#262626" stroke="#262626" stroke-width="0.28" dominant-baseline="central">60</text>
<line x1="349.50" y1="807.00" x2="349.50" y2="808.50" stroke="#555" stroke-width="1.0"/>
<text x="349.50" y="811.40" font-size="4.2" text-anchor="middle" font-weight="bold" fill="#262626" stroke="#262626" stroke-width="0.28" dominant-baseline="central">80</text>
<line x1="366.50" y1="807.00" x2="366.50" y2="808.50" stroke="#555" stroke-width="1.0"/>
<text x="366.25" y="811.40" font-size="4.2" text-anchor="middle" font-weight="bold" fill="#262626" stroke="#262626" stroke-width="0.28" dominant-baseline="central">100</text>
<line x1="288.75" y1="776.25" x2="368.00" y2="776.25" stroke="#bdbdbd" stroke-width="0.8"/>
<line x1="288.75" y1="798.25" x2="368.00" y2="798.25" stroke="#bcc4d8" stroke-width="0.8"/>
<text x="326.25" y="754.30" font-size="4.5" text-anchor="middle" font-weight="normal" fill="#333" stroke="#333" stroke-width="0.17" dominant-baseline="central" stroke-opacity="0.45">Pt007</text>
<text x="326.25" y="817.50" font-size="4.75" text-anchor="middle" font-weight="bold" fill="#262626" stroke="#262626" stroke-width="0.28" dominant-baseline="central" textLength="32.6" lengthAdjust="spacingAndGlyphs">Time point (day)</text>
<text x="278.30" y="782.25" font-size="4.2" font-weight="bold" text-anchor="middle" fill="#262626" stroke="#262626" stroke-width="0.28" dominant-baseline="central" transform="rotate(-90 278.30 782.25)">CD4/CD8</text>
<polyline points="289.50,760.00 292.50,777.50 294.25,800.75 296.25,797.00 298.00,760.50 299.25,803.00 302.50,805.00 306.75,806.00 315.00,801.75 323.75,799.50 336.75,793.75 357.50,796.25" fill="none" stroke="#f2845a" stroke-width="0.875" stroke-linejoin="round"/>
<circle cx="289.50" cy="760.00" r="1.0924999999999998" fill="#c16948"/>
<circle cx="292.50" cy="777.50" r="1.0924999999999998" fill="#c16948"/>
<circle cx="294.25" cy="800.75" r="1.0924999999999998" fill="#c16948"/>
<circle cx="296.25" cy="797.00" r="1.0924999999999998" fill="#c16948"/>
<circle cx="298.00" cy="760.50" r="1.0924999999999998" fill="#c16948"/>
<circle cx="299.25" cy="803.00" r="1.0924999999999998" fill="#c16948"/>
<circle cx="302.50" cy="805.00" r="1.0924999999999998" fill="#c16948"/>
<circle cx="306.75" cy="806.00" r="1.0924999999999998" fill="#c16948"/>
<circle cx="315.00" cy="801.75" r="1.0924999999999998" fill="#c16948"/>
<circle cx="323.75" cy="799.50" r="1.0924999999999998" fill="#c16948"/>
<circle cx="336.75" cy="793.75" r="1.0924999999999998" fill="#c16948"/>
<circle cx="357.50" cy="796.25" r="1.0924999999999998" fill="#c16948"/>
<rect x="327.30" y="757.50" width="1.40" height="48.90" fill="#fff"/>
<line x1="327.30" y1="776.25" x2="328.70" y2="776.25" stroke="#bdbdbd" stroke-width="0.8"/>
<line x1="327.30" y1="798.25" x2="328.70" y2="798.25" stroke="#bcc4d8" stroke-width="0.8"/>
<line x1="390.50" y1="755.90" x2="390.50" y2="806.50" stroke="#555" stroke-width="1.0"/>
<line x1="389.30" y1="755.50" x2="390.80" y2="755.50" stroke="#555" stroke-width="1.0"/>
<text x="388.60" y="755.90" font-size="4.2" text-anchor="end" font-weight="bold" fill="#262626" stroke="#262626" stroke-width="0.28" dominant-baseline="central">4</text>
<line x1="389.30" y1="768.50" x2="390.80" y2="768.50" stroke="#555" stroke-width="1.0"/>
<text x="388.60" y="768.80" font-size="4.2" text-anchor="end" font-weight="bold" fill="#262626" stroke="#262626" stroke-width="0.28" dominant-baseline="central">3</text>
<line x1="389.30" y1="781.50" x2="390.80" y2="781.50" stroke="#555" stroke-width="1.0"/>
<text x="388.60" y="781.80" font-size="4.2" text-anchor="end" font-weight="bold" fill="#262626" stroke="#262626" stroke-width="0.28" dominant-baseline="central">2</text>
<line x1="389.30" y1="793.50" x2="390.80" y2="793.50" stroke="#555" stroke-width="1.0"/>
<text x="388.60" y="793.60" font-size="4.2" text-anchor="end" font-weight="bold" fill="#262626" stroke="#262626" stroke-width="0.28" dominant-baseline="central">1</text>
<line x1="389.30" y1="806.50" x2="390.80" y2="806.50" stroke="#555" stroke-width="1.0"/>
<text x="388.60" y="806.50" font-size="4.2" text-anchor="end" font-weight="bold" fill="#262626" stroke="#262626" stroke-width="0.28" dominant-baseline="central">0</text>
<line x1="390.80" y1="806.50" x2="468.00" y2="806.50" stroke="#555" stroke-width="1.0"/>
<line x1="393.50" y1="806.50" x2="393.50" y2="808.00" stroke="#555" stroke-width="1.0"/>
<text x="393.00" y="810.90" font-size="4.2" text-anchor="middle" font-weight="bold" fill="#262626" stroke="#262626" stroke-width="0.28" dominant-baseline="central">0</text>
<line x1="406.50" y1="806.50" x2="406.50" y2="808.00" stroke="#555" stroke-width="1.0"/>
<text x="406.10" y="810.90" font-size="4.2" text-anchor="middle" font-weight="bold" fill="#262626" stroke="#262626" stroke-width="0.28" dominant-baseline="central">5</text>
<line x1="419.50" y1="806.50" x2="419.50" y2="808.00" stroke="#555" stroke-width="1.0"/>
<text x="419.00" y="810.90" font-size="4.2" text-anchor="middle" font-weight="bold" fill="#262626" stroke="#262626" stroke-width="0.28" dominant-baseline="central">10</text>
<line x1="430.50" y1="806.50" x2="430.50" y2="808.00" stroke="#555" stroke-width="1.0"/>
<text x="430.60" y="810.90" font-size="4.2" text-anchor="middle" font-weight="bold" fill="#262626" stroke="#262626" stroke-width="0.28" dominant-baseline="central">15</text>
<line x1="442.50" y1="806.50" x2="442.50" y2="808.00" stroke="#555" stroke-width="1.0"/>
<text x="442.50" y="810.90" font-size="4.2" text-anchor="middle" font-weight="bold" fill="#262626" stroke="#262626" stroke-width="0.28" dominant-baseline="central">20</text>
<line x1="454.50" y1="806.50" x2="454.50" y2="808.00" stroke="#555" stroke-width="1.0"/>
<text x="454.90" y="810.90" font-size="4.2" text-anchor="middle" font-weight="bold" fill="#262626" stroke="#262626" stroke-width="0.28" dominant-baseline="central">25</text>
<line x1="466.50" y1="806.50" x2="466.50" y2="808.00" stroke="#555" stroke-width="1.0"/>
<text x="466.70" y="810.90" font-size="4.2" text-anchor="middle" font-weight="bold" fill="#262626" stroke="#262626" stroke-width="0.28" dominant-baseline="central">30</text>
<line x1="391.30" y1="776.10" x2="468.00" y2="776.10" stroke="#bdbdbd" stroke-width="0.8"/>
<line x1="391.30" y1="798.50" x2="468.00" y2="798.50" stroke="#bcc4d8" stroke-width="0.8"/>
<text x="429.80" y="754.60" font-size="4.5" text-anchor="middle" font-weight="normal" fill="#333" stroke="#333" stroke-width="0.17" dominant-baseline="central" stroke-opacity="0.45">Pt008</text>
<text x="430.00" y="816.80" font-size="4.75" text-anchor="middle" font-weight="bold" fill="#262626" stroke="#262626" stroke-width="0.28" dominant-baseline="central" textLength="32.6" lengthAdjust="spacingAndGlyphs">Time point (day)</text>
<text x="381.00" y="781.20" font-size="4.2" font-weight="bold" text-anchor="middle" fill="#262626" stroke="#262626" stroke-width="0.28" dominant-baseline="central" transform="rotate(-90 381.00 781.20)">CD4/CD8</text>
<polyline points="390.80,781.00 396.20,792.50 406.10,762.10 411.00,806.50 419.00,806.50 430.00,806.00 442.50,806.00 448.00,806.00 459.40,805.20" fill="none" stroke="#f2845a" stroke-width="0.875" stroke-linejoin="round"/>
<circle cx="390.80" cy="781.00" r="1.0924999999999998" fill="#c16948"/>
<circle cx="396.20" cy="792.50" r="1.0924999999999998" fill="#c16948"/>
<circle cx="406.10" cy="762.10" r="1.0924999999999998" fill="#c16948"/>
<circle cx="411.00" cy="806.50" r="1.0924999999999998" fill="#c16948"/>
<circle cx="419.00" cy="806.50" r="1.0924999999999998" fill="#c16948"/>
<circle cx="430.00" cy="806.00" r="1.0924999999999998" fill="#c16948"/>
<circle cx="442.50" cy="806.00" r="1.0924999999999998" fill="#c16948"/>
<circle cx="448.00" cy="806.00" r="1.0924999999999998" fill="#c16948"/>
<circle cx="459.40" cy="805.20" r="1.0924999999999998" fill="#c16948"/>
</svg></body></html>
